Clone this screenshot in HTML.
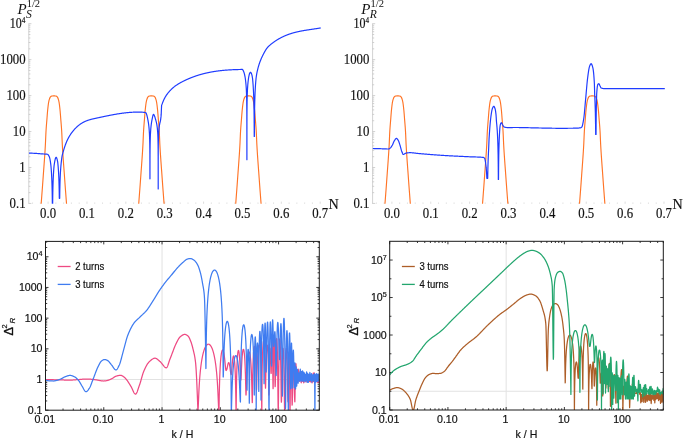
<!DOCTYPE html>
<html><head><meta charset="utf-8"><style>
html,body{margin:0;padding:0;background:#fff;width:685px;height:439px;overflow:hidden;}
svg{display:block;}
.ts{font-family:"Liberation Serif","DejaVu Serif",serif;font-size:12.8px;fill:#111;stroke:#111;stroke-width:0.15px;}
.tl{font-family:"Liberation Serif","DejaVu Serif",serif;fill:#111;}
.ss{font-family:"Liberation Sans","DejaVu Sans",sans-serif;font-size:10.6px;fill:#111;stroke:#111;stroke-width:0.18px;}
</style></head><body>
<svg width="685" height="439" viewBox="0 0 685 439">
<rect width="685" height="439" fill="#fff"/>
<line x1="28.80" y1="23.4" x2="28.80" y2="203.8" stroke="#d2d2d2" stroke-width="1"/>
<line x1="28.80" y1="203.45" x2="31.40" y2="203.45" stroke="#b4b4b4" stroke-width="0.6"/>
<line x1="28.80" y1="192.63" x2="30.40" y2="192.63" stroke="#b4b4b4" stroke-width="0.6"/>
<line x1="28.80" y1="186.30" x2="30.40" y2="186.30" stroke="#b4b4b4" stroke-width="0.6"/>
<line x1="28.80" y1="181.81" x2="30.40" y2="181.81" stroke="#b4b4b4" stroke-width="0.6"/>
<line x1="28.80" y1="178.32" x2="30.40" y2="178.32" stroke="#b4b4b4" stroke-width="0.6"/>
<line x1="28.80" y1="175.48" x2="30.40" y2="175.48" stroke="#b4b4b4" stroke-width="0.6"/>
<line x1="28.80" y1="173.07" x2="30.40" y2="173.07" stroke="#b4b4b4" stroke-width="0.6"/>
<line x1="28.80" y1="170.98" x2="30.40" y2="170.98" stroke="#b4b4b4" stroke-width="0.6"/>
<line x1="28.80" y1="169.14" x2="30.40" y2="169.14" stroke="#b4b4b4" stroke-width="0.6"/>
<line x1="28.80" y1="167.50" x2="31.40" y2="167.50" stroke="#b4b4b4" stroke-width="0.6"/>
<line x1="28.80" y1="156.68" x2="30.40" y2="156.68" stroke="#b4b4b4" stroke-width="0.6"/>
<line x1="28.80" y1="150.35" x2="30.40" y2="150.35" stroke="#b4b4b4" stroke-width="0.6"/>
<line x1="28.80" y1="145.86" x2="30.40" y2="145.86" stroke="#b4b4b4" stroke-width="0.6"/>
<line x1="28.80" y1="142.37" x2="30.40" y2="142.37" stroke="#b4b4b4" stroke-width="0.6"/>
<line x1="28.80" y1="139.53" x2="30.40" y2="139.53" stroke="#b4b4b4" stroke-width="0.6"/>
<line x1="28.80" y1="137.12" x2="30.40" y2="137.12" stroke="#b4b4b4" stroke-width="0.6"/>
<line x1="28.80" y1="135.03" x2="30.40" y2="135.03" stroke="#b4b4b4" stroke-width="0.6"/>
<line x1="28.80" y1="133.19" x2="30.40" y2="133.19" stroke="#b4b4b4" stroke-width="0.6"/>
<line x1="28.80" y1="131.55" x2="31.40" y2="131.55" stroke="#b4b4b4" stroke-width="0.6"/>
<line x1="28.80" y1="120.73" x2="30.40" y2="120.73" stroke="#b4b4b4" stroke-width="0.6"/>
<line x1="28.80" y1="114.40" x2="30.40" y2="114.40" stroke="#b4b4b4" stroke-width="0.6"/>
<line x1="28.80" y1="109.91" x2="30.40" y2="109.91" stroke="#b4b4b4" stroke-width="0.6"/>
<line x1="28.80" y1="106.42" x2="30.40" y2="106.42" stroke="#b4b4b4" stroke-width="0.6"/>
<line x1="28.80" y1="103.58" x2="30.40" y2="103.58" stroke="#b4b4b4" stroke-width="0.6"/>
<line x1="28.80" y1="101.17" x2="30.40" y2="101.17" stroke="#b4b4b4" stroke-width="0.6"/>
<line x1="28.80" y1="99.08" x2="30.40" y2="99.08" stroke="#b4b4b4" stroke-width="0.6"/>
<line x1="28.80" y1="97.24" x2="30.40" y2="97.24" stroke="#b4b4b4" stroke-width="0.6"/>
<line x1="28.80" y1="95.60" x2="31.40" y2="95.60" stroke="#b4b4b4" stroke-width="0.6"/>
<line x1="28.80" y1="84.78" x2="30.40" y2="84.78" stroke="#b4b4b4" stroke-width="0.6"/>
<line x1="28.80" y1="78.45" x2="30.40" y2="78.45" stroke="#b4b4b4" stroke-width="0.6"/>
<line x1="28.80" y1="73.96" x2="30.40" y2="73.96" stroke="#b4b4b4" stroke-width="0.6"/>
<line x1="28.80" y1="70.47" x2="30.40" y2="70.47" stroke="#b4b4b4" stroke-width="0.6"/>
<line x1="28.80" y1="67.63" x2="30.40" y2="67.63" stroke="#b4b4b4" stroke-width="0.6"/>
<line x1="28.80" y1="65.22" x2="30.40" y2="65.22" stroke="#b4b4b4" stroke-width="0.6"/>
<line x1="28.80" y1="63.13" x2="30.40" y2="63.13" stroke="#b4b4b4" stroke-width="0.6"/>
<line x1="28.80" y1="61.29" x2="30.40" y2="61.29" stroke="#b4b4b4" stroke-width="0.6"/>
<line x1="28.80" y1="59.65" x2="31.40" y2="59.65" stroke="#b4b4b4" stroke-width="0.6"/>
<line x1="28.80" y1="48.83" x2="30.40" y2="48.83" stroke="#b4b4b4" stroke-width="0.6"/>
<line x1="28.80" y1="42.50" x2="30.40" y2="42.50" stroke="#b4b4b4" stroke-width="0.6"/>
<line x1="28.80" y1="38.01" x2="30.40" y2="38.01" stroke="#b4b4b4" stroke-width="0.6"/>
<line x1="28.80" y1="34.52" x2="30.40" y2="34.52" stroke="#b4b4b4" stroke-width="0.6"/>
<line x1="28.80" y1="31.68" x2="30.40" y2="31.68" stroke="#b4b4b4" stroke-width="0.6"/>
<line x1="28.80" y1="29.27" x2="30.40" y2="29.27" stroke="#b4b4b4" stroke-width="0.6"/>
<line x1="28.80" y1="27.18" x2="30.40" y2="27.18" stroke="#b4b4b4" stroke-width="0.6"/>
<line x1="28.80" y1="25.34" x2="30.40" y2="25.34" stroke="#b4b4b4" stroke-width="0.6"/>
<line x1="28.80" y1="23.70" x2="31.40" y2="23.70" stroke="#b4b4b4" stroke-width="0.6"/>
<line x1="32.55" y1="203.8" x2="32.55" y2="202.50" stroke="#c8c8c8" stroke-width="0.6"/>
<line x1="40.33" y1="203.8" x2="40.33" y2="202.50" stroke="#c8c8c8" stroke-width="0.6"/>
<line x1="48.10" y1="203.8" x2="48.10" y2="201.60" stroke="#c8c8c8" stroke-width="0.6"/>
<line x1="55.87" y1="203.8" x2="55.87" y2="202.50" stroke="#c8c8c8" stroke-width="0.6"/>
<line x1="63.65" y1="203.8" x2="63.65" y2="202.50" stroke="#c8c8c8" stroke-width="0.6"/>
<line x1="71.42" y1="203.8" x2="71.42" y2="202.50" stroke="#c8c8c8" stroke-width="0.6"/>
<line x1="79.20" y1="203.8" x2="79.20" y2="202.50" stroke="#c8c8c8" stroke-width="0.6"/>
<line x1="86.97" y1="203.8" x2="86.97" y2="201.60" stroke="#c8c8c8" stroke-width="0.6"/>
<line x1="94.74" y1="203.8" x2="94.74" y2="202.50" stroke="#c8c8c8" stroke-width="0.6"/>
<line x1="102.52" y1="203.8" x2="102.52" y2="202.50" stroke="#c8c8c8" stroke-width="0.6"/>
<line x1="110.29" y1="203.8" x2="110.29" y2="202.50" stroke="#c8c8c8" stroke-width="0.6"/>
<line x1="118.07" y1="203.8" x2="118.07" y2="202.50" stroke="#c8c8c8" stroke-width="0.6"/>
<line x1="125.84" y1="203.8" x2="125.84" y2="201.60" stroke="#c8c8c8" stroke-width="0.6"/>
<line x1="133.61" y1="203.8" x2="133.61" y2="202.50" stroke="#c8c8c8" stroke-width="0.6"/>
<line x1="141.39" y1="203.8" x2="141.39" y2="202.50" stroke="#c8c8c8" stroke-width="0.6"/>
<line x1="149.16" y1="203.8" x2="149.16" y2="202.50" stroke="#c8c8c8" stroke-width="0.6"/>
<line x1="156.94" y1="203.8" x2="156.94" y2="202.50" stroke="#c8c8c8" stroke-width="0.6"/>
<line x1="164.71" y1="203.8" x2="164.71" y2="201.60" stroke="#c8c8c8" stroke-width="0.6"/>
<line x1="172.48" y1="203.8" x2="172.48" y2="202.50" stroke="#c8c8c8" stroke-width="0.6"/>
<line x1="180.26" y1="203.8" x2="180.26" y2="202.50" stroke="#c8c8c8" stroke-width="0.6"/>
<line x1="188.03" y1="203.8" x2="188.03" y2="202.50" stroke="#c8c8c8" stroke-width="0.6"/>
<line x1="195.81" y1="203.8" x2="195.81" y2="202.50" stroke="#c8c8c8" stroke-width="0.6"/>
<line x1="203.58" y1="203.8" x2="203.58" y2="201.60" stroke="#c8c8c8" stroke-width="0.6"/>
<line x1="211.35" y1="203.8" x2="211.35" y2="202.50" stroke="#c8c8c8" stroke-width="0.6"/>
<line x1="219.13" y1="203.8" x2="219.13" y2="202.50" stroke="#c8c8c8" stroke-width="0.6"/>
<line x1="226.90" y1="203.8" x2="226.90" y2="202.50" stroke="#c8c8c8" stroke-width="0.6"/>
<line x1="234.68" y1="203.8" x2="234.68" y2="202.50" stroke="#c8c8c8" stroke-width="0.6"/>
<line x1="242.45" y1="203.8" x2="242.45" y2="201.60" stroke="#c8c8c8" stroke-width="0.6"/>
<line x1="250.22" y1="203.8" x2="250.22" y2="202.50" stroke="#c8c8c8" stroke-width="0.6"/>
<line x1="258.00" y1="203.8" x2="258.00" y2="202.50" stroke="#c8c8c8" stroke-width="0.6"/>
<line x1="265.77" y1="203.8" x2="265.77" y2="202.50" stroke="#c8c8c8" stroke-width="0.6"/>
<line x1="273.55" y1="203.8" x2="273.55" y2="202.50" stroke="#c8c8c8" stroke-width="0.6"/>
<line x1="281.32" y1="203.8" x2="281.32" y2="201.60" stroke="#c8c8c8" stroke-width="0.6"/>
<line x1="289.09" y1="203.8" x2="289.09" y2="202.50" stroke="#c8c8c8" stroke-width="0.6"/>
<line x1="296.87" y1="203.8" x2="296.87" y2="202.50" stroke="#c8c8c8" stroke-width="0.6"/>
<line x1="304.64" y1="203.8" x2="304.64" y2="202.50" stroke="#c8c8c8" stroke-width="0.6"/>
<line x1="312.42" y1="203.8" x2="312.42" y2="202.50" stroke="#c8c8c8" stroke-width="0.6"/>
<line x1="320.19" y1="203.8" x2="320.19" y2="201.60" stroke="#c8c8c8" stroke-width="0.6"/>
<text transform="translate(25.60,63.95) scale(1,1.17)" text-anchor="end" class="ts">1000</text>
<text transform="translate(25.60,99.90) scale(1,1.17)" text-anchor="end" class="ts">100</text>
<text transform="translate(25.60,135.85) scale(1,1.17)" text-anchor="end" class="ts">10</text>
<text transform="translate(25.60,171.80) scale(1,1.17)" text-anchor="end" class="ts">1</text>
<text transform="translate(25.60,207.75) scale(1,1.17)" text-anchor="end" class="ts">0.1</text>
<text transform="translate(25.40,27.80) scale(1,1.22)" text-anchor="end" class="ts" style="font-size:12px">10<tspan style="font-size:7.2px" dy="-4.2">4</tspan></text>
<text transform="translate(48.10,217.9) scale(1,1.17)" text-anchor="middle" class="ts">0.0</text>
<text transform="translate(86.97,217.9) scale(1,1.17)" text-anchor="middle" class="ts">0.1</text>
<text transform="translate(125.84,217.9) scale(1,1.17)" text-anchor="middle" class="ts">0.2</text>
<text transform="translate(164.71,217.9) scale(1,1.17)" text-anchor="middle" class="ts">0.3</text>
<text transform="translate(203.58,217.9) scale(1,1.17)" text-anchor="middle" class="ts">0.4</text>
<text transform="translate(242.45,217.9) scale(1,1.17)" text-anchor="middle" class="ts">0.5</text>
<text transform="translate(281.32,217.9) scale(1,1.17)" text-anchor="middle" class="ts">0.6</text>
<text transform="translate(320.19,217.9) scale(1,1.17)" text-anchor="middle" class="ts">0.7</text>
<text transform="translate(328.60,208.8) scale(1,1.08)" class="ts" style="font-size:14.2px">N</text>
<text x="17.50" y="13.7" class="tl" style="font-size:15px;font-style:italic">P</text>
<text x="26.70" y="6.8" class="tl" style="font-size:10.5px">1/2</text>
<text x="26.00" y="17.6" class="tl" style="font-size:11.6px;font-style:italic">S</text>
<clipPath id="clipT0"><rect x="28.80" y="0" width="300" height="203.80"/></clipPath>
<g clip-path="url(#clipT0)" fill="none" stroke-linejoin="round">
<path d="M40.85 207.90L40.90 207.26L40.95 206.63L41.00 205.99L41.05 205.35L41.10 204.70L41.15 204.06L41.20 203.41L41.25 202.77L41.30 202.12L41.35 201.47L41.40 200.82L41.45 200.17L41.50 199.51L41.55 198.86L41.60 198.20L41.65 197.54L41.70 196.88L41.75 196.22L41.80 195.56L41.85 194.89L41.90 194.23L41.95 193.56L42.00 192.89L42.05 192.22L42.10 191.55L42.16 190.88L42.21 190.21L42.26 189.53L42.31 188.86L42.36 188.18L42.41 187.50L42.46 186.82L42.51 186.14L42.56 185.46L42.61 184.77L42.66 184.09L42.71 183.40L42.76 182.71L42.81 182.03L42.86 181.34L42.91 180.64L42.96 179.95L43.01 179.26L43.06 178.56L43.11 177.87L43.16 177.17L43.21 176.47L43.26 175.77L43.31 175.07L43.36 174.38L43.41 173.69L43.46 173.01L43.51 172.32L43.56 171.64L43.61 170.97L43.66 170.29L43.71 169.61L43.76 168.94L43.81 168.27L43.86 167.59L43.91 166.92L43.96 166.24L44.01 165.56L44.06 164.88L44.11 164.20L44.16 163.51L44.21 162.82L44.26 162.13L44.31 161.43L44.36 160.73L44.41 160.02L44.46 159.30L44.51 158.58L44.56 157.86L44.61 157.12L44.66 156.38L44.71 155.63L44.77 154.87L44.82 154.11L44.87 153.33L44.92 152.54L44.97 151.74L45.02 150.94L45.07 150.12L45.12 149.29L45.17 148.44L45.22 147.59L45.27 146.72L45.32 145.83L45.37 144.93L45.42 143.96L45.47 142.93L45.52 141.83L45.57 140.70L45.62 139.54L45.67 138.36L45.72 137.20L45.77 136.05L45.82 134.93L45.87 133.86L45.92 132.85L45.97 131.92L46.02 131.07L46.07 130.27L46.12 129.50L46.17 128.75L46.22 128.03L46.27 127.33L46.32 126.64L46.37 125.98L46.42 125.33L46.47 124.70L46.52 124.07L46.57 123.46L46.62 122.85L46.67 122.24L46.72 121.64L46.77 121.04L46.82 120.43L46.87 119.83L46.92 119.21L46.97 118.58L47.02 117.95L47.07 117.30L47.12 116.64L47.17 115.98L47.22 115.31L47.27 114.65L47.32 114.00L47.38 113.36L47.43 112.73L47.48 112.13L47.53 111.55L47.58 111.00L47.63 110.48L47.68 110.00L47.73 109.52L47.78 109.05L47.83 108.59L47.88 108.13L47.93 107.67L47.98 107.23L48.03 106.79L48.08 106.36L48.13 105.94L48.18 105.53L48.23 105.13L48.28 104.74L48.33 104.36L48.38 103.99L48.43 103.64L48.48 103.29L48.53 102.96L48.58 102.65L48.63 102.34L48.68 102.06L48.73 101.78L48.78 101.53L48.83 101.29L48.88 101.06L48.93 100.85L48.98 100.64L49.03 100.45L49.08 100.26L49.13 100.08L49.18 99.90L49.23 99.74L49.28 99.58L49.33 99.42L49.38 99.27L49.43 99.13L49.48 98.99L49.53 98.85L49.58 98.72L49.63 98.59L49.68 98.46L49.73 98.34L49.78 98.21L49.83 98.09L49.88 97.96L49.93 97.84L49.99 97.73L50.04 97.61L50.09 97.51L50.14 97.40L50.19 97.30L50.24 97.21L50.29 97.13L50.34 97.05L50.39 96.98L50.44 96.91L50.49 96.86L50.54 96.80L50.59 96.75L50.64 96.70L50.69 96.65L50.74 96.60L50.79 96.56L50.84 96.51L50.89 96.47L50.94 96.43L50.99 96.39L51.04 96.35L51.09 96.32L51.14 96.29L51.19 96.26L51.24 96.23L51.29 96.21L51.34 96.19L51.39 96.17L51.44 96.15L51.49 96.14L51.54 96.13L51.59 96.11L51.64 96.10L51.69 96.09L51.74 96.08L51.79 96.07L51.84 96.06L51.89 96.05L51.94 96.04L51.99 96.03L52.04 96.02L52.09 96.01L52.14 96.00L52.19 96.00L52.24 95.99L52.29 95.98L52.34 95.98L52.39 95.97L52.44 95.97L52.49 95.96L52.54 95.96L52.60 95.95L52.65 95.95L52.70 95.95L52.75 95.94L52.80 95.94L52.85 95.94L52.90 95.93L52.95 95.93L53.00 95.93L53.05 95.93L53.10 95.92L53.15 95.92L53.20 95.92L53.25 95.92L53.30 95.91L53.35 95.91L53.40 95.91L53.45 95.91L53.50 95.91L53.55 95.90L53.60 95.90L53.65 95.90L53.70 95.90L53.75 95.90L53.80 95.90L53.85 95.90L53.90 95.90L53.95 95.90L54.00 95.90L54.05 95.90L54.10 95.90L54.15 95.90L54.20 95.91L54.25 95.91L54.30 95.91L54.35 95.91L54.40 95.91L54.45 95.92L54.50 95.92L54.55 95.92L54.60 95.92L54.65 95.93L54.70 95.93L54.75 95.93L54.80 95.93L54.85 95.94L54.90 95.94L54.95 95.94L55.00 95.95L55.05 95.95L55.10 95.95L55.16 95.96L55.21 95.96L55.26 95.97L55.31 95.97L55.36 95.98L55.41 95.98L55.46 95.99L55.51 96.00L55.56 96.00L55.61 96.01L55.66 96.02L55.71 96.03L55.76 96.04L55.81 96.05L55.86 96.06L55.91 96.07L55.96 96.08L56.01 96.09L56.06 96.10L56.11 96.11L56.16 96.13L56.21 96.14L56.26 96.15L56.31 96.17L56.36 96.19L56.41 96.21L56.46 96.23L56.51 96.26L56.56 96.29L56.61 96.32L56.66 96.35L56.71 96.39L56.76 96.43L56.81 96.47L56.86 96.51L56.91 96.56L56.96 96.60L57.01 96.65L57.06 96.70L57.11 96.75L57.16 96.80L57.21 96.86L57.26 96.91L57.31 96.98L57.36 97.05L57.41 97.13L57.46 97.21L57.51 97.30L57.56 97.40L57.61 97.51L57.66 97.61L57.71 97.73L57.77 97.84L57.82 97.96L57.87 98.09L57.92 98.21L57.97 98.34L58.02 98.46L58.07 98.59L58.12 98.72L58.17 98.85L58.22 98.99L58.27 99.13L58.32 99.27L58.37 99.42L58.42 99.58L58.47 99.74L58.52 99.90L58.57 100.08L58.62 100.26L58.67 100.45L58.72 100.64L58.77 100.85L58.82 101.06L58.87 101.29L58.92 101.53L58.97 101.78L59.02 102.06L59.07 102.34L59.12 102.65L59.17 102.96L59.22 103.29L59.27 103.64L59.32 103.99L59.37 104.36L59.42 104.74L59.47 105.13L59.52 105.53L59.57 105.94L59.62 106.36L59.67 106.79L59.72 107.23L59.77 107.67L59.82 108.13L59.87 108.59L59.92 109.05L59.97 109.52L60.02 110.00L60.07 110.48L60.12 111.00L60.17 111.55L60.22 112.13L60.27 112.73L60.32 113.36L60.38 114.00L60.43 114.65L60.48 115.31L60.53 115.98L60.58 116.64L60.63 117.30L60.68 117.95L60.73 118.58L60.78 119.21L60.83 119.83L60.88 120.43L60.93 121.04L60.98 121.64L61.03 122.24L61.08 122.85L61.13 123.46L61.18 124.07L61.23 124.70L61.28 125.33L61.33 125.98L61.38 126.64L61.43 127.33L61.48 128.03L61.53 128.75L61.58 129.50L61.63 130.27L61.68 131.07L61.73 131.92L61.78 132.85L61.83 133.86L61.88 134.93L61.93 136.05L61.98 137.20L62.03 138.36L62.08 139.54L62.13 140.70L62.18 141.83L62.23 142.93L62.28 143.96L62.33 144.93L62.38 145.83L62.43 146.72L62.48 147.59L62.53 148.44L62.58 149.29L62.63 150.12L62.68 150.94L62.73 151.74L62.78 152.54L62.83 153.33L62.88 154.11L62.93 154.87L62.99 155.63L63.04 156.38L63.09 157.12L63.14 157.86L63.19 158.58L63.24 159.30L63.29 160.02L63.34 160.73L63.39 161.43L63.44 162.13L63.49 162.82L63.54 163.51L63.59 164.20L63.64 164.88L63.69 165.56L63.74 166.24L63.79 166.92L63.84 167.59L63.89 168.27L63.94 168.94L63.99 169.61L64.04 170.29L64.09 170.97L64.14 171.64L64.19 172.32L64.24 173.01L64.29 173.69L64.34 174.38L64.39 175.07L64.44 175.77L64.49 176.47L64.54 177.17L64.59 177.87L64.64 178.56L64.69 179.26L64.74 179.95L64.79 180.64L64.84 181.34L64.89 182.03L64.94 182.71L64.99 183.40L65.04 184.09L65.09 184.77L65.14 185.46L65.19 186.14L65.24 186.82L65.29 187.50L65.34 188.18L65.39 188.86L65.44 189.53L65.49 190.21L65.54 190.88L65.60 191.55L65.65 192.22L65.70 192.89L65.75 193.56L65.80 194.23L65.85 194.89L65.90 195.56L65.95 196.22L66.00 196.88L66.05 197.54L66.10 198.20L66.15 198.86L66.20 199.51L66.25 200.17L66.30 200.82L66.35 201.47L66.40 202.12L66.45 202.77L66.50 203.41L66.55 204.06L66.60 204.70L66.65 205.35L66.70 205.99L66.75 206.63L66.80 207.26L66.85 207.90" stroke="#ff7426" stroke-width="1.15"/>
<path d="M138.40 207.90L138.45 207.26L138.50 206.63L138.55 205.99L138.60 205.35L138.65 204.70L138.70 204.06L138.75 203.41L138.80 202.77L138.85 202.12L138.90 201.47L138.95 200.82L139.00 200.17L139.05 199.51L139.10 198.86L139.15 198.20L139.20 197.54L139.25 196.88L139.30 196.22L139.35 195.56L139.40 194.89L139.45 194.23L139.50 193.56L139.55 192.89L139.60 192.22L139.65 191.55L139.71 190.88L139.76 190.21L139.81 189.53L139.86 188.86L139.91 188.18L139.96 187.50L140.01 186.82L140.06 186.14L140.11 185.46L140.16 184.77L140.21 184.09L140.26 183.40L140.31 182.71L140.36 182.03L140.41 181.34L140.46 180.64L140.51 179.95L140.56 179.26L140.61 178.56L140.66 177.87L140.71 177.17L140.76 176.47L140.81 175.77L140.86 175.07L140.91 174.38L140.96 173.69L141.01 173.01L141.06 172.32L141.11 171.64L141.16 170.97L141.21 170.29L141.26 169.61L141.31 168.94L141.36 168.27L141.41 167.59L141.46 166.92L141.51 166.24L141.56 165.56L141.61 164.88L141.66 164.20L141.71 163.51L141.76 162.82L141.81 162.13L141.86 161.43L141.91 160.73L141.96 160.02L142.01 159.30L142.06 158.58L142.11 157.86L142.16 157.12L142.21 156.38L142.26 155.63L142.32 154.87L142.37 154.11L142.42 153.33L142.47 152.54L142.52 151.74L142.57 150.94L142.62 150.12L142.67 149.29L142.72 148.44L142.77 147.59L142.82 146.72L142.87 145.83L142.92 144.93L142.97 143.96L143.02 142.93L143.07 141.83L143.12 140.70L143.17 139.54L143.22 138.36L143.27 137.20L143.32 136.05L143.37 134.93L143.42 133.86L143.47 132.85L143.52 131.92L143.57 131.07L143.62 130.27L143.67 129.50L143.72 128.75L143.77 128.03L143.82 127.33L143.87 126.64L143.92 125.98L143.97 125.33L144.02 124.70L144.07 124.07L144.12 123.46L144.17 122.85L144.22 122.24L144.27 121.64L144.32 121.04L144.37 120.43L144.42 119.83L144.47 119.21L144.52 118.58L144.57 117.95L144.62 117.30L144.67 116.64L144.72 115.98L144.77 115.31L144.82 114.65L144.87 114.00L144.93 113.36L144.98 112.73L145.03 112.13L145.08 111.55L145.13 111.00L145.18 110.48L145.23 110.00L145.28 109.52L145.33 109.05L145.38 108.59L145.43 108.13L145.48 107.67L145.53 107.23L145.58 106.79L145.63 106.36L145.68 105.94L145.73 105.53L145.78 105.13L145.83 104.74L145.88 104.36L145.93 103.99L145.98 103.64L146.03 103.29L146.08 102.96L146.13 102.65L146.18 102.34L146.23 102.06L146.28 101.78L146.33 101.53L146.38 101.29L146.43 101.06L146.48 100.85L146.53 100.64L146.58 100.45L146.63 100.26L146.68 100.08L146.73 99.90L146.78 99.74L146.83 99.58L146.88 99.42L146.93 99.27L146.98 99.13L147.03 98.99L147.08 98.85L147.13 98.72L147.18 98.59L147.23 98.46L147.28 98.34L147.33 98.21L147.38 98.09L147.43 97.96L147.48 97.84L147.54 97.73L147.59 97.61L147.64 97.51L147.69 97.40L147.74 97.30L147.79 97.21L147.84 97.13L147.89 97.05L147.94 96.98L147.99 96.91L148.04 96.86L148.09 96.80L148.14 96.75L148.19 96.70L148.24 96.65L148.29 96.60L148.34 96.56L148.39 96.51L148.44 96.47L148.49 96.43L148.54 96.39L148.59 96.35L148.64 96.32L148.69 96.29L148.74 96.26L148.79 96.23L148.84 96.21L148.89 96.19L148.94 96.17L148.99 96.15L149.04 96.14L149.09 96.13L149.14 96.11L149.19 96.10L149.24 96.09L149.29 96.08L149.34 96.07L149.39 96.06L149.44 96.05L149.49 96.04L149.54 96.03L149.59 96.02L149.64 96.01L149.69 96.00L149.74 96.00L149.79 95.99L149.84 95.98L149.89 95.98L149.94 95.97L149.99 95.97L150.04 95.96L150.09 95.96L150.15 95.95L150.20 95.95L150.25 95.95L150.30 95.94L150.35 95.94L150.40 95.94L150.45 95.93L150.50 95.93L150.55 95.93L150.60 95.93L150.65 95.92L150.70 95.92L150.75 95.92L150.80 95.92L150.85 95.91L150.90 95.91L150.95 95.91L151.00 95.91L151.05 95.91L151.10 95.90L151.15 95.90L151.20 95.90L151.25 95.90L151.30 95.90L151.35 95.90L151.40 95.90L151.45 95.90L151.50 95.90L151.55 95.90L151.60 95.90L151.65 95.90L151.70 95.90L151.75 95.91L151.80 95.91L151.85 95.91L151.90 95.91L151.95 95.91L152.00 95.92L152.05 95.92L152.10 95.92L152.15 95.92L152.20 95.93L152.25 95.93L152.30 95.93L152.35 95.93L152.40 95.94L152.45 95.94L152.50 95.94L152.55 95.95L152.60 95.95L152.65 95.95L152.71 95.96L152.76 95.96L152.81 95.97L152.86 95.97L152.91 95.98L152.96 95.98L153.01 95.99L153.06 96.00L153.11 96.00L153.16 96.01L153.21 96.02L153.26 96.03L153.31 96.04L153.36 96.05L153.41 96.06L153.46 96.07L153.51 96.08L153.56 96.09L153.61 96.10L153.66 96.11L153.71 96.13L153.76 96.14L153.81 96.15L153.86 96.17L153.91 96.19L153.96 96.21L154.01 96.23L154.06 96.26L154.11 96.29L154.16 96.32L154.21 96.35L154.26 96.39L154.31 96.43L154.36 96.47L154.41 96.51L154.46 96.56L154.51 96.60L154.56 96.65L154.61 96.70L154.66 96.75L154.71 96.80L154.76 96.86L154.81 96.91L154.86 96.98L154.91 97.05L154.96 97.13L155.01 97.21L155.06 97.30L155.11 97.40L155.16 97.51L155.21 97.61L155.26 97.73L155.32 97.84L155.37 97.96L155.42 98.09L155.47 98.21L155.52 98.34L155.57 98.46L155.62 98.59L155.67 98.72L155.72 98.85L155.77 98.99L155.82 99.13L155.87 99.27L155.92 99.42L155.97 99.58L156.02 99.74L156.07 99.90L156.12 100.08L156.17 100.26L156.22 100.45L156.27 100.64L156.32 100.85L156.37 101.06L156.42 101.29L156.47 101.53L156.52 101.78L156.57 102.06L156.62 102.34L156.67 102.65L156.72 102.96L156.77 103.29L156.82 103.64L156.87 103.99L156.92 104.36L156.97 104.74L157.02 105.13L157.07 105.53L157.12 105.94L157.17 106.36L157.22 106.79L157.27 107.23L157.32 107.67L157.37 108.13L157.42 108.59L157.47 109.05L157.52 109.52L157.57 110.00L157.62 110.48L157.67 111.00L157.72 111.55L157.77 112.13L157.82 112.73L157.87 113.36L157.93 114.00L157.98 114.65L158.03 115.31L158.08 115.98L158.13 116.64L158.18 117.30L158.23 117.95L158.28 118.58L158.33 119.21L158.38 119.83L158.43 120.43L158.48 121.04L158.53 121.64L158.58 122.24L158.63 122.85L158.68 123.46L158.73 124.07L158.78 124.70L158.83 125.33L158.88 125.98L158.93 126.64L158.98 127.33L159.03 128.03L159.08 128.75L159.13 129.50L159.18 130.27L159.23 131.07L159.28 131.92L159.33 132.85L159.38 133.86L159.43 134.93L159.48 136.05L159.53 137.20L159.58 138.36L159.63 139.54L159.68 140.70L159.73 141.83L159.78 142.93L159.83 143.96L159.88 144.93L159.93 145.83L159.98 146.72L160.03 147.59L160.08 148.44L160.13 149.29L160.18 150.12L160.23 150.94L160.28 151.74L160.33 152.54L160.38 153.33L160.43 154.11L160.48 154.87L160.54 155.63L160.59 156.38L160.64 157.12L160.69 157.86L160.74 158.58L160.79 159.30L160.84 160.02L160.89 160.73L160.94 161.43L160.99 162.13L161.04 162.82L161.09 163.51L161.14 164.20L161.19 164.88L161.24 165.56L161.29 166.24L161.34 166.92L161.39 167.59L161.44 168.27L161.49 168.94L161.54 169.61L161.59 170.29L161.64 170.97L161.69 171.64L161.74 172.32L161.79 173.01L161.84 173.69L161.89 174.38L161.94 175.07L161.99 175.77L162.04 176.47L162.09 177.17L162.14 177.87L162.19 178.56L162.24 179.26L162.29 179.95L162.34 180.64L162.39 181.34L162.44 182.03L162.49 182.71L162.54 183.40L162.59 184.09L162.64 184.77L162.69 185.46L162.74 186.14L162.79 186.82L162.84 187.50L162.89 188.18L162.94 188.86L162.99 189.53L163.04 190.21L163.09 190.88L163.15 191.55L163.20 192.22L163.25 192.89L163.30 193.56L163.35 194.23L163.40 194.89L163.45 195.56L163.50 196.22L163.55 196.88L163.60 197.54L163.65 198.20L163.70 198.86L163.75 199.51L163.80 200.17L163.85 200.82L163.90 201.47L163.95 202.12L164.00 202.77L164.05 203.41L164.10 204.06L164.15 204.70L164.20 205.35L164.25 205.99L164.30 206.63L164.35 207.26L164.40 207.90" stroke="#ff7426" stroke-width="1.15"/>
<path d="M235.40 207.90L235.45 207.26L235.50 206.63L235.55 205.99L235.60 205.35L235.65 204.70L235.70 204.06L235.75 203.41L235.80 202.77L235.85 202.12L235.90 201.47L235.95 200.82L236.00 200.17L236.05 199.51L236.10 198.86L236.15 198.20L236.20 197.54L236.25 196.88L236.30 196.22L236.35 195.56L236.40 194.89L236.45 194.23L236.50 193.56L236.55 192.89L236.60 192.22L236.65 191.55L236.71 190.88L236.76 190.21L236.81 189.53L236.86 188.86L236.91 188.18L236.96 187.50L237.01 186.82L237.06 186.14L237.11 185.46L237.16 184.77L237.21 184.09L237.26 183.40L237.31 182.71L237.36 182.03L237.41 181.34L237.46 180.64L237.51 179.95L237.56 179.26L237.61 178.56L237.66 177.87L237.71 177.17L237.76 176.47L237.81 175.77L237.86 175.07L237.91 174.38L237.96 173.69L238.01 173.01L238.06 172.32L238.11 171.64L238.16 170.97L238.21 170.29L238.26 169.61L238.31 168.94L238.36 168.27L238.41 167.59L238.46 166.92L238.51 166.24L238.56 165.56L238.61 164.88L238.66 164.20L238.71 163.51L238.76 162.82L238.81 162.13L238.86 161.43L238.91 160.73L238.96 160.02L239.01 159.30L239.06 158.58L239.11 157.86L239.16 157.12L239.21 156.38L239.26 155.63L239.32 154.87L239.37 154.11L239.42 153.33L239.47 152.54L239.52 151.74L239.57 150.94L239.62 150.12L239.67 149.29L239.72 148.44L239.77 147.59L239.82 146.72L239.87 145.83L239.92 144.93L239.97 143.96L240.02 142.93L240.07 141.83L240.12 140.70L240.17 139.54L240.22 138.36L240.27 137.20L240.32 136.05L240.37 134.93L240.42 133.86L240.47 132.85L240.52 131.92L240.57 131.07L240.62 130.27L240.67 129.50L240.72 128.75L240.77 128.03L240.82 127.33L240.87 126.64L240.92 125.98L240.97 125.33L241.02 124.70L241.07 124.07L241.12 123.46L241.17 122.85L241.22 122.24L241.27 121.64L241.32 121.04L241.37 120.43L241.42 119.83L241.47 119.21L241.52 118.58L241.57 117.95L241.62 117.30L241.67 116.64L241.72 115.98L241.77 115.31L241.82 114.65L241.87 114.00L241.93 113.36L241.98 112.73L242.03 112.13L242.08 111.55L242.13 111.00L242.18 110.48L242.23 110.00L242.28 109.52L242.33 109.05L242.38 108.59L242.43 108.13L242.48 107.67L242.53 107.23L242.58 106.79L242.63 106.36L242.68 105.94L242.73 105.53L242.78 105.13L242.83 104.74L242.88 104.36L242.93 103.99L242.98 103.64L243.03 103.29L243.08 102.96L243.13 102.65L243.18 102.34L243.23 102.06L243.28 101.78L243.33 101.53L243.38 101.29L243.43 101.06L243.48 100.85L243.53 100.64L243.58 100.45L243.63 100.26L243.68 100.08L243.73 99.90L243.78 99.74L243.83 99.58L243.88 99.42L243.93 99.27L243.98 99.13L244.03 98.99L244.08 98.85L244.13 98.72L244.18 98.59L244.23 98.46L244.28 98.34L244.33 98.21L244.38 98.09L244.43 97.96L244.48 97.84L244.54 97.73L244.59 97.61L244.64 97.51L244.69 97.40L244.74 97.30L244.79 97.21L244.84 97.13L244.89 97.05L244.94 96.98L244.99 96.91L245.04 96.86L245.09 96.80L245.14 96.75L245.19 96.70L245.24 96.65L245.29 96.60L245.34 96.56L245.39 96.51L245.44 96.47L245.49 96.43L245.54 96.39L245.59 96.35L245.64 96.32L245.69 96.29L245.74 96.26L245.79 96.23L245.84 96.21L245.89 96.19L245.94 96.17L245.99 96.15L246.04 96.14L246.09 96.13L246.14 96.11L246.19 96.10L246.24 96.09L246.29 96.08L246.34 96.07L246.39 96.06L246.44 96.05L246.49 96.04L246.54 96.03L246.59 96.02L246.64 96.01L246.69 96.00L246.74 96.00L246.79 95.99L246.84 95.98L246.89 95.98L246.94 95.97L246.99 95.97L247.04 95.96L247.09 95.96L247.15 95.95L247.20 95.95L247.25 95.95L247.30 95.94L247.35 95.94L247.40 95.94L247.45 95.93L247.50 95.93L247.55 95.93L247.60 95.93L247.65 95.92L247.70 95.92L247.75 95.92L247.80 95.92L247.85 95.91L247.90 95.91L247.95 95.91L248.00 95.91L248.05 95.91L248.10 95.90L248.15 95.90L248.20 95.90L248.25 95.90L248.30 95.90L248.35 95.90L248.40 95.90L248.45 95.90L248.50 95.90L248.55 95.90L248.60 95.90L248.65 95.90L248.70 95.90L248.75 95.91L248.80 95.91L248.85 95.91L248.90 95.91L248.95 95.91L249.00 95.92L249.05 95.92L249.10 95.92L249.15 95.92L249.20 95.93L249.25 95.93L249.30 95.93L249.35 95.93L249.40 95.94L249.45 95.94L249.50 95.94L249.55 95.95L249.60 95.95L249.65 95.95L249.71 95.96L249.76 95.96L249.81 95.97L249.86 95.97L249.91 95.98L249.96 95.98L250.01 95.99L250.06 96.00L250.11 96.00L250.16 96.01L250.21 96.02L250.26 96.03L250.31 96.04L250.36 96.05L250.41 96.06L250.46 96.07L250.51 96.08L250.56 96.09L250.61 96.10L250.66 96.11L250.71 96.13L250.76 96.14L250.81 96.15L250.86 96.17L250.91 96.19L250.96 96.21L251.01 96.23L251.06 96.26L251.11 96.29L251.16 96.32L251.21 96.35L251.26 96.39L251.31 96.43L251.36 96.47L251.41 96.51L251.46 96.56L251.51 96.60L251.56 96.65L251.61 96.70L251.66 96.75L251.71 96.80L251.76 96.86L251.81 96.91L251.86 96.98L251.91 97.05L251.96 97.13L252.01 97.21L252.06 97.30L252.11 97.40L252.16 97.51L252.21 97.61L252.26 97.73L252.32 97.84L252.37 97.96L252.42 98.09L252.47 98.21L252.52 98.34L252.57 98.46L252.62 98.59L252.67 98.72L252.72 98.85L252.77 98.99L252.82 99.13L252.87 99.27L252.92 99.42L252.97 99.58L253.02 99.74L253.07 99.90L253.12 100.08L253.17 100.26L253.22 100.45L253.27 100.64L253.32 100.85L253.37 101.06L253.42 101.29L253.47 101.53L253.52 101.78L253.57 102.06L253.62 102.34L253.67 102.65L253.72 102.96L253.77 103.29L253.82 103.64L253.87 103.99L253.92 104.36L253.97 104.74L254.02 105.13L254.07 105.53L254.12 105.94L254.17 106.36L254.22 106.79L254.27 107.23L254.32 107.67L254.37 108.13L254.42 108.59L254.47 109.05L254.52 109.52L254.57 110.00L254.62 110.48L254.67 111.00L254.72 111.55L254.77 112.13L254.82 112.73L254.87 113.36L254.93 114.00L254.98 114.65L255.03 115.31L255.08 115.98L255.13 116.64L255.18 117.30L255.23 117.95L255.28 118.58L255.33 119.21L255.38 119.83L255.43 120.43L255.48 121.04L255.53 121.64L255.58 122.24L255.63 122.85L255.68 123.46L255.73 124.07L255.78 124.70L255.83 125.33L255.88 125.98L255.93 126.64L255.98 127.33L256.03 128.03L256.08 128.75L256.13 129.50L256.18 130.27L256.23 131.07L256.28 131.92L256.33 132.85L256.38 133.86L256.43 134.93L256.48 136.05L256.53 137.20L256.58 138.36L256.63 139.54L256.68 140.70L256.73 141.83L256.78 142.93L256.83 143.96L256.88 144.93L256.93 145.83L256.98 146.72L257.03 147.59L257.08 148.44L257.13 149.29L257.18 150.12L257.23 150.94L257.28 151.74L257.33 152.54L257.38 153.33L257.43 154.11L257.48 154.87L257.54 155.63L257.59 156.38L257.64 157.12L257.69 157.86L257.74 158.58L257.79 159.30L257.84 160.02L257.89 160.73L257.94 161.43L257.99 162.13L258.04 162.82L258.09 163.51L258.14 164.20L258.19 164.88L258.24 165.56L258.29 166.24L258.34 166.92L258.39 167.59L258.44 168.27L258.49 168.94L258.54 169.61L258.59 170.29L258.64 170.97L258.69 171.64L258.74 172.32L258.79 173.01L258.84 173.69L258.89 174.38L258.94 175.07L258.99 175.77L259.04 176.47L259.09 177.17L259.14 177.87L259.19 178.56L259.24 179.26L259.29 179.95L259.34 180.64L259.39 181.34L259.44 182.03L259.49 182.71L259.54 183.40L259.59 184.09L259.64 184.77L259.69 185.46L259.74 186.14L259.79 186.82L259.84 187.50L259.89 188.18L259.94 188.86L259.99 189.53L260.04 190.21L260.09 190.88L260.15 191.55L260.20 192.22L260.25 192.89L260.30 193.56L260.35 194.23L260.40 194.89L260.45 195.56L260.50 196.22L260.55 196.88L260.60 197.54L260.65 198.20L260.70 198.86L260.75 199.51L260.80 200.17L260.85 200.82L260.90 201.47L260.95 202.12L261.00 202.77L261.05 203.41L261.10 204.06L261.15 204.70L261.20 205.35L261.25 205.99L261.30 206.63L261.35 207.26L261.40 207.90" stroke="#ff7426" stroke-width="1.15"/>
<path d="M28.80 153.10L29.00 153.10L29.20 153.11L29.40 153.11L29.60 153.12L29.80 153.12L30.00 153.13L30.20 153.13L30.40 153.14L30.60 153.15L30.80 153.15L31.00 153.16L31.20 153.17L31.40 153.18L31.60 153.18L31.80 153.19L32.00 153.20L32.20 153.21L32.40 153.22L32.60 153.23L32.80 153.23L33.00 153.24L33.20 153.25L33.40 153.26L33.60 153.27L33.80 153.28L34.00 153.29L34.20 153.30L34.40 153.31L34.60 153.32L34.80 153.33L35.00 153.34L35.20 153.36L35.40 153.37L35.60 153.38L35.80 153.39L36.00 153.40L36.00 153.40L36.20 153.41L36.40 153.42L36.60 153.44L36.80 153.45L37.00 153.47L37.20 153.48L37.40 153.50L37.60 153.51L37.80 153.53L38.00 153.55L38.20 153.56L38.40 153.58L38.60 153.60L38.80 153.62L39.00 153.63L39.20 153.65L39.40 153.67L39.60 153.69L39.80 153.71L40.00 153.73L40.20 153.74L40.40 153.76L40.60 153.78L40.80 153.80L41.00 153.82L41.20 153.83L41.40 153.85L41.60 153.87L41.80 153.88L42.00 153.90L42.00 153.90L42.20 153.91L42.40 153.93L42.60 153.94L42.80 153.95L43.00 153.96L43.20 153.97L43.40 153.98L43.60 153.99L43.80 154.00L44.00 154.01L44.20 154.02L44.40 154.03L44.60 154.04L44.80 154.04L45.00 154.06L45.20 154.07L45.40 154.08L45.60 154.09L45.80 154.11L46.00 154.12L46.20 154.14L46.40 154.16L46.60 154.18L46.80 154.20L47.00 154.23L47.20 154.25L47.40 154.28L47.50 154.30L47.60 154.32L47.80 154.42L48.00 154.58L48.20 154.80L48.40 155.07L48.60 155.39L48.80 155.75L49.00 156.15L49.20 156.59L49.40 157.06L49.50 157.30L49.60 157.58L49.80 158.31L50.00 159.25L50.20 160.38L50.40 161.68L50.60 163.12L50.80 164.68L50.90 165.50L51.00 166.56L51.03 166.90L51.15 168.29L51.20 168.94L51.26 169.69L51.36 171.09L51.40 171.71L51.45 172.48L51.53 173.88L51.60 175.04L51.61 175.28L51.68 176.67L51.75 178.07L51.80 179.20L51.81 179.47L51.87 180.86L51.92 182.26L51.97 183.66L52.00 184.78L52.01 185.05L52.05 186.45L52.08 187.84L52.12 189.24L52.15 190.64L52.18 192.03L52.20 193.24L52.20 193.43L52.23 194.83L52.25 196.22L52.27 197.62L52.29 199.02L52.31 200.41L52.32 201.81L52.34 203.21L52.35 204.60L52.36 206.00L52.40 206.00L52.60 206.00L52.64 206.00L52.65 204.60L52.66 203.21L52.68 201.81L52.69 200.41L52.71 199.02L52.73 197.62L52.75 196.22L52.77 194.83L52.80 193.43L52.80 193.24L52.82 192.03L52.85 190.64L52.88 189.24L52.92 187.84L52.95 186.45L52.99 185.05L53.00 184.78L53.03 183.66L53.08 182.26L53.13 180.86L53.19 179.47L53.20 179.20L53.25 178.07L53.32 176.67L53.39 175.28L53.40 175.04L53.47 173.88L53.55 172.48L53.60 171.71L53.64 171.09L53.74 169.69L53.80 168.94L53.85 168.29L53.97 166.90L54.00 166.55L54.10 165.50L54.20 164.82L54.40 163.52L54.60 162.29L54.80 161.17L55.00 160.15L55.20 159.26L55.40 158.52L55.60 157.94L55.80 157.54L56.00 157.33L56.10 157.30L56.20 157.32L56.40 157.50L56.60 157.83L56.80 158.31L57.00 158.93L57.20 159.68L57.40 160.53L57.60 161.49L57.70 162.00L57.80 162.89L57.84 163.25L57.96 164.50L58.00 164.92L58.08 165.76L58.18 167.01L58.20 167.20L58.28 168.26L58.37 169.51L58.40 169.88L58.46 170.76L58.54 172.01L58.60 173.09L58.61 173.27L58.68 174.52L58.74 175.77L58.80 177.02L58.80 177.11L58.85 178.27L58.90 179.52L58.94 180.78L58.99 182.03L59.00 182.49L59.02 183.28L59.06 184.53L59.09 185.78L59.12 187.03L59.15 188.29L59.18 189.54L59.20 190.66L59.20 190.79L59.22 192.04L59.25 193.29L59.26 194.54L59.28 195.80L59.30 197.05L59.31 198.30L59.40 198.30L59.60 198.30L59.69 198.30L59.70 197.05L59.72 195.80L59.74 194.54L59.75 193.29L59.78 192.04L59.80 190.79L59.80 190.66L59.82 189.54L59.85 188.29L59.88 187.03L59.91 185.78L59.94 184.53L59.98 183.28L60.00 182.49L60.01 182.03L60.06 180.78L60.10 179.52L60.15 178.27L60.20 177.11L60.20 177.02L60.26 175.77L60.32 174.52L60.39 173.27L60.40 173.09L60.46 172.01L60.54 170.76L60.60 169.88L60.63 169.51L60.72 168.26L60.80 167.20L60.82 167.01L60.92 165.76L61.00 164.92L61.04 164.50L61.16 163.25L61.20 162.91L61.30 162.00L61.40 161.15L61.60 159.46L61.80 157.88L62.00 156.53L62.10 155.97L62.20 155.50L62.40 154.72L62.60 153.98L62.60 153.98L62.80 153.22L63.00 152.47L63.10 152.11L63.20 151.74L63.40 151.03L63.60 150.34L63.60 150.34L63.80 149.66L64.00 149.00L64.10 148.68L64.20 148.36L64.40 147.73L64.60 147.11L64.60 147.11L64.80 146.52L65.00 145.93L65.10 145.64L65.20 145.36L65.40 144.81L65.60 144.27L65.60 144.27L65.80 143.74L66.00 143.22L66.10 142.97L66.20 142.72L66.40 142.23L66.60 141.76L66.60 141.76L66.80 141.29L67.00 140.84L67.10 140.62L67.20 140.40L67.40 139.97L67.60 139.55L67.60 139.55L67.80 139.14L68.00 138.74L68.10 138.54L68.20 138.35L68.40 137.96L68.60 137.59L68.60 137.59L68.80 137.23L69.00 136.87L69.10 136.70L69.20 136.53L69.40 136.19L69.60 135.86L69.60 135.86L69.80 135.53L70.00 135.21L70.10 135.06L70.20 134.90L70.40 134.60L70.60 134.30L70.60 134.30L70.80 134.00L71.00 133.72L71.10 133.57L71.20 133.43L71.40 133.15L71.60 132.88L71.60 132.88L71.80 132.61L72.00 132.34L72.10 132.21L72.20 132.08L72.40 131.82L72.60 131.56L72.60 131.56L72.80 131.31L73.00 131.06L73.10 130.93L73.20 130.81L73.40 130.57L73.60 130.33L73.60 130.33L73.80 130.10L74.00 129.86L74.10 129.75L74.20 129.63L74.40 129.41L74.60 129.19L74.60 129.19L74.80 128.97L75.00 128.75L75.10 128.65L75.20 128.54L75.40 128.33L75.60 128.13L75.60 128.13L75.80 127.92L76.00 127.73L76.10 127.63L76.20 127.53L76.40 127.34L76.60 127.15L76.60 127.15L76.80 126.96L77.00 126.77L77.10 126.68L77.20 126.59L77.40 126.41L77.60 126.24L77.60 126.24L77.80 126.07L78.00 125.89L78.10 125.81L78.20 125.73L78.40 125.56L78.60 125.40L78.60 125.40L78.80 125.24L79.00 125.09L79.10 125.01L79.20 124.93L79.40 124.78L79.60 124.63L79.60 124.63L79.80 124.49L80.00 124.34L80.10 124.27L80.20 124.20L80.40 124.06L80.60 123.93L80.60 123.93L80.80 123.79L81.00 123.66L81.10 123.59L81.20 123.53L81.40 123.40L81.60 123.28L81.60 123.28L81.80 123.16L82.00 123.04L82.10 122.98L82.20 122.92L82.40 122.80L82.60 122.69L82.60 122.69L82.80 122.58L83.00 122.47L83.10 122.41L83.20 122.36L83.40 122.25L83.60 122.15L83.60 122.15L83.80 122.05L84.00 121.95L84.10 121.90L84.20 121.85L84.40 121.75L84.60 121.66L84.60 121.66L84.80 121.56L85.00 121.47L85.10 121.43L85.20 121.38L85.40 121.29L85.60 121.21L85.60 121.21L85.80 121.12L86.00 121.04L86.10 121.00L86.20 120.96L86.40 120.88L86.60 120.80L86.60 120.80L86.80 120.72L87.00 120.65L87.10 120.61L87.20 120.57L87.40 120.50L87.60 120.43L87.60 120.43L87.80 120.36L88.00 120.29L88.10 120.26L88.20 120.22L88.40 120.16L88.60 120.09L88.60 120.09L88.80 120.03L89.00 119.96L89.10 119.93L89.20 119.90L89.40 119.84L89.60 119.78L89.60 119.78L89.80 119.72L90.00 119.67L90.10 119.64L90.20 119.61L90.40 119.55L90.60 119.50L90.60 119.50L90.80 119.44L91.00 119.39L91.10 119.36L91.20 119.34L91.40 119.29L91.60 119.24L91.60 119.24L91.80 119.18L92.00 119.14L92.10 119.11L92.20 119.09L92.40 119.04L92.60 118.99L92.60 118.99L92.80 118.94L93.00 118.90L93.10 118.87L93.20 118.85L93.40 118.80L93.60 118.76L93.60 118.76L93.80 118.71L94.00 118.67L94.10 118.65L94.20 118.62L94.40 118.58L94.60 118.54L94.60 118.54L94.80 118.49L95.00 118.45L95.10 118.43L95.20 118.40L95.40 118.36L95.60 118.32L95.60 118.32L95.80 118.28L96.00 118.23L96.10 118.21L96.20 118.19L96.40 118.15L96.60 118.10L96.60 118.10L96.80 118.06L97.00 118.02L97.10 118.00L97.20 117.98L97.40 117.93L97.60 117.89L97.60 117.89L97.80 117.85L98.00 117.80L98.10 117.78L98.20 117.76L98.40 117.72L98.60 117.68L98.60 117.68L98.80 117.63L99.00 117.59L99.10 117.57L99.20 117.55L99.40 117.50L99.60 117.46L99.60 117.46L99.80 117.42L100.00 117.38L100.10 117.35L100.20 117.33L100.40 117.29L100.60 117.25L100.60 117.25L100.80 117.20L101.00 117.16L101.10 117.14L101.20 117.12L101.40 117.08L101.60 117.03L101.60 117.03L101.80 116.99L102.00 116.95L102.10 116.93L102.20 116.91L102.40 116.86L102.60 116.82L102.60 116.82L102.80 116.78L103.00 116.74L103.10 116.72L103.20 116.69L103.40 116.65L103.60 116.61L103.60 116.61L103.80 116.57L104.00 116.53L104.10 116.50L104.20 116.48L104.40 116.44L104.60 116.40L104.60 116.40L104.80 116.36L105.00 116.32L105.10 116.30L105.20 116.27L105.40 116.23L105.60 116.19L105.60 116.19L105.80 116.15L106.00 116.11L106.10 116.09L106.20 116.07L106.40 116.03L106.60 115.99L106.60 115.99L106.80 115.94L107.00 115.90L107.10 115.88L107.20 115.86L107.40 115.82L107.60 115.78L107.60 115.78L107.80 115.74L108.00 115.70L108.10 115.68L108.20 115.66L108.40 115.62L108.60 115.58L108.60 115.58L108.80 115.54L109.00 115.50L109.10 115.48L109.20 115.46L109.40 115.42L109.60 115.38L109.60 115.38L109.80 115.34L110.00 115.30L110.10 115.28L110.20 115.26L110.40 115.23L110.60 115.19L110.60 115.19L110.80 115.15L111.00 115.11L111.10 115.09L111.20 115.07L111.40 115.03L111.60 114.99L111.60 114.99L111.80 114.96L112.00 114.92L112.10 114.90L112.20 114.88L112.40 114.84L112.60 114.81L112.60 114.81L112.80 114.77L113.00 114.73L113.10 114.71L113.20 114.70L113.40 114.66L113.60 114.62L113.60 114.62L113.80 114.59L114.00 114.55L114.10 114.53L114.20 114.51L114.40 114.48L114.60 114.44L114.60 114.44L114.80 114.41L115.00 114.37L115.10 114.35L115.20 114.34L115.40 114.30L115.60 114.27L115.60 114.27L115.80 114.23L116.00 114.20L116.10 114.18L116.20 114.16L116.40 114.13L116.60 114.10L116.60 114.10L116.80 114.06L117.00 114.03L117.10 114.01L117.20 114.00L117.40 113.96L117.60 113.93L117.60 113.93L117.80 113.90L118.00 113.87L118.10 113.85L118.20 113.83L118.40 113.80L118.60 113.77L118.60 113.77L118.80 113.74L119.00 113.71L119.10 113.69L119.20 113.68L119.40 113.65L119.60 113.62L119.60 113.62L119.80 113.58L120.00 113.55L120.10 113.54L120.20 113.53L120.40 113.50L120.60 113.47L120.60 113.47L120.80 113.44L121.00 113.41L121.10 113.39L121.20 113.38L121.40 113.35L121.60 113.32L121.60 113.32L121.80 113.30L122.00 113.27L122.10 113.25L122.20 113.24L122.40 113.21L122.60 113.19L122.60 113.19L122.80 113.16L123.00 113.13L123.10 113.12L123.20 113.11L123.40 113.08L123.60 113.06L123.60 113.06L123.80 113.03L124.00 113.01L124.10 113.00L124.20 112.98L124.40 112.96L124.60 112.93L124.60 112.93L124.80 112.91L125.00 112.89L125.10 112.88L125.20 112.86L125.40 112.84L125.60 112.82L125.60 112.82L125.80 112.80L126.00 112.77L126.10 112.76L126.20 112.75L126.40 112.73L126.60 112.71L126.60 112.71L126.80 112.69L127.00 112.67L127.10 112.66L127.20 112.65L127.40 112.63L127.60 112.61L127.60 112.61L127.80 112.59L128.00 112.57L128.10 112.56L128.20 112.55L128.40 112.54L128.60 112.52L128.60 112.52L128.80 112.50L129.00 112.48L129.10 112.48L129.20 112.47L129.40 112.45L129.60 112.44L129.60 112.44L129.80 112.42L130.00 112.40L130.10 112.40L130.20 112.39L130.40 112.37L130.60 112.36L130.60 112.36L130.80 112.35L131.00 112.33L131.10 112.33L131.20 112.32L131.40 112.31L131.60 112.29L131.60 112.29L131.80 112.28L132.00 112.27L132.10 112.26L132.20 112.26L132.40 112.25L132.60 112.24L132.60 112.24L132.80 112.23L133.00 112.22L133.10 112.21L133.20 112.21L133.40 112.20L133.60 112.19L133.60 112.19L133.80 112.18L134.00 112.17L134.10 112.17L134.20 112.17L134.40 112.16L134.60 112.15L134.60 112.15L134.80 112.14L135.00 112.14L135.10 112.14L135.20 112.13L135.40 112.13L135.60 112.12L135.60 112.12L135.80 112.12L136.00 112.11L136.10 112.11L136.20 112.11L136.40 112.11L136.60 112.11L136.60 112.11L136.80 112.10L137.00 112.10L137.10 112.10L137.20 112.10L137.40 112.10L137.60 112.10L137.60 112.10L137.80 112.10L138.00 112.10L138.10 112.10L138.20 112.10L138.40 112.10L138.60 112.10L138.60 112.10L138.80 112.10L139.00 112.11L139.10 112.11L139.20 112.11L139.40 112.11L139.60 112.12L139.60 112.12L139.80 112.12L140.00 112.13L140.10 112.13L140.20 112.13L140.40 112.14L140.60 112.14L140.60 112.14L140.80 112.15L141.00 112.16L141.10 112.16L141.20 112.16L141.40 112.17L141.60 112.18L141.60 112.18L141.80 112.19L142.00 112.20L142.10 112.20L142.20 112.21L142.40 112.22L142.60 112.23L142.60 112.23L142.80 112.24L143.00 112.25L143.10 112.26L143.20 112.27L143.40 112.28L143.60 112.29L143.60 112.29L143.80 112.31L144.00 112.32L144.10 112.33L144.20 112.34L144.20 112.34L144.40 112.36L144.60 112.39L144.80 112.43L145.00 112.47L145.20 112.53L145.40 112.60L145.60 112.69L145.80 112.78L146.00 112.90L146.00 112.90L146.20 113.18L146.40 113.69L146.60 114.33L146.80 115.00L146.80 115.00L147.00 115.71L147.20 116.53L147.40 117.43L147.60 118.39L147.80 119.40L148.00 120.44L148.05 120.70L148.20 121.52L148.40 122.70L148.40 122.73L148.60 124.11L148.68 124.71L148.80 125.71L148.91 126.71L149.00 127.62L149.10 128.71L149.20 129.97L149.25 130.72L149.38 132.72L149.40 133.07L149.48 134.72L149.57 136.73L149.60 137.58L149.64 138.73L149.69 140.73L149.74 142.74L149.78 144.74L149.80 146.03L149.81 146.74L149.84 148.75L149.86 150.75L149.87 152.76L149.89 154.76L149.90 156.76L149.91 158.77L149.92 160.77L149.92 162.77L149.93 164.78L149.93 166.78L149.93 168.78L149.94 170.79L149.94 172.79L149.94 174.79L149.94 176.80L149.94 178.80L149.96 178.80L149.96 176.80L149.96 174.79L149.96 172.79L149.96 170.79L149.97 168.78L149.97 166.78L149.97 164.78L149.98 162.77L149.98 160.77L149.99 158.77L150.00 156.99L150.00 156.76L150.01 154.76L150.03 152.76L150.04 150.75L150.06 148.75L150.09 146.74L150.12 144.74L150.16 142.74L150.20 140.93L150.21 140.73L150.26 138.73L150.33 136.73L150.40 135.07L150.42 134.72L150.52 132.72L150.60 131.40L150.65 130.72L150.80 128.72L150.80 128.71L150.99 126.71L151.00 126.62L151.20 124.88L151.22 124.71L151.40 123.40L151.50 122.70L151.60 122.10L151.80 120.95L151.85 120.70L152.00 119.96L152.20 118.92L152.40 117.89L152.60 116.90L152.80 116.02L153.00 115.28L153.20 114.73L153.40 114.44L153.50 114.40L153.60 114.42L153.80 114.55L154.00 114.81L154.20 115.18L154.40 115.63L154.60 116.17L154.80 116.77L155.00 117.41L155.20 118.09L155.40 118.79L155.60 119.50L155.80 120.19L155.95 120.70L156.00 120.87L156.20 121.62L156.40 122.47L156.53 123.06L156.60 123.41L156.80 124.47L156.96 125.41L157.00 125.70L157.20 127.15L157.27 127.77L157.40 128.92L157.51 130.12L157.60 131.21L157.69 132.48L157.80 134.44L157.82 134.83L157.92 137.19L157.99 139.54L158.00 139.95L158.04 141.90L158.08 144.25L158.11 146.61L158.14 148.96L158.15 151.32L158.16 153.67L158.17 156.03L158.18 158.38L158.19 160.74L158.19 163.09L158.19 165.45L158.19 167.80L158.20 170.16L158.20 172.51L158.20 174.87L158.20 177.22L158.20 179.58L158.20 181.93L158.20 184.29L158.20 186.64L158.20 189.00L158.20 189.00L158.20 189.00L158.20 186.64L158.20 184.29L158.20 181.93L158.20 179.58L158.20 177.22L158.20 174.87L158.20 172.51L158.20 170.16L158.21 167.80L158.21 165.45L158.21 163.09L158.21 160.74L158.22 158.38L158.23 156.03L158.24 153.67L158.25 151.32L158.26 148.96L158.29 146.61L158.32 144.25L158.36 141.90L158.40 139.95L158.41 139.54L158.48 137.19L158.58 134.83L158.60 134.44L158.71 132.48L158.80 131.21L158.89 130.12L159.00 128.92L159.13 127.77L159.20 127.15L159.40 125.70L159.44 125.41L159.60 124.47L159.80 123.41L159.87 123.06L160.00 122.52L160.20 121.79L160.40 120.96L160.45 120.70L160.60 119.83L160.80 118.44L161.00 116.67L161.20 114.40L161.20 114.40L161.40 109.50L161.60 105.36L161.60 105.36L161.80 104.63L162.00 104.20L162.10 103.96L162.20 103.69L162.40 103.17L162.60 102.65L162.60 102.65L162.80 102.16L163.00 101.67L163.10 101.43L163.20 101.20L163.40 100.74L163.60 100.30L163.60 100.30L163.80 99.86L164.00 99.44L164.10 99.23L164.20 99.03L164.40 98.63L164.60 98.24L164.60 98.24L164.80 97.87L165.00 97.50L165.10 97.32L165.20 97.14L165.40 96.80L165.60 96.46L165.60 96.46L165.80 96.13L166.00 95.81L166.10 95.65L166.20 95.49L166.40 95.19L166.60 94.89L166.60 94.89L166.80 94.60L167.00 94.32L167.10 94.18L167.20 94.04L167.40 93.77L167.60 93.51L167.60 93.51L167.80 93.25L168.00 93.00L168.10 92.87L168.20 92.75L168.40 92.50L168.60 92.26L168.60 92.26L168.80 92.03L169.00 91.79L169.10 91.68L169.20 91.57L169.40 91.34L169.60 91.12L169.60 91.12L169.80 90.90L170.00 90.68L170.10 90.57L170.20 90.47L170.40 90.26L170.60 90.05L170.60 90.05L170.80 89.85L171.00 89.64L171.10 89.54L171.20 89.45L171.40 89.25L171.60 89.06L171.60 89.06L171.80 88.87L172.00 88.68L172.10 88.59L172.20 88.50L172.40 88.31L172.60 88.14L172.60 88.14L172.80 87.96L173.00 87.78L173.10 87.70L173.20 87.61L173.40 87.44L173.60 87.28L173.60 87.28L173.80 87.11L174.00 86.95L174.10 86.87L174.20 86.79L174.40 86.63L174.60 86.48L174.60 86.48L174.80 86.32L175.00 86.17L175.10 86.10L175.20 86.02L175.40 85.88L175.60 85.73L175.60 85.73L175.80 85.59L176.00 85.45L176.10 85.38L176.20 85.31L176.40 85.17L176.60 85.03L176.60 85.03L176.80 84.90L177.00 84.77L177.10 84.70L177.20 84.64L177.40 84.51L177.60 84.38L177.60 84.38L177.80 84.25L178.00 84.13L178.10 84.07L178.20 84.01L178.40 83.88L178.60 83.76L178.60 83.76L178.80 83.65L179.00 83.53L179.10 83.47L179.20 83.41L179.40 83.29L179.60 83.18L179.60 83.18L179.80 83.07L180.00 82.95L180.10 82.90L180.20 82.84L180.40 82.73L180.60 82.62L180.60 82.62L180.80 82.51L181.00 82.41L181.10 82.35L181.20 82.30L181.40 82.19L181.60 82.09L181.60 82.09L181.80 81.98L182.00 81.88L182.10 81.83L182.20 81.78L182.40 81.67L182.60 81.57L182.60 81.57L182.80 81.47L183.00 81.37L183.10 81.32L183.20 81.27L183.40 81.17L183.60 81.07L183.60 81.07L183.80 80.97L184.00 80.87L184.10 80.82L184.20 80.77L184.40 80.67L184.60 80.58L184.60 80.58L184.80 80.48L185.00 80.38L185.10 80.34L185.20 80.29L185.40 80.20L185.60 80.10L185.60 80.10L185.80 80.01L186.00 79.91L186.10 79.87L186.20 79.82L186.40 79.73L186.60 79.64L186.60 79.64L186.80 79.55L187.00 79.46L187.10 79.41L187.20 79.37L187.40 79.28L187.60 79.19L187.60 79.19L187.80 79.10L188.00 79.01L188.10 78.97L188.20 78.93L188.40 78.84L188.60 78.76L188.60 78.76L188.80 78.67L189.00 78.58L189.10 78.54L189.20 78.50L189.40 78.42L189.60 78.33L189.60 78.33L189.80 78.25L190.00 78.17L190.10 78.13L190.20 78.09L190.40 78.00L190.60 77.92L190.60 77.92L190.80 77.84L191.00 77.76L191.10 77.72L191.20 77.68L191.40 77.61L191.60 77.53L191.60 77.53L191.80 77.45L192.00 77.37L192.10 77.33L192.20 77.30L192.40 77.22L192.60 77.14L192.60 77.14L192.80 77.07L193.00 76.99L193.10 76.96L193.20 76.92L193.40 76.85L193.60 76.77L193.60 76.77L193.80 76.70L194.00 76.63L194.10 76.59L194.20 76.56L194.40 76.48L194.60 76.41L194.60 76.41L194.80 76.34L195.00 76.27L195.10 76.24L195.20 76.20L195.40 76.13L195.60 76.07L195.60 76.07L195.80 76.00L196.00 75.93L196.10 75.90L196.20 75.86L196.40 75.80L196.60 75.73L196.60 75.73L196.80 75.66L197.00 75.60L197.10 75.57L197.20 75.53L197.40 75.47L197.60 75.40L197.60 75.40L197.80 75.34L198.00 75.28L198.10 75.25L198.20 75.22L198.40 75.15L198.60 75.09L198.60 75.09L198.80 75.03L199.00 74.97L199.10 74.94L199.20 74.91L199.40 74.85L199.60 74.79L199.60 74.79L199.80 74.73L200.00 74.67L200.10 74.64L200.20 74.61L200.40 74.56L200.60 74.50L200.60 74.50L200.80 74.44L201.00 74.39L201.10 74.36L201.20 74.33L201.40 74.27L201.60 74.22L201.60 74.22L201.80 74.16L202.00 74.11L202.10 74.08L202.20 74.06L202.40 74.00L202.60 73.95L202.60 73.95L202.80 73.90L203.00 73.84L203.10 73.82L203.20 73.79L203.40 73.74L203.60 73.69L203.60 73.69L203.80 73.64L204.00 73.59L204.10 73.56L204.20 73.54L204.40 73.49L204.60 73.44L204.60 73.44L204.80 73.39L205.00 73.34L205.10 73.32L205.20 73.29L205.40 73.25L205.60 73.20L205.60 73.20L205.80 73.15L206.00 73.11L206.10 73.08L206.20 73.06L206.40 73.01L206.60 72.97L206.60 72.97L206.80 72.92L207.00 72.88L207.10 72.86L207.20 72.84L207.40 72.79L207.60 72.75L207.60 72.75L207.80 72.71L208.00 72.66L208.10 72.64L208.20 72.62L208.40 72.58L208.60 72.54L208.60 72.54L208.80 72.50L209.00 72.46L209.10 72.44L209.20 72.42L209.40 72.38L209.60 72.34L209.60 72.34L209.80 72.30L210.00 72.26L210.10 72.24L210.20 72.22L210.40 72.18L210.60 72.14L210.60 72.14L210.80 72.11L211.00 72.07L211.10 72.05L211.20 72.03L211.40 71.99L211.60 71.96L211.60 71.96L211.80 71.92L212.00 71.89L212.10 71.87L212.20 71.85L212.40 71.82L212.60 71.78L212.60 71.78L212.80 71.75L213.00 71.71L213.10 71.70L213.20 71.68L213.40 71.65L213.60 71.61L213.60 71.61L213.80 71.58L214.00 71.55L214.10 71.53L214.20 71.52L214.40 71.49L214.60 71.45L214.60 71.45L214.80 71.42L215.00 71.39L215.10 71.38L215.20 71.36L215.40 71.33L215.60 71.30L215.60 71.30L215.80 71.27L216.00 71.24L216.10 71.23L216.20 71.22L216.40 71.19L216.60 71.16L216.60 71.16L216.80 71.13L217.00 71.10L217.10 71.09L217.20 71.08L217.40 71.05L217.60 71.02L217.60 71.02L217.80 71.00L218.00 70.97L218.10 70.96L218.20 70.94L218.40 70.92L218.60 70.89L218.60 70.89L218.80 70.87L219.00 70.84L219.10 70.83L219.20 70.82L219.40 70.79L219.60 70.77L219.60 70.77L219.80 70.75L220.00 70.72L220.10 70.71L220.20 70.70L220.40 70.68L220.60 70.65L220.60 70.65L220.80 70.63L221.00 70.61L221.10 70.60L221.20 70.59L221.40 70.57L221.60 70.55L221.60 70.55L221.80 70.52L222.00 70.50L222.10 70.49L222.20 70.48L222.40 70.46L222.60 70.44L222.60 70.44L222.80 70.42L223.00 70.40L223.10 70.39L223.20 70.38L223.40 70.37L223.60 70.35L223.60 70.35L223.80 70.33L224.00 70.31L224.10 70.30L224.20 70.29L224.40 70.27L224.60 70.26L224.60 70.26L224.80 70.24L225.00 70.22L225.10 70.21L225.20 70.21L225.40 70.19L225.60 70.17L225.60 70.17L225.80 70.16L226.00 70.14L226.10 70.13L226.20 70.12L226.40 70.11L226.60 70.09L226.60 70.09L226.80 70.08L227.00 70.06L227.10 70.06L227.20 70.05L227.40 70.03L227.60 70.02L227.60 70.02L227.80 70.01L228.00 69.99L228.10 69.99L228.20 69.98L228.40 69.97L228.60 69.95L228.60 69.95L228.80 69.94L229.00 69.93L229.10 69.92L229.20 69.91L229.40 69.90L229.60 69.89L229.60 69.89L229.80 69.88L230.00 69.87L230.10 69.86L230.20 69.85L230.40 69.84L230.60 69.83L230.60 69.83L230.80 69.82L231.00 69.81L231.10 69.80L231.20 69.80L231.40 69.79L231.60 69.78L231.60 69.78L231.80 69.77L232.00 69.76L232.10 69.75L232.20 69.75L232.40 69.74L232.60 69.73L232.60 69.73L232.80 69.72L233.00 69.71L233.10 69.71L233.20 69.70L233.40 69.69L233.60 69.68L233.60 69.68L233.80 69.68L234.00 69.67L234.10 69.66L234.20 69.66L234.40 69.65L234.60 69.64L234.60 69.64L234.80 69.64L235.00 69.63L235.10 69.62L235.20 69.62L235.40 69.61L235.60 69.61L235.60 69.61L235.80 69.60L236.00 69.59L236.10 69.59L236.20 69.59L236.40 69.58L236.60 69.57L236.60 69.57L236.80 69.57L237.00 69.56L237.10 69.56L237.20 69.56L237.40 69.55L237.60 69.54L237.60 69.54L237.80 69.54L238.00 69.53L238.10 69.53L238.20 69.53L238.40 69.52L238.60 69.52L238.60 69.52L238.80 69.51L239.00 69.51L239.10 69.50L239.20 69.50L239.40 69.50L239.60 69.49L239.60 69.49L239.80 69.49L240.00 69.48L240.10 69.48L240.20 69.48L240.40 69.48L240.60 69.47L240.60 69.47L240.80 69.47L241.00 69.46L241.10 69.46L241.20 69.46L241.40 69.46L241.60 69.45L241.60 69.45L241.80 69.45L242.00 69.45L242.10 69.45L242.20 69.44L242.30 69.44L242.40 69.46L242.60 69.59L242.80 69.84L243.00 70.16L243.20 70.55L243.40 70.97L243.60 71.40L243.60 71.40L243.80 71.88L244.00 72.47L244.20 73.15L244.40 73.91L244.60 74.76L244.80 75.67L245.00 76.65L245.05 76.90L245.20 77.77L245.40 79.16L245.48 79.76L245.60 80.71L245.80 82.52L245.81 82.61L246.00 84.69L246.06 85.47L246.20 87.40L246.26 88.32L246.40 91.03L246.41 91.18L246.52 94.03L246.60 96.55L246.61 96.89L246.68 99.74L246.73 102.60L246.77 105.45L246.80 108.31L246.80 108.42L246.82 111.16L246.84 114.02L246.85 116.87L246.86 119.73L246.87 122.58L246.88 125.44L246.88 128.29L246.89 131.15L246.89 134.00L246.89 136.86L246.89 139.71L246.90 142.57L246.90 145.42L246.90 148.28L246.90 151.13L246.90 153.99L246.90 156.84L246.90 159.70L246.90 159.70L246.90 156.84L246.90 153.99L246.90 151.13L246.90 148.28L246.90 145.42L246.90 142.57L246.91 139.71L246.91 136.86L246.91 134.00L246.91 131.15L246.92 128.29L246.92 125.44L246.93 122.58L246.94 119.73L246.95 116.87L246.96 114.02L246.98 111.16L247.00 108.42L247.00 108.31L247.03 105.45L247.07 102.60L247.12 99.74L247.19 96.89L247.20 96.55L247.28 94.03L247.39 91.18L247.40 91.03L247.54 88.32L247.60 87.40L247.74 85.47L247.80 84.69L247.99 82.61L248.00 82.52L248.20 80.71L248.32 79.76L248.40 79.16L248.60 77.77L248.75 76.90L248.80 76.64L249.00 75.66L249.20 74.76L249.40 74.03L249.60 73.50L249.60 73.50L249.80 73.11L250.00 72.75L250.20 72.48L250.40 72.32L250.50 72.30L250.60 72.32L250.80 72.48L251.00 72.75L251.20 73.11L251.40 73.50L251.40 73.50L251.60 73.98L251.80 74.62L252.00 75.42L252.20 76.39L252.40 77.53L252.55 78.50L252.60 78.92L252.74 80.50L252.80 81.15L252.91 82.50L253.00 83.61L253.07 84.50L253.20 86.48L253.20 86.50L253.32 88.50L253.40 89.93L253.43 90.50L253.53 92.50L253.60 94.25L253.61 94.50L253.69 96.50L253.75 98.50L253.80 100.03L253.81 100.50L253.87 102.50L253.91 104.50L253.96 106.50L253.99 108.50L254.00 108.81L254.03 110.50L254.06 112.50L254.08 114.50L254.11 116.50L254.13 118.50L254.15 120.50L254.16 122.50L254.18 124.50L254.19 126.50L254.20 127.69L254.20 128.50L254.22 130.50L254.22 132.50L254.23 134.50L254.24 136.50L254.36 136.50L254.37 134.50L254.38 132.50L254.38 130.50L254.40 128.50L254.40 127.69L254.41 126.50L254.42 124.50L254.44 122.50L254.45 120.50L254.47 118.50L254.49 116.50L254.52 114.50L254.54 112.50L254.57 110.50L254.60 108.81L254.61 108.50L254.64 106.50L254.69 104.50L254.73 102.50L254.79 100.50L254.80 100.03L254.85 98.50L254.91 96.50L254.99 94.50L255.00 94.25L255.07 92.50L255.17 90.50L255.20 89.93L255.28 88.50L255.40 86.50L255.40 86.48L255.53 84.50L255.60 83.61L255.69 82.50L255.80 81.15L255.86 80.50L256.00 78.96L256.05 78.50L256.20 77.29L256.40 75.85L256.60 74.58L256.80 73.43L256.90 72.89L257.00 72.38L257.20 71.47L257.40 70.61L257.40 70.61L257.60 69.76L257.80 68.95L257.90 68.55L258.00 68.16L258.20 67.41L258.40 66.69L258.40 66.69L258.60 65.99L258.80 65.32L258.90 64.99L259.00 64.67L259.20 64.05L259.40 63.44L259.40 63.44L259.60 62.86L259.80 62.30L259.90 62.02L260.00 61.75L260.20 61.22L260.40 60.71L260.40 60.71L260.60 60.20L260.80 59.71L260.90 59.47L261.00 59.24L261.20 58.77L261.40 58.31L261.40 58.31L261.60 57.87L261.80 57.43L261.90 57.21L262.00 57.00L262.20 56.58L262.40 56.16L262.40 56.16L262.60 55.75L262.80 55.34L262.90 55.14L263.00 54.94L263.20 54.54L263.40 54.15L263.40 54.15L263.60 53.76L263.80 53.37L263.90 53.18L264.00 52.99L264.20 52.62L264.40 52.25L264.40 52.25L264.60 51.88L264.80 51.53L264.90 51.35L265.00 51.18L265.20 50.84L265.40 50.50L265.40 50.50L265.60 50.18L265.80 49.86L265.90 49.70L266.00 49.55L266.20 49.25L266.40 48.96L266.40 48.96L266.60 48.68L266.80 48.41L266.90 48.27L267.00 48.14L267.20 47.89L267.40 47.64L267.40 47.64L267.60 47.40L267.80 47.17L267.90 47.06L268.00 46.95L268.20 46.73L268.40 46.52L268.40 46.52L268.60 46.32L268.80 46.12L268.90 46.03L269.00 45.93L269.20 45.74L269.40 45.56L269.40 45.56L269.60 45.38L269.80 45.21L269.90 45.12L270.00 45.03L270.20 44.86L270.40 44.70L270.40 44.70L270.60 44.53L270.80 44.37L270.90 44.29L271.00 44.21L271.20 44.05L271.40 43.89L271.40 43.89L271.60 43.74L271.80 43.58L271.90 43.50L272.00 43.43L272.20 43.27L272.40 43.12L272.40 43.12L272.60 42.97L272.80 42.82L272.90 42.75L273.00 42.67L273.20 42.53L273.40 42.38L273.40 42.38L273.60 42.24L273.80 42.09L273.90 42.02L274.00 41.95L274.20 41.81L274.40 41.67L274.40 41.67L274.60 41.53L274.80 41.39L274.90 41.33L275.00 41.26L275.20 41.12L275.40 40.99L275.40 40.99L275.60 40.86L275.80 40.72L275.90 40.66L276.00 40.59L276.20 40.46L276.40 40.34L276.40 40.34L276.60 40.21L276.80 40.08L276.90 40.02L277.00 39.96L277.20 39.83L277.40 39.71L277.40 39.71L277.60 39.59L277.80 39.47L277.90 39.41L278.00 39.35L278.20 39.23L278.40 39.11L278.40 39.11L278.60 39.00L278.80 38.88L278.90 38.82L279.00 38.77L279.20 38.65L279.40 38.54L279.40 38.54L279.60 38.43L279.80 38.32L279.90 38.26L280.00 38.21L280.20 38.10L280.40 37.99L280.40 37.99L280.60 37.89L280.80 37.78L280.90 37.73L281.00 37.68L281.20 37.57L281.40 37.47L281.40 37.47L281.60 37.37L281.80 37.27L281.90 37.22L282.00 37.17L282.20 37.07L282.40 36.97L282.40 36.97L282.60 36.88L282.80 36.78L282.90 36.73L283.00 36.69L283.20 36.59L283.40 36.50L283.40 36.50L283.60 36.41L283.80 36.31L283.90 36.27L284.00 36.22L284.20 36.13L284.40 36.05L284.40 36.05L284.60 35.96L284.80 35.87L284.90 35.83L285.00 35.78L285.20 35.70L285.40 35.61L285.40 35.61L285.60 35.53L285.80 35.45L285.90 35.41L286.00 35.37L286.20 35.28L286.40 35.20L286.40 35.20L286.60 35.12L286.80 35.05L286.90 35.01L287.00 34.97L287.20 34.89L287.40 34.81L287.40 34.81L287.60 34.74L287.80 34.66L287.90 34.63L288.00 34.59L288.20 34.51L288.40 34.44L288.40 34.44L288.60 34.37L288.80 34.30L288.90 34.26L289.00 34.23L289.20 34.16L289.40 34.09L289.40 34.09L289.60 34.02L289.80 33.95L289.90 33.92L290.00 33.89L290.20 33.82L290.40 33.75L290.40 33.75L290.60 33.69L290.80 33.62L290.90 33.59L291.00 33.56L291.20 33.50L291.40 33.43L291.40 33.43L291.60 33.37L291.80 33.31L291.90 33.28L292.00 33.25L292.20 33.19L292.40 33.13L292.40 33.13L292.60 33.07L292.80 33.02L292.90 32.99L293.00 32.96L293.20 32.90L293.40 32.84L293.40 32.84L293.60 32.79L293.80 32.73L293.90 32.71L294.00 32.68L294.20 32.62L294.40 32.57L294.40 32.57L294.60 32.52L294.80 32.47L294.90 32.44L295.00 32.41L295.20 32.36L295.40 32.31L295.40 32.31L295.60 32.26L295.80 32.21L295.90 32.19L296.00 32.16L296.20 32.11L296.40 32.07L296.40 32.07L296.60 32.02L296.80 31.97L296.90 31.95L297.00 31.92L297.20 31.88L297.40 31.83L297.40 31.83L297.60 31.79L297.80 31.74L297.90 31.72L298.00 31.70L298.20 31.65L298.40 31.61L298.40 31.61L298.60 31.56L298.80 31.52L298.90 31.50L299.00 31.48L299.20 31.44L299.40 31.40L299.40 31.40L299.60 31.35L299.80 31.31L299.90 31.29L300.00 31.27L300.20 31.23L300.40 31.19L300.40 31.19L300.60 31.15L300.80 31.11L300.90 31.09L301.00 31.07L301.20 31.04L301.40 31.00L301.40 31.00L301.60 30.96L301.80 30.92L301.90 30.90L302.00 30.89L302.20 30.85L302.40 30.81L302.40 30.81L302.60 30.78L302.80 30.74L302.90 30.72L303.00 30.70L303.20 30.67L303.40 30.63L303.40 30.63L303.60 30.60L303.80 30.56L303.90 30.55L304.00 30.53L304.20 30.50L304.40 30.46L304.40 30.46L304.60 30.43L304.80 30.40L304.90 30.38L305.00 30.36L305.20 30.33L305.40 30.30L305.40 30.30L305.60 30.26L305.80 30.23L305.90 30.22L306.00 30.20L306.20 30.17L306.40 30.14L306.40 30.14L306.60 30.10L306.80 30.07L306.90 30.06L307.00 30.04L307.20 30.01L307.40 29.98L307.40 29.98L307.60 29.95L307.80 29.92L307.90 29.90L308.00 29.89L308.20 29.86L308.40 29.83L308.40 29.83L308.60 29.79L308.80 29.76L308.90 29.75L309.00 29.73L309.20 29.70L309.40 29.67L309.40 29.67L309.60 29.64L309.80 29.61L309.90 29.60L310.00 29.59L310.20 29.56L310.40 29.53L310.40 29.53L310.60 29.50L310.80 29.47L310.90 29.45L311.00 29.44L311.20 29.41L311.40 29.38L311.40 29.38L311.60 29.35L311.80 29.32L311.90 29.30L312.00 29.29L312.20 29.26L312.40 29.23L312.40 29.23L312.60 29.20L312.80 29.17L312.90 29.16L313.00 29.14L313.20 29.11L313.40 29.08L313.40 29.08L313.60 29.05L313.80 29.02L313.90 29.01L314.00 28.99L314.20 28.96L314.40 28.93L314.40 28.93L314.60 28.90L314.80 28.87L314.90 28.86L315.00 28.84L315.20 28.81L315.40 28.78L315.40 28.78L315.60 28.75L315.80 28.72L315.90 28.71L316.00 28.69L316.20 28.66L316.40 28.63L316.40 28.63L316.60 28.60L316.80 28.57L316.90 28.55L317.00 28.54L317.20 28.50L317.40 28.47L317.40 28.47L317.60 28.44L317.80 28.41L317.90 28.39L318.00 28.38L318.20 28.34L318.40 28.31L318.40 28.31L318.60 28.28L318.80 28.24L318.90 28.23L319.00 28.21L319.20 28.18L319.40 28.14L319.40 28.14L319.60 28.11L319.80 28.07L319.90 28.06L320.00 28.04L320.20 28.01L320.40 27.97L320.40 27.97L320.60 27.94L320.80 27.90" stroke="#1f3cff" stroke-width="1.2"/>
</g>
<line x1="372.60" y1="23.4" x2="372.60" y2="203.8" stroke="#d2d2d2" stroke-width="1"/>
<line x1="372.60" y1="203.45" x2="375.20" y2="203.45" stroke="#b4b4b4" stroke-width="0.6"/>
<line x1="372.60" y1="192.63" x2="374.20" y2="192.63" stroke="#b4b4b4" stroke-width="0.6"/>
<line x1="372.60" y1="186.30" x2="374.20" y2="186.30" stroke="#b4b4b4" stroke-width="0.6"/>
<line x1="372.60" y1="181.81" x2="374.20" y2="181.81" stroke="#b4b4b4" stroke-width="0.6"/>
<line x1="372.60" y1="178.32" x2="374.20" y2="178.32" stroke="#b4b4b4" stroke-width="0.6"/>
<line x1="372.60" y1="175.48" x2="374.20" y2="175.48" stroke="#b4b4b4" stroke-width="0.6"/>
<line x1="372.60" y1="173.07" x2="374.20" y2="173.07" stroke="#b4b4b4" stroke-width="0.6"/>
<line x1="372.60" y1="170.98" x2="374.20" y2="170.98" stroke="#b4b4b4" stroke-width="0.6"/>
<line x1="372.60" y1="169.14" x2="374.20" y2="169.14" stroke="#b4b4b4" stroke-width="0.6"/>
<line x1="372.60" y1="167.50" x2="375.20" y2="167.50" stroke="#b4b4b4" stroke-width="0.6"/>
<line x1="372.60" y1="156.68" x2="374.20" y2="156.68" stroke="#b4b4b4" stroke-width="0.6"/>
<line x1="372.60" y1="150.35" x2="374.20" y2="150.35" stroke="#b4b4b4" stroke-width="0.6"/>
<line x1="372.60" y1="145.86" x2="374.20" y2="145.86" stroke="#b4b4b4" stroke-width="0.6"/>
<line x1="372.60" y1="142.37" x2="374.20" y2="142.37" stroke="#b4b4b4" stroke-width="0.6"/>
<line x1="372.60" y1="139.53" x2="374.20" y2="139.53" stroke="#b4b4b4" stroke-width="0.6"/>
<line x1="372.60" y1="137.12" x2="374.20" y2="137.12" stroke="#b4b4b4" stroke-width="0.6"/>
<line x1="372.60" y1="135.03" x2="374.20" y2="135.03" stroke="#b4b4b4" stroke-width="0.6"/>
<line x1="372.60" y1="133.19" x2="374.20" y2="133.19" stroke="#b4b4b4" stroke-width="0.6"/>
<line x1="372.60" y1="131.55" x2="375.20" y2="131.55" stroke="#b4b4b4" stroke-width="0.6"/>
<line x1="372.60" y1="120.73" x2="374.20" y2="120.73" stroke="#b4b4b4" stroke-width="0.6"/>
<line x1="372.60" y1="114.40" x2="374.20" y2="114.40" stroke="#b4b4b4" stroke-width="0.6"/>
<line x1="372.60" y1="109.91" x2="374.20" y2="109.91" stroke="#b4b4b4" stroke-width="0.6"/>
<line x1="372.60" y1="106.42" x2="374.20" y2="106.42" stroke="#b4b4b4" stroke-width="0.6"/>
<line x1="372.60" y1="103.58" x2="374.20" y2="103.58" stroke="#b4b4b4" stroke-width="0.6"/>
<line x1="372.60" y1="101.17" x2="374.20" y2="101.17" stroke="#b4b4b4" stroke-width="0.6"/>
<line x1="372.60" y1="99.08" x2="374.20" y2="99.08" stroke="#b4b4b4" stroke-width="0.6"/>
<line x1="372.60" y1="97.24" x2="374.20" y2="97.24" stroke="#b4b4b4" stroke-width="0.6"/>
<line x1="372.60" y1="95.60" x2="375.20" y2="95.60" stroke="#b4b4b4" stroke-width="0.6"/>
<line x1="372.60" y1="84.78" x2="374.20" y2="84.78" stroke="#b4b4b4" stroke-width="0.6"/>
<line x1="372.60" y1="78.45" x2="374.20" y2="78.45" stroke="#b4b4b4" stroke-width="0.6"/>
<line x1="372.60" y1="73.96" x2="374.20" y2="73.96" stroke="#b4b4b4" stroke-width="0.6"/>
<line x1="372.60" y1="70.47" x2="374.20" y2="70.47" stroke="#b4b4b4" stroke-width="0.6"/>
<line x1="372.60" y1="67.63" x2="374.20" y2="67.63" stroke="#b4b4b4" stroke-width="0.6"/>
<line x1="372.60" y1="65.22" x2="374.20" y2="65.22" stroke="#b4b4b4" stroke-width="0.6"/>
<line x1="372.60" y1="63.13" x2="374.20" y2="63.13" stroke="#b4b4b4" stroke-width="0.6"/>
<line x1="372.60" y1="61.29" x2="374.20" y2="61.29" stroke="#b4b4b4" stroke-width="0.6"/>
<line x1="372.60" y1="59.65" x2="375.20" y2="59.65" stroke="#b4b4b4" stroke-width="0.6"/>
<line x1="372.60" y1="48.83" x2="374.20" y2="48.83" stroke="#b4b4b4" stroke-width="0.6"/>
<line x1="372.60" y1="42.50" x2="374.20" y2="42.50" stroke="#b4b4b4" stroke-width="0.6"/>
<line x1="372.60" y1="38.01" x2="374.20" y2="38.01" stroke="#b4b4b4" stroke-width="0.6"/>
<line x1="372.60" y1="34.52" x2="374.20" y2="34.52" stroke="#b4b4b4" stroke-width="0.6"/>
<line x1="372.60" y1="31.68" x2="374.20" y2="31.68" stroke="#b4b4b4" stroke-width="0.6"/>
<line x1="372.60" y1="29.27" x2="374.20" y2="29.27" stroke="#b4b4b4" stroke-width="0.6"/>
<line x1="372.60" y1="27.18" x2="374.20" y2="27.18" stroke="#b4b4b4" stroke-width="0.6"/>
<line x1="372.60" y1="25.34" x2="374.20" y2="25.34" stroke="#b4b4b4" stroke-width="0.6"/>
<line x1="372.60" y1="23.70" x2="375.20" y2="23.70" stroke="#b4b4b4" stroke-width="0.6"/>
<line x1="376.35" y1="203.8" x2="376.35" y2="202.50" stroke="#c8c8c8" stroke-width="0.6"/>
<line x1="384.13" y1="203.8" x2="384.13" y2="202.50" stroke="#c8c8c8" stroke-width="0.6"/>
<line x1="391.90" y1="203.8" x2="391.90" y2="201.60" stroke="#c8c8c8" stroke-width="0.6"/>
<line x1="399.67" y1="203.8" x2="399.67" y2="202.50" stroke="#c8c8c8" stroke-width="0.6"/>
<line x1="407.45" y1="203.8" x2="407.45" y2="202.50" stroke="#c8c8c8" stroke-width="0.6"/>
<line x1="415.22" y1="203.8" x2="415.22" y2="202.50" stroke="#c8c8c8" stroke-width="0.6"/>
<line x1="423.00" y1="203.8" x2="423.00" y2="202.50" stroke="#c8c8c8" stroke-width="0.6"/>
<line x1="430.77" y1="203.8" x2="430.77" y2="201.60" stroke="#c8c8c8" stroke-width="0.6"/>
<line x1="438.54" y1="203.8" x2="438.54" y2="202.50" stroke="#c8c8c8" stroke-width="0.6"/>
<line x1="446.32" y1="203.8" x2="446.32" y2="202.50" stroke="#c8c8c8" stroke-width="0.6"/>
<line x1="454.09" y1="203.8" x2="454.09" y2="202.50" stroke="#c8c8c8" stroke-width="0.6"/>
<line x1="461.87" y1="203.8" x2="461.87" y2="202.50" stroke="#c8c8c8" stroke-width="0.6"/>
<line x1="469.64" y1="203.8" x2="469.64" y2="201.60" stroke="#c8c8c8" stroke-width="0.6"/>
<line x1="477.41" y1="203.8" x2="477.41" y2="202.50" stroke="#c8c8c8" stroke-width="0.6"/>
<line x1="485.19" y1="203.8" x2="485.19" y2="202.50" stroke="#c8c8c8" stroke-width="0.6"/>
<line x1="492.96" y1="203.8" x2="492.96" y2="202.50" stroke="#c8c8c8" stroke-width="0.6"/>
<line x1="500.74" y1="203.8" x2="500.74" y2="202.50" stroke="#c8c8c8" stroke-width="0.6"/>
<line x1="508.51" y1="203.8" x2="508.51" y2="201.60" stroke="#c8c8c8" stroke-width="0.6"/>
<line x1="516.28" y1="203.8" x2="516.28" y2="202.50" stroke="#c8c8c8" stroke-width="0.6"/>
<line x1="524.06" y1="203.8" x2="524.06" y2="202.50" stroke="#c8c8c8" stroke-width="0.6"/>
<line x1="531.83" y1="203.8" x2="531.83" y2="202.50" stroke="#c8c8c8" stroke-width="0.6"/>
<line x1="539.61" y1="203.8" x2="539.61" y2="202.50" stroke="#c8c8c8" stroke-width="0.6"/>
<line x1="547.38" y1="203.8" x2="547.38" y2="201.60" stroke="#c8c8c8" stroke-width="0.6"/>
<line x1="555.15" y1="203.8" x2="555.15" y2="202.50" stroke="#c8c8c8" stroke-width="0.6"/>
<line x1="562.93" y1="203.8" x2="562.93" y2="202.50" stroke="#c8c8c8" stroke-width="0.6"/>
<line x1="570.70" y1="203.8" x2="570.70" y2="202.50" stroke="#c8c8c8" stroke-width="0.6"/>
<line x1="578.48" y1="203.8" x2="578.48" y2="202.50" stroke="#c8c8c8" stroke-width="0.6"/>
<line x1="586.25" y1="203.8" x2="586.25" y2="201.60" stroke="#c8c8c8" stroke-width="0.6"/>
<line x1="594.02" y1="203.8" x2="594.02" y2="202.50" stroke="#c8c8c8" stroke-width="0.6"/>
<line x1="601.80" y1="203.8" x2="601.80" y2="202.50" stroke="#c8c8c8" stroke-width="0.6"/>
<line x1="609.57" y1="203.8" x2="609.57" y2="202.50" stroke="#c8c8c8" stroke-width="0.6"/>
<line x1="617.35" y1="203.8" x2="617.35" y2="202.50" stroke="#c8c8c8" stroke-width="0.6"/>
<line x1="625.12" y1="203.8" x2="625.12" y2="201.60" stroke="#c8c8c8" stroke-width="0.6"/>
<line x1="632.89" y1="203.8" x2="632.89" y2="202.50" stroke="#c8c8c8" stroke-width="0.6"/>
<line x1="640.67" y1="203.8" x2="640.67" y2="202.50" stroke="#c8c8c8" stroke-width="0.6"/>
<line x1="648.44" y1="203.8" x2="648.44" y2="202.50" stroke="#c8c8c8" stroke-width="0.6"/>
<line x1="656.22" y1="203.8" x2="656.22" y2="202.50" stroke="#c8c8c8" stroke-width="0.6"/>
<line x1="663.99" y1="203.8" x2="663.99" y2="201.60" stroke="#c8c8c8" stroke-width="0.6"/>
<text transform="translate(369.40,63.95) scale(1,1.17)" text-anchor="end" class="ts">1000</text>
<text transform="translate(369.40,99.90) scale(1,1.17)" text-anchor="end" class="ts">100</text>
<text transform="translate(369.40,135.85) scale(1,1.17)" text-anchor="end" class="ts">10</text>
<text transform="translate(369.40,171.80) scale(1,1.17)" text-anchor="end" class="ts">1</text>
<text transform="translate(369.40,207.75) scale(1,1.17)" text-anchor="end" class="ts">0.1</text>
<text transform="translate(369.20,27.80) scale(1,1.22)" text-anchor="end" class="ts" style="font-size:12px">10<tspan style="font-size:7.2px" dy="-4.2">4</tspan></text>
<text transform="translate(391.90,217.9) scale(1,1.17)" text-anchor="middle" class="ts">0.0</text>
<text transform="translate(430.77,217.9) scale(1,1.17)" text-anchor="middle" class="ts">0.1</text>
<text transform="translate(469.64,217.9) scale(1,1.17)" text-anchor="middle" class="ts">0.2</text>
<text transform="translate(508.51,217.9) scale(1,1.17)" text-anchor="middle" class="ts">0.3</text>
<text transform="translate(547.38,217.9) scale(1,1.17)" text-anchor="middle" class="ts">0.4</text>
<text transform="translate(586.25,217.9) scale(1,1.17)" text-anchor="middle" class="ts">0.5</text>
<text transform="translate(625.12,217.9) scale(1,1.17)" text-anchor="middle" class="ts">0.6</text>
<text transform="translate(663.99,217.9) scale(1,1.17)" text-anchor="middle" class="ts">0.7</text>
<text transform="translate(672.40,208.8) scale(1,1.08)" class="ts" style="font-size:14.2px">N</text>
<text x="361.30" y="13.7" class="tl" style="font-size:15px;font-style:italic">P</text>
<text x="370.50" y="6.8" class="tl" style="font-size:10.5px">1/2</text>
<text x="369.80" y="17.6" class="tl" style="font-size:11.6px;font-style:italic">R</text>
<clipPath id="clipT343"><rect x="372.60" y="0" width="300" height="203.80"/></clipPath>
<g clip-path="url(#clipT343)" fill="none" stroke-linejoin="round">
<path d="M384.65 207.90L384.70 207.26L384.75 206.63L384.80 205.99L384.85 205.35L384.90 204.70L384.95 204.06L385.00 203.41L385.05 202.77L385.10 202.12L385.15 201.47L385.20 200.82L385.25 200.17L385.30 199.51L385.35 198.86L385.40 198.20L385.45 197.54L385.50 196.88L385.55 196.22L385.60 195.56L385.65 194.89L385.70 194.23L385.75 193.56L385.80 192.89L385.85 192.22L385.90 191.55L385.96 190.88L386.01 190.21L386.06 189.53L386.11 188.86L386.16 188.18L386.21 187.50L386.26 186.82L386.31 186.14L386.36 185.46L386.41 184.77L386.46 184.09L386.51 183.40L386.56 182.71L386.61 182.03L386.66 181.34L386.71 180.64L386.76 179.95L386.81 179.26L386.86 178.56L386.91 177.87L386.96 177.17L387.01 176.47L387.06 175.77L387.11 175.07L387.16 174.38L387.21 173.69L387.26 173.01L387.31 172.32L387.36 171.64L387.41 170.97L387.46 170.29L387.51 169.61L387.56 168.94L387.61 168.27L387.66 167.59L387.71 166.92L387.76 166.24L387.81 165.56L387.86 164.88L387.91 164.20L387.96 163.51L388.01 162.82L388.06 162.13L388.11 161.43L388.16 160.73L388.21 160.02L388.26 159.30L388.31 158.58L388.36 157.86L388.41 157.12L388.46 156.38L388.51 155.63L388.57 154.87L388.62 154.11L388.67 153.33L388.72 152.54L388.77 151.74L388.82 150.94L388.87 150.12L388.92 149.29L388.97 148.44L389.02 147.59L389.07 146.72L389.12 145.83L389.17 144.93L389.22 143.96L389.27 142.93L389.32 141.83L389.37 140.70L389.42 139.54L389.47 138.36L389.52 137.20L389.57 136.05L389.62 134.93L389.67 133.86L389.72 132.85L389.77 131.92L389.82 131.07L389.87 130.27L389.92 129.50L389.97 128.75L390.02 128.03L390.07 127.33L390.12 126.64L390.17 125.98L390.22 125.33L390.27 124.70L390.32 124.07L390.37 123.46L390.42 122.85L390.47 122.24L390.52 121.64L390.57 121.04L390.62 120.43L390.67 119.83L390.72 119.21L390.77 118.58L390.82 117.95L390.87 117.30L390.92 116.64L390.97 115.98L391.02 115.31L391.07 114.65L391.12 114.00L391.18 113.36L391.23 112.73L391.28 112.13L391.33 111.55L391.38 111.00L391.43 110.48L391.48 110.00L391.53 109.52L391.58 109.05L391.63 108.59L391.68 108.13L391.73 107.67L391.78 107.23L391.83 106.79L391.88 106.36L391.93 105.94L391.98 105.53L392.03 105.13L392.08 104.74L392.13 104.36L392.18 103.99L392.23 103.64L392.28 103.29L392.33 102.96L392.38 102.65L392.43 102.34L392.48 102.06L392.53 101.78L392.58 101.53L392.63 101.29L392.68 101.06L392.73 100.85L392.78 100.64L392.83 100.45L392.88 100.26L392.93 100.08L392.98 99.90L393.03 99.74L393.08 99.58L393.13 99.42L393.18 99.27L393.23 99.13L393.28 98.99L393.33 98.85L393.38 98.72L393.43 98.59L393.48 98.46L393.53 98.34L393.58 98.21L393.63 98.09L393.68 97.96L393.73 97.84L393.79 97.73L393.84 97.61L393.89 97.51L393.94 97.40L393.99 97.30L394.04 97.21L394.09 97.13L394.14 97.05L394.19 96.98L394.24 96.91L394.29 96.86L394.34 96.80L394.39 96.75L394.44 96.70L394.49 96.65L394.54 96.60L394.59 96.56L394.64 96.51L394.69 96.47L394.74 96.43L394.79 96.39L394.84 96.35L394.89 96.32L394.94 96.29L394.99 96.26L395.04 96.23L395.09 96.21L395.14 96.19L395.19 96.17L395.24 96.15L395.29 96.14L395.34 96.13L395.39 96.11L395.44 96.10L395.49 96.09L395.54 96.08L395.59 96.07L395.64 96.06L395.69 96.05L395.74 96.04L395.79 96.03L395.84 96.02L395.89 96.01L395.94 96.00L395.99 96.00L396.04 95.99L396.09 95.98L396.14 95.98L396.19 95.97L396.24 95.97L396.29 95.96L396.34 95.96L396.40 95.95L396.45 95.95L396.50 95.95L396.55 95.94L396.60 95.94L396.65 95.94L396.70 95.93L396.75 95.93L396.80 95.93L396.85 95.93L396.90 95.92L396.95 95.92L397.00 95.92L397.05 95.92L397.10 95.91L397.15 95.91L397.20 95.91L397.25 95.91L397.30 95.91L397.35 95.90L397.40 95.90L397.45 95.90L397.50 95.90L397.55 95.90L397.60 95.90L397.65 95.90L397.70 95.90L397.75 95.90L397.80 95.90L397.85 95.90L397.90 95.90L397.95 95.90L398.00 95.91L398.05 95.91L398.10 95.91L398.15 95.91L398.20 95.91L398.25 95.92L398.30 95.92L398.35 95.92L398.40 95.92L398.45 95.93L398.50 95.93L398.55 95.93L398.60 95.93L398.65 95.94L398.70 95.94L398.75 95.94L398.80 95.95L398.85 95.95L398.90 95.95L398.96 95.96L399.01 95.96L399.06 95.97L399.11 95.97L399.16 95.98L399.21 95.98L399.26 95.99L399.31 96.00L399.36 96.00L399.41 96.01L399.46 96.02L399.51 96.03L399.56 96.04L399.61 96.05L399.66 96.06L399.71 96.07L399.76 96.08L399.81 96.09L399.86 96.10L399.91 96.11L399.96 96.13L400.01 96.14L400.06 96.15L400.11 96.17L400.16 96.19L400.21 96.21L400.26 96.23L400.31 96.26L400.36 96.29L400.41 96.32L400.46 96.35L400.51 96.39L400.56 96.43L400.61 96.47L400.66 96.51L400.71 96.56L400.76 96.60L400.81 96.65L400.86 96.70L400.91 96.75L400.96 96.80L401.01 96.86L401.06 96.91L401.11 96.98L401.16 97.05L401.21 97.13L401.26 97.21L401.31 97.30L401.36 97.40L401.41 97.51L401.46 97.61L401.51 97.73L401.57 97.84L401.62 97.96L401.67 98.09L401.72 98.21L401.77 98.34L401.82 98.46L401.87 98.59L401.92 98.72L401.97 98.85L402.02 98.99L402.07 99.13L402.12 99.27L402.17 99.42L402.22 99.58L402.27 99.74L402.32 99.90L402.37 100.08L402.42 100.26L402.47 100.45L402.52 100.64L402.57 100.85L402.62 101.06L402.67 101.29L402.72 101.53L402.77 101.78L402.82 102.06L402.87 102.34L402.92 102.65L402.97 102.96L403.02 103.29L403.07 103.64L403.12 103.99L403.17 104.36L403.22 104.74L403.27 105.13L403.32 105.53L403.37 105.94L403.42 106.36L403.47 106.79L403.52 107.23L403.57 107.67L403.62 108.13L403.67 108.59L403.72 109.05L403.77 109.52L403.82 110.00L403.87 110.48L403.92 111.00L403.97 111.55L404.02 112.13L404.07 112.73L404.12 113.36L404.18 114.00L404.23 114.65L404.28 115.31L404.33 115.98L404.38 116.64L404.43 117.30L404.48 117.95L404.53 118.58L404.58 119.21L404.63 119.83L404.68 120.43L404.73 121.04L404.78 121.64L404.83 122.24L404.88 122.85L404.93 123.46L404.98 124.07L405.03 124.70L405.08 125.33L405.13 125.98L405.18 126.64L405.23 127.33L405.28 128.03L405.33 128.75L405.38 129.50L405.43 130.27L405.48 131.07L405.53 131.92L405.58 132.85L405.63 133.86L405.68 134.93L405.73 136.05L405.78 137.20L405.83 138.36L405.88 139.54L405.93 140.70L405.98 141.83L406.03 142.93L406.08 143.96L406.13 144.93L406.18 145.83L406.23 146.72L406.28 147.59L406.33 148.44L406.38 149.29L406.43 150.12L406.48 150.94L406.53 151.74L406.58 152.54L406.63 153.33L406.68 154.11L406.73 154.87L406.79 155.63L406.84 156.38L406.89 157.12L406.94 157.86L406.99 158.58L407.04 159.30L407.09 160.02L407.14 160.73L407.19 161.43L407.24 162.13L407.29 162.82L407.34 163.51L407.39 164.20L407.44 164.88L407.49 165.56L407.54 166.24L407.59 166.92L407.64 167.59L407.69 168.27L407.74 168.94L407.79 169.61L407.84 170.29L407.89 170.97L407.94 171.64L407.99 172.32L408.04 173.01L408.09 173.69L408.14 174.38L408.19 175.07L408.24 175.77L408.29 176.47L408.34 177.17L408.39 177.87L408.44 178.56L408.49 179.26L408.54 179.95L408.59 180.64L408.64 181.34L408.69 182.03L408.74 182.71L408.79 183.40L408.84 184.09L408.89 184.77L408.94 185.46L408.99 186.14L409.04 186.82L409.09 187.50L409.14 188.18L409.19 188.86L409.24 189.53L409.29 190.21L409.34 190.88L409.40 191.55L409.45 192.22L409.50 192.89L409.55 193.56L409.60 194.23L409.65 194.89L409.70 195.56L409.75 196.22L409.80 196.88L409.85 197.54L409.90 198.20L409.95 198.86L410.00 199.51L410.05 200.17L410.10 200.82L410.15 201.47L410.20 202.12L410.25 202.77L410.30 203.41L410.35 204.06L410.40 204.70L410.45 205.35L410.50 205.99L410.55 206.63L410.60 207.26L410.65 207.90" stroke="#ff7426" stroke-width="1.15"/>
<path d="M482.20 207.90L482.25 207.26L482.30 206.63L482.35 205.99L482.40 205.35L482.45 204.70L482.50 204.06L482.55 203.41L482.60 202.77L482.65 202.12L482.70 201.47L482.75 200.82L482.80 200.17L482.85 199.51L482.90 198.86L482.95 198.20L483.00 197.54L483.05 196.88L483.10 196.22L483.15 195.56L483.20 194.89L483.25 194.23L483.30 193.56L483.35 192.89L483.40 192.22L483.45 191.55L483.51 190.88L483.56 190.21L483.61 189.53L483.66 188.86L483.71 188.18L483.76 187.50L483.81 186.82L483.86 186.14L483.91 185.46L483.96 184.77L484.01 184.09L484.06 183.40L484.11 182.71L484.16 182.03L484.21 181.34L484.26 180.64L484.31 179.95L484.36 179.26L484.41 178.56L484.46 177.87L484.51 177.17L484.56 176.47L484.61 175.77L484.66 175.07L484.71 174.38L484.76 173.69L484.81 173.01L484.86 172.32L484.91 171.64L484.96 170.97L485.01 170.29L485.06 169.61L485.11 168.94L485.16 168.27L485.21 167.59L485.26 166.92L485.31 166.24L485.36 165.56L485.41 164.88L485.46 164.20L485.51 163.51L485.56 162.82L485.61 162.13L485.66 161.43L485.71 160.73L485.76 160.02L485.81 159.30L485.86 158.58L485.91 157.86L485.96 157.12L486.01 156.38L486.06 155.63L486.12 154.87L486.17 154.11L486.22 153.33L486.27 152.54L486.32 151.74L486.37 150.94L486.42 150.12L486.47 149.29L486.52 148.44L486.57 147.59L486.62 146.72L486.67 145.83L486.72 144.93L486.77 143.96L486.82 142.93L486.87 141.83L486.92 140.70L486.97 139.54L487.02 138.36L487.07 137.20L487.12 136.05L487.17 134.93L487.22 133.86L487.27 132.85L487.32 131.92L487.37 131.07L487.42 130.27L487.47 129.50L487.52 128.75L487.57 128.03L487.62 127.33L487.67 126.64L487.72 125.98L487.77 125.33L487.82 124.70L487.87 124.07L487.92 123.46L487.97 122.85L488.02 122.24L488.07 121.64L488.12 121.04L488.17 120.43L488.22 119.83L488.27 119.21L488.32 118.58L488.37 117.95L488.42 117.30L488.47 116.64L488.52 115.98L488.57 115.31L488.62 114.65L488.67 114.00L488.73 113.36L488.78 112.73L488.83 112.13L488.88 111.55L488.93 111.00L488.98 110.48L489.03 110.00L489.08 109.52L489.13 109.05L489.18 108.59L489.23 108.13L489.28 107.67L489.33 107.23L489.38 106.79L489.43 106.36L489.48 105.94L489.53 105.53L489.58 105.13L489.63 104.74L489.68 104.36L489.73 103.99L489.78 103.64L489.83 103.29L489.88 102.96L489.93 102.65L489.98 102.34L490.03 102.06L490.08 101.78L490.13 101.53L490.18 101.29L490.23 101.06L490.28 100.85L490.33 100.64L490.38 100.45L490.43 100.26L490.48 100.08L490.53 99.90L490.58 99.74L490.63 99.58L490.68 99.42L490.73 99.27L490.78 99.13L490.83 98.99L490.88 98.85L490.93 98.72L490.98 98.59L491.03 98.46L491.08 98.34L491.13 98.21L491.18 98.09L491.23 97.96L491.28 97.84L491.34 97.73L491.39 97.61L491.44 97.51L491.49 97.40L491.54 97.30L491.59 97.21L491.64 97.13L491.69 97.05L491.74 96.98L491.79 96.91L491.84 96.86L491.89 96.80L491.94 96.75L491.99 96.70L492.04 96.65L492.09 96.60L492.14 96.56L492.19 96.51L492.24 96.47L492.29 96.43L492.34 96.39L492.39 96.35L492.44 96.32L492.49 96.29L492.54 96.26L492.59 96.23L492.64 96.21L492.69 96.19L492.74 96.17L492.79 96.15L492.84 96.14L492.89 96.13L492.94 96.11L492.99 96.10L493.04 96.09L493.09 96.08L493.14 96.07L493.19 96.06L493.24 96.05L493.29 96.04L493.34 96.03L493.39 96.02L493.44 96.01L493.49 96.00L493.54 96.00L493.59 95.99L493.64 95.98L493.69 95.98L493.74 95.97L493.79 95.97L493.84 95.96L493.89 95.96L493.95 95.95L494.00 95.95L494.05 95.95L494.10 95.94L494.15 95.94L494.20 95.94L494.25 95.93L494.30 95.93L494.35 95.93L494.40 95.93L494.45 95.92L494.50 95.92L494.55 95.92L494.60 95.92L494.65 95.91L494.70 95.91L494.75 95.91L494.80 95.91L494.85 95.91L494.90 95.90L494.95 95.90L495.00 95.90L495.05 95.90L495.10 95.90L495.15 95.90L495.20 95.90L495.25 95.90L495.30 95.90L495.35 95.90L495.40 95.90L495.45 95.90L495.50 95.90L495.55 95.91L495.60 95.91L495.65 95.91L495.70 95.91L495.75 95.91L495.80 95.92L495.85 95.92L495.90 95.92L495.95 95.92L496.00 95.93L496.05 95.93L496.10 95.93L496.15 95.93L496.20 95.94L496.25 95.94L496.30 95.94L496.35 95.95L496.40 95.95L496.45 95.95L496.51 95.96L496.56 95.96L496.61 95.97L496.66 95.97L496.71 95.98L496.76 95.98L496.81 95.99L496.86 96.00L496.91 96.00L496.96 96.01L497.01 96.02L497.06 96.03L497.11 96.04L497.16 96.05L497.21 96.06L497.26 96.07L497.31 96.08L497.36 96.09L497.41 96.10L497.46 96.11L497.51 96.13L497.56 96.14L497.61 96.15L497.66 96.17L497.71 96.19L497.76 96.21L497.81 96.23L497.86 96.26L497.91 96.29L497.96 96.32L498.01 96.35L498.06 96.39L498.11 96.43L498.16 96.47L498.21 96.51L498.26 96.56L498.31 96.60L498.36 96.65L498.41 96.70L498.46 96.75L498.51 96.80L498.56 96.86L498.61 96.91L498.66 96.98L498.71 97.05L498.76 97.13L498.81 97.21L498.86 97.30L498.91 97.40L498.96 97.51L499.01 97.61L499.06 97.73L499.12 97.84L499.17 97.96L499.22 98.09L499.27 98.21L499.32 98.34L499.37 98.46L499.42 98.59L499.47 98.72L499.52 98.85L499.57 98.99L499.62 99.13L499.67 99.27L499.72 99.42L499.77 99.58L499.82 99.74L499.87 99.90L499.92 100.08L499.97 100.26L500.02 100.45L500.07 100.64L500.12 100.85L500.17 101.06L500.22 101.29L500.27 101.53L500.32 101.78L500.37 102.06L500.42 102.34L500.47 102.65L500.52 102.96L500.57 103.29L500.62 103.64L500.67 103.99L500.72 104.36L500.77 104.74L500.82 105.13L500.87 105.53L500.92 105.94L500.97 106.36L501.02 106.79L501.07 107.23L501.12 107.67L501.17 108.13L501.22 108.59L501.27 109.05L501.32 109.52L501.37 110.00L501.42 110.48L501.47 111.00L501.52 111.55L501.57 112.13L501.62 112.73L501.67 113.36L501.73 114.00L501.78 114.65L501.83 115.31L501.88 115.98L501.93 116.64L501.98 117.30L502.03 117.95L502.08 118.58L502.13 119.21L502.18 119.83L502.23 120.43L502.28 121.04L502.33 121.64L502.38 122.24L502.43 122.85L502.48 123.46L502.53 124.07L502.58 124.70L502.63 125.33L502.68 125.98L502.73 126.64L502.78 127.33L502.83 128.03L502.88 128.75L502.93 129.50L502.98 130.27L503.03 131.07L503.08 131.92L503.13 132.85L503.18 133.86L503.23 134.93L503.28 136.05L503.33 137.20L503.38 138.36L503.43 139.54L503.48 140.70L503.53 141.83L503.58 142.93L503.63 143.96L503.68 144.93L503.73 145.83L503.78 146.72L503.83 147.59L503.88 148.44L503.93 149.29L503.98 150.12L504.03 150.94L504.08 151.74L504.13 152.54L504.18 153.33L504.23 154.11L504.28 154.87L504.34 155.63L504.39 156.38L504.44 157.12L504.49 157.86L504.54 158.58L504.59 159.30L504.64 160.02L504.69 160.73L504.74 161.43L504.79 162.13L504.84 162.82L504.89 163.51L504.94 164.20L504.99 164.88L505.04 165.56L505.09 166.24L505.14 166.92L505.19 167.59L505.24 168.27L505.29 168.94L505.34 169.61L505.39 170.29L505.44 170.97L505.49 171.64L505.54 172.32L505.59 173.01L505.64 173.69L505.69 174.38L505.74 175.07L505.79 175.77L505.84 176.47L505.89 177.17L505.94 177.87L505.99 178.56L506.04 179.26L506.09 179.95L506.14 180.64L506.19 181.34L506.24 182.03L506.29 182.71L506.34 183.40L506.39 184.09L506.44 184.77L506.49 185.46L506.54 186.14L506.59 186.82L506.64 187.50L506.69 188.18L506.74 188.86L506.79 189.53L506.84 190.21L506.89 190.88L506.95 191.55L507.00 192.22L507.05 192.89L507.10 193.56L507.15 194.23L507.20 194.89L507.25 195.56L507.30 196.22L507.35 196.88L507.40 197.54L507.45 198.20L507.50 198.86L507.55 199.51L507.60 200.17L507.65 200.82L507.70 201.47L507.75 202.12L507.80 202.77L507.85 203.41L507.90 204.06L507.95 204.70L508.00 205.35L508.05 205.99L508.10 206.63L508.15 207.26L508.20 207.90" stroke="#ff7426" stroke-width="1.15"/>
<path d="M579.20 207.90L579.25 207.26L579.30 206.63L579.35 205.99L579.40 205.35L579.45 204.70L579.50 204.06L579.55 203.41L579.60 202.77L579.65 202.12L579.70 201.47L579.75 200.82L579.80 200.17L579.85 199.51L579.90 198.86L579.95 198.20L580.00 197.54L580.05 196.88L580.10 196.22L580.15 195.56L580.20 194.89L580.25 194.23L580.30 193.56L580.35 192.89L580.40 192.22L580.45 191.55L580.51 190.88L580.56 190.21L580.61 189.53L580.66 188.86L580.71 188.18L580.76 187.50L580.81 186.82L580.86 186.14L580.91 185.46L580.96 184.77L581.01 184.09L581.06 183.40L581.11 182.71L581.16 182.03L581.21 181.34L581.26 180.64L581.31 179.95L581.36 179.26L581.41 178.56L581.46 177.87L581.51 177.17L581.56 176.47L581.61 175.77L581.66 175.07L581.71 174.38L581.76 173.69L581.81 173.01L581.86 172.32L581.91 171.64L581.96 170.97L582.01 170.29L582.06 169.61L582.11 168.94L582.16 168.27L582.21 167.59L582.26 166.92L582.31 166.24L582.36 165.56L582.41 164.88L582.46 164.20L582.51 163.51L582.56 162.82L582.61 162.13L582.66 161.43L582.71 160.73L582.76 160.02L582.81 159.30L582.86 158.58L582.91 157.86L582.96 157.12L583.01 156.38L583.06 155.63L583.12 154.87L583.17 154.11L583.22 153.33L583.27 152.54L583.32 151.74L583.37 150.94L583.42 150.12L583.47 149.29L583.52 148.44L583.57 147.59L583.62 146.72L583.67 145.83L583.72 144.93L583.77 143.96L583.82 142.93L583.87 141.83L583.92 140.70L583.97 139.54L584.02 138.36L584.07 137.20L584.12 136.05L584.17 134.93L584.22 133.86L584.27 132.85L584.32 131.92L584.37 131.07L584.42 130.27L584.47 129.50L584.52 128.75L584.57 128.03L584.62 127.33L584.67 126.64L584.72 125.98L584.77 125.33L584.82 124.70L584.87 124.07L584.92 123.46L584.97 122.85L585.02 122.24L585.07 121.64L585.12 121.04L585.17 120.43L585.22 119.83L585.27 119.21L585.32 118.58L585.37 117.95L585.42 117.30L585.47 116.64L585.52 115.98L585.57 115.31L585.62 114.65L585.67 114.00L585.73 113.36L585.78 112.73L585.83 112.13L585.88 111.55L585.93 111.00L585.98 110.48L586.03 110.00L586.08 109.52L586.13 109.05L586.18 108.59L586.23 108.13L586.28 107.67L586.33 107.23L586.38 106.79L586.43 106.36L586.48 105.94L586.53 105.53L586.58 105.13L586.63 104.74L586.68 104.36L586.73 103.99L586.78 103.64L586.83 103.29L586.88 102.96L586.93 102.65L586.98 102.34L587.03 102.06L587.08 101.78L587.13 101.53L587.18 101.29L587.23 101.06L587.28 100.85L587.33 100.64L587.38 100.45L587.43 100.26L587.48 100.08L587.53 99.90L587.58 99.74L587.63 99.58L587.68 99.42L587.73 99.27L587.78 99.13L587.83 98.99L587.88 98.85L587.93 98.72L587.98 98.59L588.03 98.46L588.08 98.34L588.13 98.21L588.18 98.09L588.23 97.96L588.28 97.84L588.34 97.73L588.39 97.61L588.44 97.51L588.49 97.40L588.54 97.30L588.59 97.21L588.64 97.13L588.69 97.05L588.74 96.98L588.79 96.91L588.84 96.86L588.89 96.80L588.94 96.75L588.99 96.70L589.04 96.65L589.09 96.60L589.14 96.56L589.19 96.51L589.24 96.47L589.29 96.43L589.34 96.39L589.39 96.35L589.44 96.32L589.49 96.29L589.54 96.26L589.59 96.23L589.64 96.21L589.69 96.19L589.74 96.17L589.79 96.15L589.84 96.14L589.89 96.13L589.94 96.11L589.99 96.10L590.04 96.09L590.09 96.08L590.14 96.07L590.19 96.06L590.24 96.05L590.29 96.04L590.34 96.03L590.39 96.02L590.44 96.01L590.49 96.00L590.54 96.00L590.59 95.99L590.64 95.98L590.69 95.98L590.74 95.97L590.79 95.97L590.84 95.96L590.89 95.96L590.95 95.95L591.00 95.95L591.05 95.95L591.10 95.94L591.15 95.94L591.20 95.94L591.25 95.93L591.30 95.93L591.35 95.93L591.40 95.93L591.45 95.92L591.50 95.92L591.55 95.92L591.60 95.92L591.65 95.91L591.70 95.91L591.75 95.91L591.80 95.91L591.85 95.91L591.90 95.90L591.95 95.90L592.00 95.90L592.05 95.90L592.10 95.90L592.15 95.90L592.20 95.90L592.25 95.90L592.30 95.90L592.35 95.90L592.40 95.90L592.45 95.90L592.50 95.90L592.55 95.91L592.60 95.91L592.65 95.91L592.70 95.91L592.75 95.91L592.80 95.92L592.85 95.92L592.90 95.92L592.95 95.92L593.00 95.93L593.05 95.93L593.10 95.93L593.15 95.93L593.20 95.94L593.25 95.94L593.30 95.94L593.35 95.95L593.40 95.95L593.45 95.95L593.51 95.96L593.56 95.96L593.61 95.97L593.66 95.97L593.71 95.98L593.76 95.98L593.81 95.99L593.86 96.00L593.91 96.00L593.96 96.01L594.01 96.02L594.06 96.03L594.11 96.04L594.16 96.05L594.21 96.06L594.26 96.07L594.31 96.08L594.36 96.09L594.41 96.10L594.46 96.11L594.51 96.13L594.56 96.14L594.61 96.15L594.66 96.17L594.71 96.19L594.76 96.21L594.81 96.23L594.86 96.26L594.91 96.29L594.96 96.32L595.01 96.35L595.06 96.39L595.11 96.43L595.16 96.47L595.21 96.51L595.26 96.56L595.31 96.60L595.36 96.65L595.41 96.70L595.46 96.75L595.51 96.80L595.56 96.86L595.61 96.91L595.66 96.98L595.71 97.05L595.76 97.13L595.81 97.21L595.86 97.30L595.91 97.40L595.96 97.51L596.01 97.61L596.06 97.73L596.12 97.84L596.17 97.96L596.22 98.09L596.27 98.21L596.32 98.34L596.37 98.46L596.42 98.59L596.47 98.72L596.52 98.85L596.57 98.99L596.62 99.13L596.67 99.27L596.72 99.42L596.77 99.58L596.82 99.74L596.87 99.90L596.92 100.08L596.97 100.26L597.02 100.45L597.07 100.64L597.12 100.85L597.17 101.06L597.22 101.29L597.27 101.53L597.32 101.78L597.37 102.06L597.42 102.34L597.47 102.65L597.52 102.96L597.57 103.29L597.62 103.64L597.67 103.99L597.72 104.36L597.77 104.74L597.82 105.13L597.87 105.53L597.92 105.94L597.97 106.36L598.02 106.79L598.07 107.23L598.12 107.67L598.17 108.13L598.22 108.59L598.27 109.05L598.32 109.52L598.37 110.00L598.42 110.48L598.47 111.00L598.52 111.55L598.57 112.13L598.62 112.73L598.67 113.36L598.73 114.00L598.78 114.65L598.83 115.31L598.88 115.98L598.93 116.64L598.98 117.30L599.03 117.95L599.08 118.58L599.13 119.21L599.18 119.83L599.23 120.43L599.28 121.04L599.33 121.64L599.38 122.24L599.43 122.85L599.48 123.46L599.53 124.07L599.58 124.70L599.63 125.33L599.68 125.98L599.73 126.64L599.78 127.33L599.83 128.03L599.88 128.75L599.93 129.50L599.98 130.27L600.03 131.07L600.08 131.92L600.13 132.85L600.18 133.86L600.23 134.93L600.28 136.05L600.33 137.20L600.38 138.36L600.43 139.54L600.48 140.70L600.53 141.83L600.58 142.93L600.63 143.96L600.68 144.93L600.73 145.83L600.78 146.72L600.83 147.59L600.88 148.44L600.93 149.29L600.98 150.12L601.03 150.94L601.08 151.74L601.13 152.54L601.18 153.33L601.23 154.11L601.28 154.87L601.34 155.63L601.39 156.38L601.44 157.12L601.49 157.86L601.54 158.58L601.59 159.30L601.64 160.02L601.69 160.73L601.74 161.43L601.79 162.13L601.84 162.82L601.89 163.51L601.94 164.20L601.99 164.88L602.04 165.56L602.09 166.24L602.14 166.92L602.19 167.59L602.24 168.27L602.29 168.94L602.34 169.61L602.39 170.29L602.44 170.97L602.49 171.64L602.54 172.32L602.59 173.01L602.64 173.69L602.69 174.38L602.74 175.07L602.79 175.77L602.84 176.47L602.89 177.17L602.94 177.87L602.99 178.56L603.04 179.26L603.09 179.95L603.14 180.64L603.19 181.34L603.24 182.03L603.29 182.71L603.34 183.40L603.39 184.09L603.44 184.77L603.49 185.46L603.54 186.14L603.59 186.82L603.64 187.50L603.69 188.18L603.74 188.86L603.79 189.53L603.84 190.21L603.89 190.88L603.95 191.55L604.00 192.22L604.05 192.89L604.10 193.56L604.15 194.23L604.20 194.89L604.25 195.56L604.30 196.22L604.35 196.88L604.40 197.54L604.45 198.20L604.50 198.86L604.55 199.51L604.60 200.17L604.65 200.82L604.70 201.47L604.75 202.12L604.80 202.77L604.85 203.41L604.90 204.06L604.95 204.70L605.00 205.35L605.05 205.99L605.10 206.63L605.15 207.26L605.20 207.90" stroke="#ff7426" stroke-width="1.15"/>
<path d="M372.60 148.50L372.80 148.50L373.00 148.51L373.20 148.51L373.40 148.52L373.60 148.52L373.80 148.53L374.00 148.53L374.20 148.54L374.40 148.54L374.60 148.55L374.80 148.55L375.00 148.56L375.20 148.56L375.40 148.57L375.60 148.57L375.80 148.58L376.00 148.58L376.20 148.59L376.40 148.60L376.60 148.60L376.80 148.61L377.00 148.61L377.20 148.62L377.40 148.62L377.60 148.63L377.80 148.63L378.00 148.64L378.20 148.65L378.40 148.65L378.60 148.66L378.80 148.66L379.00 148.67L379.20 148.68L379.40 148.68L379.60 148.69L379.80 148.69L380.00 148.70L380.00 148.70L380.20 148.71L380.40 148.71L380.60 148.72L380.80 148.73L381.00 148.74L381.20 148.74L381.40 148.75L381.60 148.76L381.80 148.77L382.00 148.78L382.20 148.79L382.40 148.80L382.60 148.81L382.80 148.82L383.00 148.83L383.20 148.84L383.40 148.84L383.60 148.85L383.80 148.86L384.00 148.87L384.20 148.88L384.40 148.89L384.60 148.90L384.80 148.91L385.00 148.92L385.20 148.93L385.40 148.93L385.60 148.94L385.80 148.95L386.00 148.96L386.20 148.96L386.40 148.97L386.60 148.97L386.80 148.98L387.00 148.98L387.20 148.99L387.40 148.99L387.60 148.99L387.80 149.00L388.00 149.00L388.20 149.00L388.40 149.00L388.40 149.00L388.60 148.98L388.80 148.94L389.00 148.86L389.20 148.77L389.40 148.65L389.60 148.52L389.80 148.37L390.00 148.21L390.20 148.05L390.40 147.88L390.50 147.80L390.60 147.71L390.80 147.51L391.00 147.27L391.20 146.99L391.40 146.70L391.60 146.38L391.80 146.05L392.00 145.71L392.20 145.37L392.30 145.20L392.40 145.02L392.60 144.63L392.80 144.19L393.00 143.73L393.20 143.25L393.40 142.76L393.60 142.28L393.80 141.82L394.00 141.39L394.20 140.99L394.40 140.65L394.50 140.50L394.60 140.36L394.80 140.07L395.00 139.78L395.20 139.49L395.40 139.23L395.60 138.98L395.80 138.77L396.00 138.60L396.20 138.47L396.40 138.41L396.50 138.40L396.60 138.41L396.80 138.49L397.00 138.63L397.20 138.83L397.40 139.08L397.60 139.36L397.80 139.67L398.00 140.00L398.20 140.33L398.30 140.50L398.40 140.68L398.60 141.09L398.80 141.57L399.00 142.11L399.20 142.69L399.40 143.31L399.60 143.94L399.80 144.57L400.00 145.20L400.00 145.20L400.20 145.85L400.40 146.57L400.60 147.32L400.80 148.09L401.00 148.86L401.20 149.60L401.40 150.31L401.60 150.95L401.80 151.50L401.80 151.50L402.00 152.03L402.20 152.57L402.40 153.10L402.60 153.59L402.80 154.00L403.00 154.31L403.20 154.48L403.30 154.50L403.40 154.49L403.60 154.45L403.80 154.36L404.00 154.24L404.20 154.11L404.40 153.97L404.60 153.83L404.80 153.70L405.00 153.60L405.00 153.60L405.20 153.51L405.40 153.41L405.60 153.31L405.80 153.22L406.00 153.13L406.20 153.05L406.40 152.98L406.60 152.93L406.80 152.90L406.80 152.90L407.00 152.88L407.20 152.86L407.40 152.84L407.60 152.82L407.80 152.81L408.00 152.79L408.20 152.78L408.40 152.76L408.60 152.75L408.80 152.74L409.00 152.73L409.20 152.72L409.40 152.71L409.60 152.71L409.80 152.70L410.00 152.70L410.20 152.70L410.30 152.70L410.40 152.70L410.60 152.70L410.80 152.71L411.00 152.71L411.20 152.72L411.40 152.73L411.60 152.74L411.80 152.75L412.00 152.77L412.20 152.78L412.40 152.80L412.60 152.82L412.80 152.83L413.00 152.85L413.20 152.88L413.40 152.90L413.60 152.92L413.80 152.94L414.00 152.97L414.20 152.99L414.40 153.02L414.60 153.04L414.80 153.07L415.00 153.09L415.20 153.12L415.40 153.15L415.60 153.17L415.80 153.20L416.00 153.23L416.20 153.25L416.40 153.28L416.60 153.30L416.80 153.33L417.00 153.35L417.20 153.38L417.40 153.40L417.60 153.42L417.80 153.44L418.00 153.46L418.20 153.48L418.40 153.50L418.40 153.50L418.60 153.52L418.80 153.54L419.00 153.55L419.20 153.57L419.40 153.59L419.60 153.61L419.80 153.62L420.00 153.64L420.20 153.66L420.40 153.68L420.60 153.69L420.80 153.71L421.00 153.73L421.20 153.75L421.40 153.76L421.60 153.78L421.80 153.80L422.00 153.81L422.20 153.83L422.40 153.85L422.60 153.87L422.80 153.88L423.00 153.90L423.20 153.92L423.40 153.93L423.60 153.95L423.80 153.97L424.00 153.99L424.20 154.00L424.40 154.02L424.60 154.04L424.80 154.05L425.00 154.07L425.20 154.09L425.40 154.10L425.60 154.12L425.80 154.14L426.00 154.15L426.20 154.17L426.40 154.19L426.60 154.20L426.80 154.22L427.00 154.24L427.20 154.25L427.40 154.27L427.60 154.29L427.80 154.30L428.00 154.32L428.20 154.33L428.40 154.35L428.60 154.37L428.80 154.38L429.00 154.40L429.20 154.41L429.40 154.43L429.60 154.45L429.80 154.46L430.00 154.48L430.20 154.49L430.40 154.51L430.60 154.53L430.80 154.54L431.00 154.56L431.20 154.57L431.40 154.59L431.60 154.60L431.80 154.62L432.00 154.64L432.20 154.65L432.40 154.67L432.60 154.68L432.80 154.70L433.00 154.71L433.20 154.73L433.40 154.74L433.60 154.76L433.80 154.77L434.00 154.79L434.20 154.80L434.40 154.82L434.60 154.83L434.80 154.85L435.00 154.86L435.20 154.88L435.40 154.89L435.60 154.91L435.80 154.92L436.00 154.94L436.20 154.95L436.40 154.96L436.60 154.98L436.80 154.99L437.00 155.01L437.20 155.02L437.40 155.04L437.60 155.05L437.80 155.06L438.00 155.08L438.20 155.09L438.40 155.11L438.60 155.12L438.80 155.13L439.00 155.15L439.20 155.16L439.40 155.18L439.60 155.19L439.80 155.20L440.00 155.22L440.20 155.23L440.40 155.24L440.60 155.26L440.80 155.27L441.00 155.28L441.20 155.30L441.40 155.31L441.60 155.32L441.80 155.34L442.00 155.35L442.20 155.36L442.40 155.37L442.60 155.39L442.80 155.40L443.00 155.41L443.20 155.43L443.40 155.44L443.60 155.45L443.80 155.46L444.00 155.48L444.20 155.49L444.40 155.50L444.40 155.50L444.60 155.51L444.80 155.52L445.00 155.54L445.20 155.55L445.40 155.56L445.60 155.57L445.80 155.58L446.00 155.60L446.20 155.61L446.40 155.62L446.60 155.63L446.80 155.64L447.00 155.65L447.20 155.67L447.40 155.68L447.60 155.69L447.80 155.70L448.00 155.71L448.20 155.72L448.40 155.73L448.60 155.74L448.80 155.75L449.00 155.77L449.20 155.78L449.40 155.79L449.60 155.80L449.80 155.81L450.00 155.82L450.20 155.83L450.40 155.84L450.60 155.85L450.80 155.86L451.00 155.87L451.20 155.88L451.40 155.89L451.60 155.90L451.80 155.91L452.00 155.92L452.20 155.94L452.40 155.95L452.60 155.96L452.80 155.97L453.00 155.98L453.20 155.99L453.40 156.00L453.60 156.01L453.80 156.02L454.00 156.03L454.20 156.04L454.40 156.05L454.60 156.06L454.80 156.07L455.00 156.08L455.20 156.09L455.40 156.10L455.60 156.11L455.80 156.12L456.00 156.13L456.20 156.13L456.40 156.14L456.60 156.15L456.80 156.16L457.00 156.17L457.20 156.18L457.40 156.19L457.60 156.20L457.80 156.21L458.00 156.22L458.20 156.23L458.40 156.24L458.60 156.25L458.80 156.26L459.00 156.27L459.20 156.28L459.40 156.29L459.60 156.30L459.80 156.31L460.00 156.32L460.20 156.33L460.40 156.34L460.60 156.35L460.80 156.35L461.00 156.36L461.20 156.37L461.40 156.38L461.60 156.39L461.80 156.40L462.00 156.41L462.20 156.42L462.40 156.43L462.60 156.44L462.80 156.45L463.00 156.46L463.20 156.47L463.40 156.48L463.60 156.49L463.80 156.50L464.00 156.51L464.20 156.52L464.40 156.53L464.60 156.54L464.80 156.54L465.00 156.55L465.20 156.56L465.40 156.57L465.60 156.58L465.80 156.59L466.00 156.60L466.20 156.61L466.40 156.62L466.60 156.63L466.80 156.64L467.00 156.65L467.20 156.66L467.40 156.67L467.60 156.68L467.80 156.69L468.00 156.70L468.20 156.71L468.40 156.72L468.60 156.73L468.80 156.74L469.00 156.75L469.20 156.76L469.40 156.77L469.60 156.78L469.80 156.79L470.00 156.80L470.00 156.80L470.20 156.81L470.40 156.82L470.60 156.83L470.80 156.84L471.00 156.85L471.20 156.85L471.40 156.86L471.60 156.87L471.80 156.87L472.00 156.88L472.20 156.89L472.40 156.89L472.60 156.90L472.80 156.91L473.00 156.91L473.20 156.92L473.40 156.92L473.60 156.93L473.80 156.93L474.00 156.94L474.20 156.94L474.40 156.95L474.60 156.95L474.80 156.96L475.00 156.96L475.20 156.96L475.40 156.97L475.60 156.97L475.80 156.98L476.00 156.98L476.20 156.99L476.40 157.00L476.60 157.00L476.80 157.01L477.00 157.01L477.20 157.02L477.40 157.03L477.60 157.03L477.80 157.04L478.00 157.05L478.20 157.06L478.40 157.06L478.60 157.07L478.80 157.08L479.00 157.09L479.20 157.10L479.40 157.11L479.60 157.12L479.80 157.13L480.00 157.15L480.20 157.16L480.40 157.17L480.60 157.18L480.80 157.20L481.00 157.21L481.20 157.23L481.40 157.25L481.60 157.26L481.80 157.28L482.00 157.30L482.20 157.32L482.40 157.34L482.60 157.36L482.80 157.38L483.00 157.40L483.20 157.42L483.40 157.45L483.60 157.47L483.80 157.50L483.80 157.50L484.00 157.60L484.20 157.81L484.40 158.07L484.60 158.30L484.60 158.30L484.80 158.50L484.80 158.50L485.00 159.45L485.02 159.54L485.20 160.50L485.22 160.58L485.40 161.63L485.40 161.65L485.56 162.67L485.60 162.92L485.71 163.71L485.80 164.36L485.85 164.75L485.98 165.79L486.00 166.00L486.09 166.84L486.20 167.88L486.20 167.92L486.29 168.92L486.38 169.96L486.40 170.22L486.46 171.01L486.53 172.05L486.60 173.09L486.60 173.10L486.66 174.13L486.72 175.17L486.77 176.22L486.80 176.96L486.81 177.26L486.86 178.30L487.00 178.30L487.20 178.30L487.40 178.30L487.60 178.30L487.69 178.30L487.72 176.81L487.74 175.32L487.77 173.83L487.80 172.49L487.80 172.34L487.84 170.85L487.87 169.36L487.91 167.87L487.95 166.38L487.99 164.89L488.00 164.57L488.04 163.41L488.08 161.92L488.13 160.43L488.19 158.94L488.20 158.65L488.25 157.45L488.31 155.96L488.38 154.47L488.40 153.93L488.45 152.98L488.52 151.49L488.60 150.00L488.60 150.00L488.80 145.21L489.00 140.25L489.10 138.30L489.20 136.68L489.40 133.60L489.60 130.72L489.80 128.04L490.00 125.55L490.20 123.26L490.40 121.15L490.60 119.22L490.80 117.47L491.00 115.90L491.20 114.50L491.20 114.50L491.40 113.21L491.60 112.01L491.80 110.90L492.00 109.93L492.20 109.10L492.40 108.45L492.50 108.20L492.60 107.98L492.80 107.54L493.00 107.15L493.20 106.81L493.40 106.54L493.60 106.36L493.80 106.30L493.80 106.30L494.00 106.38L494.20 106.62L494.40 106.97L494.60 107.42L494.80 107.94L495.00 108.50L495.00 108.50L495.20 109.20L495.40 110.16L495.60 111.37L495.80 112.82L496.00 114.50L496.00 114.50L496.20 117.22L496.40 120.61L496.50 122.00L496.60 123.06L496.80 124.99L496.80 125.02L497.00 127.32L497.06 128.04L497.20 130.00L497.27 131.06L497.40 133.17L497.45 134.08L497.60 137.06L497.60 137.11L497.73 140.13L497.80 142.07L497.84 143.15L497.93 146.17L498.00 149.13L498.00 149.19L498.06 152.21L498.12 155.23L498.16 158.25L498.20 161.19L498.20 161.27L498.23 164.29L498.26 167.32L498.28 170.34L498.30 173.36L498.32 176.38L498.33 179.40L498.40 179.40L498.51 179.40L498.53 176.67L498.55 173.94L498.57 171.21L498.59 168.47L498.60 167.57L498.62 165.74L498.65 163.01L498.69 160.28L498.73 157.55L498.78 154.82L498.80 153.78L498.84 152.08L498.90 149.35L498.97 146.62L499.00 145.72L499.06 143.89L499.15 141.16L499.20 140.00L499.27 138.43L499.39 135.69L499.40 135.56L499.54 132.96L499.60 131.94L499.71 130.23L499.80 128.76L499.90 127.50L500.00 126.70L500.20 125.38L500.40 124.41L500.60 123.80L500.60 123.80L500.80 123.38L501.00 123.03L501.20 122.79L501.40 122.70L501.40 122.70L501.60 122.81L501.80 123.11L502.00 123.52L502.20 123.98L502.40 124.43L502.60 124.80L502.60 124.80L502.80 125.12L503.00 125.47L503.20 125.81L503.40 126.15L503.60 126.45L503.80 126.70L504.00 126.89L504.20 127.00L504.20 127.00L504.40 127.06L504.60 127.12L504.80 127.18L505.00 127.23L505.20 127.28L505.40 127.32L505.60 127.36L505.80 127.40L506.00 127.43L506.20 127.47L506.40 127.49L506.60 127.52L506.80 127.54L507.00 127.56L507.20 127.57L507.40 127.59L507.60 127.59L507.80 127.60L508.00 127.60L508.00 127.60L508.20 127.60L508.40 127.60L508.60 127.60L508.80 127.60L509.00 127.59L509.20 127.59L509.40 127.59L509.60 127.59L509.80 127.58L510.00 127.58L510.20 127.58L510.40 127.57L510.60 127.57L510.80 127.56L511.00 127.56L511.20 127.56L511.40 127.55L511.60 127.55L511.80 127.54L512.00 127.54L512.20 127.54L512.40 127.53L512.60 127.53L512.80 127.52L513.00 127.52L513.20 127.52L513.40 127.51L513.60 127.51L513.80 127.51L514.00 127.51L514.20 127.50L514.40 127.50L514.60 127.50L514.80 127.50L515.00 127.50L515.00 127.50L515.20 127.50L515.40 127.50L515.60 127.50L515.80 127.50L516.00 127.50L516.20 127.50L516.40 127.50L516.60 127.50L516.80 127.51L517.00 127.51L517.20 127.51L517.40 127.51L517.60 127.51L517.80 127.51L518.00 127.51L518.20 127.52L518.40 127.52L518.60 127.52L518.80 127.52L519.00 127.53L519.20 127.53L519.40 127.53L519.60 127.53L519.80 127.54L520.00 127.54L520.20 127.54L520.40 127.54L520.60 127.55L520.80 127.55L521.00 127.55L521.20 127.56L521.40 127.56L521.60 127.56L521.80 127.57L522.00 127.57L522.20 127.58L522.40 127.58L522.60 127.58L522.80 127.59L523.00 127.59L523.20 127.60L523.40 127.60L523.60 127.60L523.80 127.61L524.00 127.61L524.20 127.62L524.40 127.62L524.60 127.63L524.80 127.63L525.00 127.64L525.20 127.64L525.40 127.64L525.60 127.65L525.80 127.65L526.00 127.66L526.20 127.66L526.40 127.67L526.60 127.67L526.80 127.68L527.00 127.68L527.20 127.69L527.40 127.69L527.60 127.70L527.80 127.70L528.00 127.71L528.20 127.71L528.40 127.72L528.60 127.73L528.80 127.73L529.00 127.74L529.20 127.74L529.40 127.75L529.60 127.75L529.80 127.76L530.00 127.76L530.20 127.77L530.40 127.77L530.60 127.78L530.80 127.78L531.00 127.79L531.20 127.79L531.40 127.80L531.60 127.81L531.80 127.81L532.00 127.82L532.20 127.82L532.40 127.83L532.60 127.83L532.80 127.84L533.00 127.84L533.20 127.85L533.40 127.85L533.60 127.86L533.80 127.86L534.00 127.87L534.20 127.87L534.40 127.88L534.60 127.88L534.80 127.89L535.00 127.89L535.20 127.90L535.40 127.90L535.60 127.91L535.80 127.91L536.00 127.92L536.20 127.92L536.40 127.93L536.60 127.93L536.80 127.94L537.00 127.94L537.20 127.94L537.40 127.95L537.60 127.95L537.80 127.96L538.00 127.96L538.20 127.97L538.40 127.97L538.60 127.97L538.80 127.98L539.00 127.98L539.20 127.99L539.40 127.99L539.60 127.99L539.80 128.00L540.00 128.00L540.00 128.00L540.20 128.00L540.40 128.01L540.60 128.01L540.80 128.01L541.00 128.02L541.20 128.02L541.40 128.02L541.60 128.03L541.80 128.03L542.00 128.04L542.20 128.04L542.40 128.04L542.60 128.05L542.80 128.05L543.00 128.06L543.20 128.06L543.40 128.06L543.60 128.07L543.80 128.07L544.00 128.07L544.20 128.08L544.40 128.08L544.60 128.09L544.80 128.09L545.00 128.09L545.20 128.10L545.40 128.10L545.60 128.11L545.80 128.11L546.00 128.11L546.20 128.12L546.40 128.12L546.60 128.13L546.80 128.13L547.00 128.13L547.20 128.14L547.40 128.14L547.60 128.15L547.80 128.15L548.00 128.15L548.20 128.16L548.40 128.16L548.60 128.17L548.80 128.17L549.00 128.17L549.20 128.18L549.40 128.18L549.60 128.19L549.80 128.19L550.00 128.19L550.20 128.20L550.40 128.20L550.60 128.20L550.80 128.21L551.00 128.21L551.20 128.21L551.40 128.22L551.60 128.22L551.80 128.22L552.00 128.23L552.20 128.23L552.40 128.23L552.60 128.24L552.80 128.24L553.00 128.24L553.20 128.25L553.40 128.25L553.60 128.25L553.80 128.25L554.00 128.26L554.20 128.26L554.40 128.26L554.60 128.26L554.80 128.27L555.00 128.27L555.20 128.27L555.40 128.27L555.60 128.28L555.80 128.28L556.00 128.28L556.20 128.28L556.40 128.28L556.60 128.29L556.80 128.29L557.00 128.29L557.20 128.29L557.40 128.29L557.60 128.29L557.80 128.29L558.00 128.29L558.20 128.30L558.40 128.30L558.60 128.30L558.80 128.30L559.00 128.30L559.20 128.30L559.40 128.30L559.60 128.30L559.80 128.30L560.00 128.30L560.00 128.30L560.20 128.30L560.40 128.30L560.60 128.30L560.80 128.30L561.00 128.30L561.20 128.30L561.40 128.30L561.60 128.30L561.80 128.30L562.00 128.30L562.20 128.30L562.40 128.30L562.60 128.30L562.80 128.30L563.00 128.30L563.20 128.30L563.40 128.30L563.60 128.29L563.80 128.29L564.00 128.29L564.20 128.29L564.40 128.29L564.60 128.29L564.80 128.29L565.00 128.29L565.20 128.29L565.40 128.29L565.60 128.29L565.80 128.29L566.00 128.28L566.20 128.28L566.40 128.28L566.60 128.28L566.80 128.28L567.00 128.28L567.20 128.28L567.40 128.28L567.60 128.28L567.80 128.27L568.00 128.27L568.20 128.27L568.40 128.27L568.60 128.27L568.80 128.27L569.00 128.27L569.20 128.26L569.40 128.26L569.60 128.26L569.80 128.26L570.00 128.26L570.20 128.26L570.40 128.25L570.60 128.25L570.80 128.25L571.00 128.25L571.20 128.25L571.40 128.24L571.60 128.24L571.80 128.24L572.00 128.24L572.20 128.24L572.40 128.23L572.60 128.23L572.80 128.23L573.00 128.23L573.20 128.22L573.40 128.22L573.60 128.22L573.80 128.22L574.00 128.21L574.20 128.21L574.40 128.21L574.60 128.21L574.80 128.20L575.00 128.20L575.00 128.20L575.20 128.20L575.40 128.19L575.60 128.19L575.80 128.18L576.00 128.18L576.20 128.17L576.40 128.17L576.60 128.16L576.80 128.15L577.00 128.14L577.20 128.13L577.40 128.12L577.60 128.11L577.80 128.09L578.00 128.08L578.20 128.06L578.40 128.05L578.60 128.03L578.80 128.01L579.00 127.99L579.20 127.97L579.40 127.95L579.60 127.92L579.80 127.90L580.00 127.87L580.20 127.84L580.40 127.82L580.50 127.80L580.60 127.78L580.80 127.72L581.00 127.63L581.20 127.51L581.40 127.36L581.60 127.19L581.80 127.00L581.80 127.00L582.00 126.70L582.20 126.22L582.40 125.58L582.60 124.80L582.80 123.90L583.00 122.90L583.20 121.82L583.40 120.68L583.60 119.50L583.70 118.90L583.80 118.26L584.00 116.74L584.20 114.95L584.40 112.96L584.60 110.80L584.80 108.54L585.00 106.23L585.20 103.92L585.40 101.66L585.60 99.50L585.60 99.50L585.80 97.35L586.00 95.11L586.20 92.81L586.40 90.49L586.60 88.18L586.80 85.93L587.00 83.76L587.20 81.73L587.40 79.86L587.60 78.20L587.60 78.20L587.80 76.65L588.00 75.13L588.20 73.64L588.40 72.22L588.60 70.89L588.80 69.67L589.00 68.58L589.20 67.65L589.40 66.90L589.50 66.60L589.60 66.33L589.80 65.79L590.00 65.28L590.20 64.81L590.40 64.41L590.60 64.08L590.80 63.84L591.00 63.72L591.10 63.70L591.20 63.72L591.40 63.86L591.60 64.12L591.80 64.50L592.00 64.98L592.20 65.54L592.40 66.17L592.60 66.86L592.80 67.60L592.80 67.60L593.00 68.48L593.20 69.63L593.40 71.09L593.60 72.88L593.80 75.03L594.00 77.58L594.20 80.56L594.40 84.00L594.40 84.00L594.60 91.45L594.70 95.00L594.80 97.01L594.80 97.07L594.90 99.15L594.98 101.22L595.00 101.64L595.06 103.29L595.13 105.37L595.20 107.44L595.20 107.44L595.26 109.52L595.32 111.59L595.37 113.66L595.40 115.20L595.41 115.74L595.45 117.81L595.49 119.88L595.53 121.96L595.56 124.03L595.59 126.11L595.60 126.98L595.62 128.18L595.64 130.25L595.66 132.33L595.68 134.40L595.80 134.40L596.00 134.40L596.04 134.40L596.06 132.26L596.07 130.12L596.09 127.97L596.10 125.83L596.12 123.69L596.14 121.55L596.17 119.41L596.19 117.26L596.20 116.77L596.22 115.12L596.25 112.98L596.29 110.84L596.32 108.69L596.36 106.55L596.40 104.75L596.41 104.41L596.46 102.27L596.51 100.13L596.57 97.98L596.60 96.84L596.63 95.84L596.70 93.70L596.80 92.19L597.00 89.60L597.20 87.55L597.40 86.04L597.60 85.02L597.80 84.50L597.80 84.50L598.00 84.23L598.20 84.01L598.40 83.84L598.60 83.74L598.80 83.70L598.80 83.70L599.00 83.80L599.20 84.08L599.40 84.48L599.60 84.93L599.80 85.39L600.00 85.80L600.00 85.80L600.20 86.21L600.40 86.68L600.60 87.15L600.80 87.55L601.00 87.83L601.10 87.90L601.20 87.95L601.40 88.04L601.60 88.12L601.80 88.19L602.00 88.26L602.20 88.32L602.40 88.38L602.60 88.42L602.80 88.47L603.00 88.50L603.20 88.53L603.40 88.56L603.60 88.58L603.80 88.59L604.00 88.60L604.00 88.60L604.20 88.61L604.40 88.61L604.60 88.62L604.80 88.63L605.00 88.63L605.20 88.64L605.40 88.64L605.60 88.65L605.80 88.65L606.00 88.66L606.20 88.66L606.40 88.67L606.60 88.67L606.80 88.67L607.00 88.68L607.20 88.68L607.40 88.68L607.60 88.68L607.80 88.69L608.00 88.69L608.20 88.69L608.40 88.69L608.60 88.69L608.80 88.70L609.00 88.70L609.20 88.70L609.40 88.70L609.60 88.70L609.80 88.70L610.00 88.70L610.00 88.70L610.20 88.70L610.40 88.70L610.60 88.70L610.80 88.70L611.00 88.70L611.20 88.70L611.40 88.70L611.60 88.70L611.80 88.70L612.00 88.70L612.20 88.70L612.40 88.70L612.60 88.70L612.80 88.70L613.00 88.70L613.20 88.70L613.40 88.70L613.60 88.70L613.80 88.70L614.00 88.70L614.20 88.70L614.40 88.70L614.60 88.70L614.80 88.70L615.00 88.70L615.20 88.70L615.40 88.70L615.60 88.70L615.80 88.70L616.00 88.70L616.20 88.70L616.40 88.70L616.60 88.70L616.80 88.70L617.00 88.70L617.20 88.70L617.40 88.70L617.60 88.70L617.80 88.70L618.00 88.70L618.20 88.70L618.40 88.70L618.60 88.70L618.80 88.70L619.00 88.70L619.20 88.70L619.40 88.70L619.60 88.70L619.80 88.70L620.00 88.70L620.20 88.70L620.40 88.70L620.60 88.70L620.80 88.70L621.00 88.70L621.20 88.70L621.40 88.70L621.60 88.70L621.80 88.70L622.00 88.70L622.20 88.70L622.40 88.70L622.60 88.70L622.80 88.70L623.00 88.70L623.20 88.70L623.40 88.70L623.60 88.70L623.80 88.70L624.00 88.70L624.20 88.70L624.40 88.70L624.60 88.70L624.80 88.70L625.00 88.70L625.20 88.70L625.40 88.70L625.60 88.70L625.80 88.70L626.00 88.70L626.20 88.70L626.40 88.70L626.60 88.70L626.80 88.70L627.00 88.70L627.20 88.70L627.40 88.70L627.60 88.70L627.80 88.70L628.00 88.70L628.20 88.70L628.40 88.70L628.60 88.70L628.80 88.70L629.00 88.70L629.20 88.70L629.40 88.70L629.60 88.70L629.80 88.70L630.00 88.70L630.20 88.70L630.40 88.70L630.60 88.70L630.80 88.70L631.00 88.70L631.20 88.70L631.40 88.70L631.60 88.70L631.80 88.70L632.00 88.70L632.20 88.70L632.40 88.70L632.60 88.70L632.80 88.70L633.00 88.70L633.20 88.70L633.40 88.70L633.60 88.70L633.80 88.70L634.00 88.70L634.20 88.70L634.40 88.70L634.60 88.70L634.80 88.70L635.00 88.70L635.20 88.70L635.40 88.70L635.60 88.70L635.80 88.70L636.00 88.70L636.20 88.70L636.40 88.70L636.60 88.70L636.80 88.70L637.00 88.70L637.20 88.70L637.40 88.70L637.60 88.70L637.80 88.70L638.00 88.70L638.20 88.70L638.40 88.70L638.60 88.70L638.80 88.70L639.00 88.70L639.20 88.70L639.40 88.70L639.60 88.70L639.80 88.70L640.00 88.70L640.00 88.70L640.20 88.70L640.40 88.70L640.60 88.70L640.80 88.70L641.00 88.70L641.20 88.70L641.40 88.70L641.60 88.70L641.80 88.70L642.00 88.70L642.20 88.70L642.40 88.70L642.60 88.70L642.80 88.70L643.00 88.70L643.20 88.70L643.40 88.70L643.60 88.70L643.80 88.70L644.00 88.70L644.20 88.70L644.40 88.70L644.60 88.70L644.80 88.69L645.00 88.69L645.20 88.69L645.40 88.69L645.60 88.69L645.80 88.69L646.00 88.69L646.20 88.69L646.40 88.69L646.60 88.69L646.80 88.69L647.00 88.69L647.20 88.69L647.40 88.69L647.60 88.69L647.80 88.69L648.00 88.69L648.20 88.69L648.40 88.68L648.60 88.68L648.80 88.68L649.00 88.68L649.20 88.68L649.40 88.68L649.60 88.68L649.80 88.68L650.00 88.68L650.20 88.68L650.40 88.68L650.60 88.68L650.80 88.68L651.00 88.67L651.20 88.67L651.40 88.67L651.60 88.67L651.80 88.67L652.00 88.67L652.20 88.67L652.40 88.67L652.60 88.67L652.80 88.67L653.00 88.67L653.20 88.66L653.40 88.66L653.60 88.66L653.80 88.66L654.00 88.66L654.20 88.66L654.40 88.66L654.60 88.66L654.80 88.66L655.00 88.66L655.20 88.65L655.40 88.65L655.60 88.65L655.80 88.65L656.00 88.65L656.20 88.65L656.40 88.65L656.60 88.65L656.80 88.65L657.00 88.64L657.20 88.64L657.40 88.64L657.60 88.64L657.80 88.64L658.00 88.64L658.20 88.64L658.40 88.64L658.60 88.64L658.80 88.63L659.00 88.63L659.20 88.63L659.40 88.63L659.60 88.63L659.80 88.63L660.00 88.63L660.20 88.63L660.40 88.63L660.60 88.62L660.80 88.62L661.00 88.62L661.20 88.62L661.40 88.62L661.60 88.62L661.80 88.62L662.00 88.62L662.20 88.62L662.40 88.61L662.60 88.61L662.80 88.61L663.00 88.61L663.20 88.61L663.40 88.61L663.60 88.61L663.80 88.61L664.00 88.60L664.20 88.60L664.40 88.60L664.60 88.60L664.80 88.60" stroke="#1f3cff" stroke-width="1.2"/>
</g>
<line x1="162.04" y1="241.40" x2="162.04" y2="410.20" stroke="#e2e2e2" stroke-width="1"/>
<line x1="45.50" y1="379.51" x2="319.30" y2="379.51" stroke="#e2e2e2" stroke-width="1"/>
<path d="M45.50 410.20v-3.0M45.50 241.40v3.0M63.04 410.20v-1.7M63.04 241.40v1.7M73.30 410.20v-1.7M73.30 241.40v1.7M80.58 410.20v-1.7M80.58 241.40v1.7M86.23 410.20v-1.7M86.23 241.40v1.7M90.84 410.20v-1.7M90.84 241.40v1.7M94.74 410.20v-1.7M94.74 241.40v1.7M98.12 410.20v-1.7M98.12 241.40v1.7M101.10 410.20v-1.7M101.10 241.40v1.7M103.77 410.20v-3.0M103.77 241.40v3.0M121.31 410.20v-1.7M121.31 241.40v1.7M131.57 410.20v-1.7M131.57 241.40v1.7M138.85 410.20v-1.7M138.85 241.40v1.7M144.50 410.20v-1.7M144.50 241.40v1.7M149.11 410.20v-1.7M149.11 241.40v1.7M153.01 410.20v-1.7M153.01 241.40v1.7M156.39 410.20v-1.7M156.39 241.40v1.7M159.37 410.20v-1.7M159.37 241.40v1.7M162.04 410.20v-3.0M162.04 241.40v3.0M179.58 410.20v-1.7M179.58 241.40v1.7M189.84 410.20v-1.7M189.84 241.40v1.7M197.12 410.20v-1.7M197.12 241.40v1.7M202.76 410.20v-1.7M202.76 241.40v1.7M207.38 410.20v-1.7M207.38 241.40v1.7M211.28 410.20v-1.7M211.28 241.40v1.7M214.66 410.20v-1.7M214.66 241.40v1.7M217.64 410.20v-1.7M217.64 241.40v1.7M220.30 410.20v-3.0M220.30 241.40v3.0M237.84 410.20v-1.7M237.84 241.40v1.7M248.11 410.20v-1.7M248.11 241.40v1.7M255.39 410.20v-1.7M255.39 241.40v1.7M261.03 410.20v-1.7M261.03 241.40v1.7M265.65 410.20v-1.7M265.65 241.40v1.7M269.55 410.20v-1.7M269.55 241.40v1.7M272.93 410.20v-1.7M272.93 241.40v1.7M275.91 410.20v-1.7M275.91 241.40v1.7M278.57 410.20v-3.0M278.57 241.40v3.0M296.11 410.20v-1.7M296.11 241.40v1.7M306.37 410.20v-1.7M306.37 241.40v1.7M313.65 410.20v-1.7M313.65 241.40v1.7M319.30 410.20v-1.7M319.30 241.40v1.7M45.50 410.20h3M319.30 410.20h-3M45.50 379.51h3M319.30 379.51h-3M45.50 348.82h3M319.30 348.82h-3M45.50 318.13h3M319.30 318.13h-3M45.50 287.44h3M319.30 287.44h-3M45.50 256.75h3M319.30 256.75h-3M45.50 400.96h1.7M319.30 400.96h-1.7M45.50 395.56h1.7M319.30 395.56h-1.7M45.50 391.72h1.7M319.30 391.72h-1.7M45.50 388.75h1.7M319.30 388.75h-1.7M45.50 386.32h1.7M319.30 386.32h-1.7M45.50 384.26h1.7M319.30 384.26h-1.7M45.50 382.48h1.7M319.30 382.48h-1.7M45.50 380.91h1.7M319.30 380.91h-1.7M45.50 370.27h1.7M319.30 370.27h-1.7M45.50 364.87h1.7M319.30 364.87h-1.7M45.50 361.03h1.7M319.30 361.03h-1.7M45.50 358.06h1.7M319.30 358.06h-1.7M45.50 355.63h1.7M319.30 355.63h-1.7M45.50 353.57h1.7M319.30 353.57h-1.7M45.50 351.79h1.7M319.30 351.79h-1.7M45.50 350.22h1.7M319.30 350.22h-1.7M45.50 339.58h1.7M319.30 339.58h-1.7M45.50 334.17h1.7M319.30 334.17h-1.7M45.50 330.34h1.7M319.30 330.34h-1.7M45.50 327.37h1.7M319.30 327.37h-1.7M45.50 324.94h1.7M319.30 324.94h-1.7M45.50 322.88h1.7M319.30 322.88h-1.7M45.50 321.10h1.7M319.30 321.10h-1.7M45.50 319.53h1.7M319.30 319.53h-1.7M45.50 308.89h1.7M319.30 308.89h-1.7M45.50 303.48h1.7M319.30 303.48h-1.7M45.50 299.65h1.7M319.30 299.65h-1.7M45.50 296.68h1.7M319.30 296.68h-1.7M45.50 294.25h1.7M319.30 294.25h-1.7M45.50 292.19h1.7M319.30 292.19h-1.7M45.50 290.41h1.7M319.30 290.41h-1.7M45.50 288.84h1.7M319.30 288.84h-1.7M45.50 278.20h1.7M319.30 278.20h-1.7M45.50 272.79h1.7M319.30 272.79h-1.7M45.50 268.96h1.7M319.30 268.96h-1.7M45.50 265.98h1.7M319.30 265.98h-1.7M45.50 263.55h1.7M319.30 263.55h-1.7M45.50 261.50h1.7M319.30 261.50h-1.7M45.50 259.72h1.7M319.30 259.72h-1.7M45.50 258.15h1.7M319.30 258.15h-1.7M45.50 247.51h1.7M319.30 247.51h-1.7M45.50 242.10h1.7M319.30 242.10h-1.7" stroke="#222" stroke-width="0.9" fill="none"/>
<text transform="translate(42.50,260.30) scale(1,1.0)" text-anchor="end" class="ss">10<tspan style="font-size:7.2px" dy="-3.9">4</tspan></text>
<text transform="translate(42.50,290.99) scale(1,1.0)" text-anchor="end" class="ss">1000</text>
<text transform="translate(42.50,321.68) scale(1,1.0)" text-anchor="end" class="ss">100</text>
<text transform="translate(42.50,352.37) scale(1,1.0)" text-anchor="end" class="ss">10</text>
<text transform="translate(42.50,383.06) scale(1,1.0)" text-anchor="end" class="ss">1</text>
<text transform="translate(42.50,413.75) scale(1,1.0)" text-anchor="end" class="ss">0.1</text>
<text transform="translate(44.90,422.8) scale(1,1.0)" text-anchor="middle" class="ss">0.01</text>
<text transform="translate(103.17,422.8) scale(1,1.0)" text-anchor="middle" class="ss">0.10</text>
<text transform="translate(161.44,422.8) scale(1,1.0)" text-anchor="middle" class="ss">1</text>
<text transform="translate(219.70,422.8) scale(1,1.0)" text-anchor="middle" class="ss">10</text>
<text transform="translate(277.97,422.8) scale(1,1.0)" text-anchor="middle" class="ss">100</text>
<text transform="translate(182.40,437.6) scale(1,1.0)" text-anchor="middle" class="ss">k / H</text>
<clipPath id="cbl"><rect x="45.5" y="241.4" width="273.8" height="168.79999999999998"/></clipPath>
<g clip-path="url(#cbl)" fill="none" stroke-linejoin="round" stroke-width="1.25">
<path d="M45.50 379.50L45.70 379.51L45.90 379.51L46.10 379.52L46.30 379.53L46.50 379.53L46.70 379.54L46.90 379.55L47.10 379.55L47.30 379.56L47.50 379.57L47.70 379.57L47.90 379.58L48.10 379.58L48.30 379.59L48.50 379.60L48.70 379.60L48.90 379.61L49.10 379.62L49.30 379.62L49.50 379.63L49.70 379.63L49.90 379.64L50.10 379.65L50.30 379.65L50.50 379.66L50.70 379.66L50.90 379.67L51.10 379.67L51.30 379.68L51.50 379.69L51.70 379.69L51.90 379.70L52.10 379.70L52.30 379.71L52.50 379.71L52.70 379.72L52.90 379.72L53.10 379.73L53.30 379.74L53.50 379.74L53.70 379.75L53.90 379.75L54.10 379.76L54.30 379.76L54.50 379.77L54.70 379.77L54.90 379.78L55.10 379.78L55.30 379.79L55.50 379.79L55.70 379.80L55.90 379.80L56.10 379.81L56.30 379.81L56.50 379.82L56.70 379.82L56.90 379.83L57.10 379.83L57.30 379.84L57.50 379.84L57.70 379.85L57.90 379.85L58.10 379.86L58.30 379.86L58.50 379.87L58.70 379.87L58.90 379.88L59.10 379.88L59.30 379.88L59.50 379.89L59.70 379.89L59.90 379.90L60.10 379.90L60.30 379.91L60.50 379.91L60.70 379.92L60.90 379.92L61.10 379.93L61.30 379.93L61.50 379.94L61.70 379.94L61.90 379.95L62.10 379.95L62.30 379.96L62.50 379.96L62.70 379.97L62.90 379.97L63.10 379.98L63.30 379.98L63.50 379.99L63.70 379.99L63.90 380.00L64.10 380.00L64.30 380.01L64.50 380.01L64.70 380.02L64.90 380.02L65.10 380.03L65.30 380.03L65.50 380.04L65.70 380.04L65.90 380.05L66.10 380.05L66.30 380.05L66.50 380.06L66.70 380.06L66.90 380.07L67.10 380.07L67.30 380.07L67.50 380.08L67.70 380.08L67.90 380.08L68.10 380.09L68.30 380.09L68.50 380.09L68.70 380.09L68.90 380.09L69.10 380.10L69.30 380.10L69.50 380.10L69.70 380.10L69.90 380.10L70.10 380.10L70.30 380.10L70.50 380.10L70.70 380.10L70.90 380.09L71.10 380.09L71.30 380.08L71.50 380.07L71.70 380.07L71.90 380.06L72.10 380.05L72.30 380.04L72.50 380.03L72.70 380.01L72.90 380.00L73.10 379.99L73.30 379.97L73.50 379.96L73.70 379.94L73.90 379.93L74.10 379.91L74.30 379.90L74.50 379.88L74.70 379.86L74.90 379.85L75.10 379.83L75.30 379.81L75.50 379.80L75.70 379.78L75.90 379.76L76.10 379.75L76.30 379.73L76.50 379.71L76.70 379.70L76.90 379.68L77.10 379.66L77.30 379.65L77.50 379.63L77.70 379.62L77.90 379.61L78.10 379.59L78.30 379.58L78.50 379.57L78.70 379.55L78.90 379.54L79.10 379.52L79.30 379.50L79.50 379.49L79.70 379.47L79.90 379.45L80.10 379.44L80.30 379.42L80.50 379.40L80.70 379.38L80.90 379.37L81.10 379.35L81.30 379.33L81.50 379.31L81.70 379.30L81.90 379.28L82.10 379.26L82.30 379.24L82.50 379.23L82.70 379.21L82.90 379.19L83.10 379.18L83.30 379.16L83.50 379.15L83.70 379.13L83.90 379.12L84.10 379.11L84.30 379.09L84.50 379.08L84.70 379.07L84.90 379.06L85.10 379.05L85.30 379.04L85.50 379.03L85.70 379.02L85.90 379.02L86.10 379.01L86.30 379.01L86.50 379.00L86.70 379.00L86.90 379.00L87.10 379.00L87.30 379.00L87.50 379.00L87.70 379.01L87.90 379.01L88.10 379.02L88.30 379.03L88.50 379.04L88.70 379.05L88.90 379.06L89.10 379.07L89.30 379.09L89.50 379.10L89.70 379.12L89.90 379.14L90.10 379.15L90.30 379.17L90.50 379.19L90.70 379.21L90.90 379.23L91.10 379.25L91.30 379.27L91.50 379.29L91.70 379.32L91.90 379.34L92.10 379.36L92.30 379.38L92.50 379.41L92.70 379.43L92.90 379.46L93.10 379.48L93.30 379.50L93.50 379.53L93.70 379.55L93.90 379.57L94.10 379.60L94.30 379.62L94.50 379.64L94.70 379.67L94.90 379.69L95.10 379.71L95.30 379.74L95.50 379.76L95.70 379.79L95.90 379.82L96.10 379.85L96.30 379.88L96.50 379.91L96.70 379.95L96.90 379.98L97.10 380.02L97.30 380.06L97.50 380.10L97.70 380.13L97.90 380.17L98.10 380.21L98.30 380.25L98.50 380.29L98.70 380.33L98.90 380.37L99.10 380.41L99.30 380.45L99.50 380.49L99.70 380.53L99.90 380.57L100.10 380.60L100.30 380.64L100.50 380.67L100.70 380.71L100.90 380.74L101.10 380.77L101.30 380.80L101.50 380.83L101.70 380.86L101.90 380.88L102.10 380.90L102.30 380.92L102.50 380.94L102.70 380.96L102.90 380.97L103.10 380.98L103.30 380.99L103.50 381.00L103.70 381.00L103.90 381.00L104.10 380.99L104.30 380.99L104.50 380.97L104.70 380.95L104.90 380.93L105.10 380.91L105.30 380.88L105.50 380.85L105.70 380.81L105.90 380.78L106.10 380.74L106.30 380.70L106.50 380.65L106.70 380.61L106.90 380.56L107.10 380.52L107.30 380.47L107.50 380.42L107.70 380.37L107.90 380.32L108.10 380.28L108.30 380.22L108.50 380.16L108.70 380.10L108.90 380.03L109.10 379.96L109.30 379.88L109.50 379.80L109.70 379.71L109.90 379.62L110.10 379.53L110.30 379.44L110.50 379.34L110.70 379.25L110.90 379.15L111.10 379.05L111.30 378.95L111.50 378.85L111.70 378.75L111.90 378.65L112.10 378.55L112.30 378.44L112.50 378.32L112.70 378.20L112.90 378.07L113.10 377.93L113.30 377.79L113.50 377.65L113.70 377.51L113.90 377.37L114.10 377.23L114.30 377.09L114.50 376.96L114.70 376.83L114.90 376.71L115.10 376.59L115.30 376.49L115.50 376.39L115.70 376.30L115.90 376.23L116.10 376.17L116.30 376.11L116.50 376.05L116.70 375.99L116.90 375.94L117.10 375.88L117.30 375.83L117.50 375.77L117.70 375.72L117.90 375.67L118.10 375.62L118.30 375.58L118.50 375.54L118.70 375.50L118.90 375.46L119.10 375.43L119.30 375.40L119.50 375.37L119.70 375.35L119.90 375.33L120.10 375.32L120.30 375.31L120.50 375.30L120.70 375.30L120.90 375.32L121.10 375.36L121.30 375.41L121.50 375.47L121.70 375.55L121.90 375.64L122.10 375.74L122.30 375.86L122.50 375.97L122.70 376.10L122.90 376.23L123.10 376.37L123.30 376.51L123.50 376.65L123.70 376.79L123.90 376.93L124.10 377.07L124.30 377.23L124.50 377.39L124.70 377.58L124.90 377.77L125.10 377.98L125.30 378.20L125.50 378.42L125.70 378.66L125.90 378.90L126.10 379.15L126.30 379.40L126.50 379.66L126.70 379.92L126.90 380.18L127.10 380.44L127.30 380.70L127.50 380.97L127.70 381.24L127.90 381.52L128.10 381.82L128.30 382.12L128.50 382.42L128.70 382.73L128.90 383.05L129.10 383.37L129.30 383.70L129.50 384.02L129.70 384.35L129.90 384.68L130.10 385.02L130.30 385.35L130.50 385.68L130.70 386.01L130.90 386.34L131.10 386.67L131.30 387.02L131.50 387.40L131.70 387.81L131.90 388.23L132.10 388.66L132.30 389.10L132.50 389.55L132.70 390.00L132.90 390.45L133.10 390.89L133.30 391.32L133.50 391.73L133.70 392.13L133.90 392.50L134.10 392.84L134.30 393.15L134.50 393.42L134.70 393.65L134.90 393.84L135.10 393.98L135.30 394.07L135.50 394.10L135.70 394.06L135.90 393.94L136.10 393.75L136.30 393.49L136.50 393.18L136.70 392.80L136.90 392.38L137.10 391.92L137.30 391.42L137.50 390.88L137.70 390.32L137.90 389.74L138.10 389.14L138.30 388.53L138.50 387.92L138.70 387.31L138.90 386.71L139.10 386.12L139.30 385.55L139.50 385.00L139.70 384.45L139.90 383.87L140.10 383.25L140.30 382.61L140.50 381.95L140.70 381.26L140.90 380.57L141.10 379.86L141.30 379.15L141.50 378.43L141.70 377.72L141.90 377.01L142.10 376.31L142.30 375.62L142.50 374.95L142.70 374.30L142.90 373.67L143.10 373.08L143.30 372.51L143.50 371.99L143.70 371.50L143.90 371.04L144.10 370.58L144.30 370.12L144.50 369.67L144.70 369.23L144.90 368.79L145.10 368.35L145.30 367.93L145.50 367.51L145.70 367.10L145.90 366.70L146.10 366.31L146.30 365.93L146.50 365.56L146.70 365.20L146.90 364.85L147.10 364.51L147.30 364.18L147.50 363.87L147.70 363.57L147.90 363.29L148.10 363.02L148.30 362.77L148.50 362.53L148.70 362.30L148.90 362.10L149.10 361.91L149.30 361.72L149.50 361.53L149.70 361.34L149.90 361.15L150.10 360.97L150.30 360.79L150.50 360.61L150.70 360.43L150.90 360.26L151.10 360.09L151.30 359.93L151.50 359.77L151.70 359.61L151.90 359.46L152.10 359.32L152.30 359.18L152.50 359.06L152.70 358.93L152.90 358.82L153.10 358.71L153.30 358.62L153.50 358.53L153.70 358.45L153.90 358.38L154.10 358.32L154.30 358.27L154.50 358.24L154.70 358.21L154.90 358.20L155.10 358.20L155.30 358.22L155.50 358.26L155.70 358.31L155.90 358.38L156.10 358.46L156.30 358.56L156.50 358.66L156.70 358.78L156.90 358.91L157.10 359.05L157.30 359.20L157.50 359.36L157.70 359.52L157.90 359.69L158.10 359.86L158.30 360.03L158.50 360.21L158.70 360.39L158.90 360.56L159.10 360.74L159.30 360.92L159.50 361.09L159.70 361.26L159.90 361.42L160.10 361.58L160.30 361.76L160.50 361.95L160.70 362.15L160.90 362.37L161.10 362.60L161.30 362.84L161.50 363.09L161.70 363.34L161.90 363.60L162.10 363.87L162.30 364.14L162.50 364.41L162.70 364.68L162.90 364.94L163.10 365.21L163.30 365.47L163.50 365.72L163.70 365.96L163.90 366.20L164.10 366.43L164.30 366.64L164.50 366.84L164.70 367.03L164.90 367.20L165.10 367.35L165.30 367.48L165.50 367.59L165.70 367.68L165.90 367.75L166.10 367.79L166.30 367.80L166.50 367.75L166.70 367.61L166.90 367.38L167.10 367.07L167.30 366.70L167.50 366.26L167.70 365.77L167.90 365.24L168.10 364.67L168.30 364.07L168.50 363.45L168.70 362.82L168.90 362.19L169.10 361.56L169.30 360.94L169.50 360.35L169.70 359.78L169.90 359.25L170.10 358.76L170.30 358.26L170.50 357.76L170.70 357.25L170.90 356.74L171.10 356.22L171.30 355.70L171.50 355.17L171.70 354.64L171.90 354.11L172.10 353.58L172.30 353.04L172.50 352.51L172.70 351.97L172.90 351.44L173.10 350.91L173.30 350.38L173.50 349.85L173.70 349.33L173.90 348.81L174.10 348.30L174.30 347.79L174.50 347.29L174.70 346.80L174.90 346.31L175.10 345.84L175.30 345.37L175.50 344.91L175.70 344.47L175.90 344.03L176.10 343.61L176.30 343.20L176.50 342.80L176.70 342.41L176.90 342.01L177.10 341.61L177.30 341.22L177.50 340.83L177.70 340.44L177.90 340.06L178.10 339.68L178.30 339.32L178.50 338.98L178.70 338.64L178.90 338.33L179.10 338.03L179.30 337.76L179.50 337.51L179.70 337.28L179.90 337.09L180.10 336.92L180.30 336.75L180.50 336.58L180.70 336.42L180.90 336.26L181.10 336.10L181.30 335.95L181.50 335.80L181.70 335.66L181.90 335.52L182.10 335.39L182.30 335.26L182.50 335.14L182.70 335.02L182.90 334.92L183.10 334.82L183.30 334.73L183.50 334.65L183.70 334.58L183.90 334.52L184.10 334.48L184.30 334.44L184.50 334.41L184.70 334.40L184.90 334.40L185.10 334.42L185.30 334.45L185.50 334.50L185.70 334.56L185.90 334.64L186.10 334.73L186.30 334.82L186.50 334.93L186.70 335.05L186.90 335.18L187.10 335.32L187.30 335.46L187.50 335.61L187.70 335.76L187.90 335.92L188.10 336.09L188.30 336.29L188.50 336.54L188.70 336.83L188.90 337.16L189.10 337.52L189.30 337.91L189.50 338.33L189.70 338.77L189.90 339.23L190.10 339.71L190.30 340.21L190.50 340.71L190.70 341.22L190.90 341.74L191.10 342.27L191.30 342.83L191.50 343.43L191.70 344.08L191.90 344.76L192.10 345.47L192.30 346.21L192.50 346.98L192.70 347.77L192.90 348.59L193.10 349.41L193.30 350.22L193.50 351.02L193.70 351.82L193.90 352.65L194.10 353.52L194.30 354.44L194.50 355.43L194.70 356.51L194.90 357.69L195.10 358.99L195.30 360.42L195.50 362.00L195.70 363.93L195.90 366.37L196.10 369.28L196.30 372.63L196.50 376.37L196.70 380.47L196.90 384.90L197.10 389.60L197.30 394.55L197.50 399.71L197.70 405.04L197.90 410.50L197.90 411.00L197.91 411.00L197.93 410.96L197.97 410.77L198.03 410.28L198.10 409.31L198.19 407.71L198.29 405.45L198.41 402.60L198.55 399.34L198.70 395.84L198.86 392.26L199.04 388.71L199.24 385.26L199.45 381.95L199.67 378.79L199.91 375.81L200.15 372.99L200.42 370.33L200.69 367.83L200.98 365.49L201.27 363.29L201.58 361.24L201.90 359.31L202.23 357.52L202.57 355.86L202.91 354.32L203.27 352.89L203.63 351.58L204.00 350.38L204.38 349.30L204.77 348.32L205.16 347.45L205.55 346.68L205.95 346.02L206.35 345.46L206.76 345.01L207.17 344.65L207.58 344.40L207.99 344.25L208.40 344.20L208.81 344.25L209.22 344.40L209.63 344.65L210.04 345.01L210.45 345.46L210.85 346.02L211.25 346.68L211.64 347.45L212.03 348.32L212.42 349.30L212.80 350.39L213.17 351.58L213.53 352.89L213.89 354.32L214.23 355.86L214.57 357.53L214.90 359.32L215.22 361.25L215.53 363.31L215.82 365.51L216.11 367.86L216.38 370.36L216.65 373.03L216.89 375.86L217.13 378.86L217.35 382.03L217.56 385.37L217.76 388.86L217.94 392.47L218.10 396.12L218.25 399.71L218.39 403.09L218.51 406.07L218.61 408.46L218.70 410.17L218.77 411.22L218.83 411.74L218.87 411.95L218.89 412.00L218.90 412.00L218.90 411.98L218.91 411.88L218.93 411.61L218.95 411.04L218.98 410.02L219.02 408.42L219.06 406.22L219.11 403.49L219.16 400.38L219.22 397.05L219.29 393.63L219.36 390.23L219.44 386.92L219.53 383.73L219.62 380.69L219.71 377.81L219.81 375.09L219.92 372.54L220.03 370.14L220.14 367.90L220.26 365.81L220.38 363.86L220.51 362.06L220.64 360.39L220.78 358.85L220.91 357.44L221.05 356.16L221.20 355.01L221.34 353.97L221.49 353.06L221.64 352.27L221.79 351.59L221.95 351.03L222.10 350.58L222.26 350.25L222.41 350.02L222.57 349.91L222.73 349.91L222.89 350.02L223.04 350.24L223.20 350.56L223.35 350.99L223.51 351.52L223.66 352.15L223.81 352.87L223.96 353.69L224.10 354.60L224.25 355.58L224.39 356.64L224.53 357.76L224.66 358.93L224.79 360.14L224.92 361.36L225.04 362.59L225.16 363.80L225.27 364.96L225.38 366.05L225.49 367.05L225.59 367.94L225.68 368.69L225.77 369.32L225.86 369.80L225.94 370.15L226.01 370.37L226.08 370.50L226.14 370.53L226.19 370.51L226.24 370.44L226.28 370.34L226.32 370.23L226.35 370.12L226.37 370.03L226.39 369.96L226.40 369.92L226.40 369.90L226.41 369.90L226.42 369.91L226.45 369.93L226.49 369.93L226.54 369.92L226.60 369.87L226.67 369.77L226.75 369.61L226.84 369.37L226.94 369.03L227.05 368.60L227.16 368.07L227.28 367.46L227.41 366.79L227.55 366.08L227.69 365.37L227.84 364.68L227.99 364.05L228.14 363.51L228.30 363.08L228.46 362.78L228.62 362.62L228.78 362.62L228.94 362.78L229.10 363.10L229.26 363.58L229.41 364.21L229.56 364.96L229.71 365.82L229.85 366.77L229.99 367.75L230.12 368.75L230.24 369.73L230.35 370.64L230.46 371.45L230.56 372.15L230.65 372.72L230.73 373.16L230.80 373.48L230.86 373.70L230.91 373.84L230.95 373.93L230.98 373.97L230.99 373.99L231.00 374.00L231.01 374.03L231.02 374.12L231.05 374.24L231.08 374.39L231.12 374.52L231.18 374.60L231.24 374.55L231.32 374.34L231.40 373.90L231.49 373.20L231.59 372.22L231.69 370.98L231.80 369.54L231.92 367.95L232.05 366.28L232.18 364.61L232.32 362.99L232.46 361.47L232.61 360.09L232.76 358.89L232.92 357.87L233.07 357.06L233.23 356.48L233.39 356.12L233.55 356.00L233.71 356.12L233.87 356.49L234.03 357.11L234.18 357.98L234.34 359.11L234.49 360.51L234.64 362.17L234.78 364.11L234.92 366.33L235.05 368.83L235.18 371.64L235.30 374.75L235.41 378.18L235.51 381.92L235.61 385.96L235.70 390.26L235.78 394.73L235.86 399.19L235.92 403.37L235.98 406.90L236.02 409.46L236.05 410.99L236.08 411.71L236.09 411.95L236.10 412.00L236.11 411.95L236.12 411.59L236.15 410.43L236.18 407.92L236.23 403.95L236.29 398.97L236.35 393.59L236.43 388.25L236.51 383.19L236.61 378.50L236.71 374.23L236.82 370.37L236.93 366.89L237.06 363.79L237.19 361.04L237.32 358.63L237.46 356.55L237.61 354.78L237.75 353.32L237.91 352.16L238.06 351.29L238.21 350.72L238.37 350.44L238.53 350.44L238.69 350.72L238.84 351.28L238.99 352.12L239.15 353.24L239.29 354.62L239.44 356.27L239.58 358.16L239.71 360.29L239.84 362.63L239.97 365.12L240.08 367.72L240.19 370.33L240.29 372.84L240.39 375.12L240.47 377.03L240.55 378.47L240.61 379.44L240.67 379.97L240.72 380.18L240.75 380.19L240.78 380.11L240.79 380.03L240.80 380.00L240.80 380.01L240.82 380.04L240.84 380.04L240.88 379.95L240.92 379.68L240.98 379.15L241.04 378.28L241.11 377.02L241.19 375.37L241.28 373.38L241.37 371.15L241.48 368.78L241.59 366.37L241.71 363.99L241.83 361.70L241.96 359.54L242.10 357.56L242.24 355.77L242.39 354.18L242.54 352.81L242.69 351.66L242.84 350.73L243.00 350.03L243.16 349.56L243.32 349.33L243.48 349.33L243.64 349.57L243.80 350.04L243.96 350.75L244.11 351.71L244.26 352.90L244.41 354.34L244.56 356.03L244.70 357.97L244.84 360.17L244.97 362.61L245.09 365.30L245.21 368.24L245.32 371.39L245.43 374.74L245.52 378.22L245.61 381.73L245.69 385.12L245.76 388.20L245.82 390.77L245.88 392.68L245.92 393.92L245.96 394.59L245.98 394.89L246.00 394.98L246.00 395.00L246.00 395.00L246.02 395.00L246.04 394.94L246.06 394.76L246.10 394.37L246.14 393.67L246.19 392.58L246.25 391.06L246.31 389.13L246.38 386.86L246.46 384.35L246.55 381.70L246.64 379.00L246.74 376.31L246.84 373.69L246.95 371.18L247.07 368.80L247.19 366.56L247.31 364.48L247.44 362.55L247.57 360.79L247.71 359.19L247.85 357.75L248.00 356.47L248.15 355.36L248.30 354.40L248.45 353.61L248.60 352.97L248.76 352.50L248.91 352.18L249.07 352.02L249.23 352.02L249.39 352.18L249.54 352.50L249.70 352.97L249.85 353.61L250.00 354.41L250.15 355.38L250.30 356.51L250.45 357.80L250.59 359.26L250.72 360.90L250.86 362.71L250.99 364.69L251.11 366.86L251.23 369.20L251.35 371.73L251.46 374.43L251.56 377.30L251.66 380.32L251.75 383.46L251.84 386.66L251.92 389.86L251.99 392.93L252.05 395.73L252.11 398.12L252.16 399.98L252.20 401.28L252.24 402.07L252.26 402.48L252.28 402.65L252.30 402.69L252.30 402.70L252.31 402.66L252.32 402.33L252.36 401.10L252.40 398.38L252.45 394.12L252.52 388.86L252.59 383.29L252.68 377.87L252.78 372.82L252.89 368.23L253.00 364.12L253.13 360.47L253.26 357.28L253.40 354.52L253.54 352.19L253.69 350.26L253.84 348.72L254.00 347.58L254.16 346.83L254.32 346.45L254.48 346.45L254.64 346.82L254.80 347.58L254.96 348.71L255.11 350.22L255.26 352.12L255.40 354.40L255.54 357.07L255.67 360.12L255.80 363.55L255.91 367.33L256.02 371.40L256.12 375.62L256.21 379.78L256.28 383.56L256.35 386.56L256.40 388.56L256.44 389.59L256.48 389.96L256.49 390.01L256.50 390.00L256.50 390.02L256.52 390.03L256.54 389.94L256.57 389.58L256.62 388.76L256.67 387.32L256.72 385.20L256.79 382.49L256.87 379.35L256.95 375.99L257.04 372.58L257.14 369.23L257.25 366.03L257.36 363.02L257.48 360.23L257.61 357.67L257.74 355.35L257.87 353.27L258.01 351.43L258.15 349.82L258.30 348.45L258.45 347.31L258.60 346.39L258.76 345.71L258.91 345.26L259.07 345.03L259.23 345.03L259.39 345.26L259.54 345.71L259.70 346.40L259.85 347.32L260.00 348.48L260.15 349.88L260.29 351.52L260.43 353.42L260.56 355.57L260.69 358.00L260.82 360.72L260.94 363.73L261.05 367.06L261.16 370.73L261.26 374.75L261.35 379.15L261.43 383.93L261.51 389.04L261.58 394.40L261.63 399.73L261.68 404.57L261.73 408.34L261.76 410.66L261.78 411.68L261.80 411.97L261.80 412.00L261.81 411.86L261.83 410.34L261.86 405.52L261.91 397.74L261.97 389.14L262.05 381.05L262.13 373.85L262.23 367.57L262.34 362.11L262.46 357.40L262.59 353.36L262.73 349.94L262.87 347.10L263.02 344.81L263.17 343.04L263.33 341.79L263.49 341.05L263.65 340.80L263.81 341.05L263.97 341.79L264.13 343.03L264.28 344.77L264.43 347.02L264.57 349.79L264.71 353.09L264.84 356.92L264.96 361.28L265.07 366.12L265.17 371.32L265.25 376.58L265.33 381.39L265.39 385.05L265.44 387.15L265.47 387.92L265.49 388.03L265.50 388.00L265.51 388.01L265.53 387.91L265.57 387.36L265.62 385.92L265.69 383.22L265.77 379.29L265.86 374.50L265.97 369.39L266.09 364.37L266.21 359.73L266.35 355.63L266.49 352.15L266.64 349.34L266.80 347.22L266.96 345.80L267.12 345.09L267.28 345.09L267.44 345.80L267.60 347.24L267.76 349.39L267.91 352.26L268.05 355.84L268.19 360.13L268.31 365.08L268.43 370.58L268.54 376.43L268.63 382.25L268.71 387.43L268.78 391.35L268.83 393.68L268.87 394.69L268.89 394.97L268.90 395.00L268.91 394.84L268.94 393.98L269.00 391.49L269.08 386.57L269.17 379.48L269.28 371.39L269.41 363.60L269.55 357.02L269.69 352.13L269.85 349.17L270.00 348.19L270.16 349.13L270.32 351.80L270.46 355.85L270.60 360.69L270.73 365.53L270.84 369.52L270.93 372.09L271.01 373.25L271.06 373.50L271.10 373.38L271.11 373.30L271.12 373.37L271.16 373.23L271.23 371.96L271.32 368.49L271.43 362.56L271.56 355.17L271.70 347.99L271.85 342.44L272.01 339.44L272.18 339.45L272.34 342.61L272.49 348.77L272.63 357.42L272.76 367.43L272.87 376.93L272.96 383.86L273.03 387.38L273.07 388.50L273.08 388.67L273.09 388.60L273.13 387.82L273.19 384.82L273.28 378.37L273.38 368.95L273.50 358.51L273.64 348.98L273.78 341.59L273.94 336.98L274.10 335.42L274.26 336.98L274.41 341.56L274.56 348.85L274.70 358.19L274.82 368.28L274.92 377.21L275.01 383.18L275.07 385.86L275.10 386.51L275.12 386.54L275.12 386.60L275.15 386.68L275.19 386.52L275.24 385.72L275.31 383.81L275.40 380.48L275.49 375.73L275.60 369.89L275.72 363.54L275.85 357.22L275.99 351.43L276.13 346.47L276.29 342.59L276.44 339.93L276.60 338.57L276.76 338.57L276.91 339.96L277.07 342.76L277.22 346.96L277.36 352.52L277.50 359.37L277.63 367.38L277.75 376.25L277.86 385.53L277.96 394.49L278.04 402.19L278.11 407.83L278.17 411.20L278.20 412.74L278.23 413.25L278.24 413.34L278.24 413.29L278.27 412.92L278.31 411.58L278.36 408.46L278.43 403.02L278.52 395.43L278.62 386.49L278.72 377.15L278.85 368.17L278.98 360.06L279.12 353.09L279.26 347.42L279.41 343.13L279.57 340.26L279.73 338.82L279.89 338.82L280.04 340.25L280.20 343.08L280.35 347.26L280.50 352.73L280.64 359.34L280.77 366.86L280.89 374.91L281.00 382.91L281.10 390.10L281.18 395.75L281.25 399.45L281.31 401.36L281.35 402.04L281.37 402.15L281.38 402.14L281.38 402.16L281.41 402.12L281.44 401.79L281.50 400.77L281.56 398.66L281.64 395.16L281.73 390.30L281.84 384.38L281.95 377.91L282.07 371.41L282.21 365.28L282.35 359.86L282.49 355.33L282.65 351.84L282.80 349.47L282.96 348.27L283.12 348.27L283.27 349.49L283.43 351.90L283.58 355.51L283.73 360.25L283.87 366.04L284.00 372.74L284.13 380.12L284.24 387.80L284.34 395.24L284.43 401.83L284.51 406.97L284.58 410.40L284.63 412.29L284.67 413.10L284.69 413.33L284.70 413.37L284.71 413.33L284.73 413.09L284.77 412.28L284.82 410.39L284.88 406.95L284.96 401.80L285.05 395.22L285.16 387.78L285.27 380.10L285.39 372.73L285.52 366.03L285.66 360.24L285.81 355.51L285.96 351.91L286.12 349.49L286.27 348.28L286.43 348.28L286.59 349.48L286.74 351.84L286.89 355.33L287.04 359.84L287.18 365.24L287.31 371.33L287.43 377.80L287.55 384.21L287.65 390.07L287.74 394.87L287.82 398.30L287.89 400.38L287.94 401.37L287.97 401.69L288.00 401.72L288.00 401.70L288.02 401.72L288.06 401.12L288.12 398.24L288.21 391.70L288.32 382.09L288.45 371.61L288.60 362.40L288.75 355.73L288.92 352.25L289.08 352.26L289.24 355.80L289.40 362.77L289.54 372.76L289.67 384.77L289.78 396.82L289.87 406.11L289.94 410.94L289.98 412.35L289.99 412.51L290.01 412.42L290.04 411.63L290.10 408.81L290.18 402.78L290.28 393.83L290.40 383.61L290.53 373.92L290.67 365.98L290.82 360.45L290.98 357.63L291.14 357.63L291.30 360.41L291.45 365.77L291.60 373.30L291.73 382.18L291.85 391.09L291.95 398.36L292.03 402.83L292.08 404.68L292.12 405.07L292.13 405.06L292.14 405.04L292.17 404.89L292.21 404.35L292.28 403.03L292.35 400.59L292.45 396.88L292.56 392.10L292.68 386.71L292.81 381.31L292.95 376.43L293.10 372.46L293.26 369.69L293.41 368.27L293.57 368.27L293.73 369.68L293.88 372.40L294.03 376.24L294.17 380.92L294.30 385.99L294.43 390.93L294.53 395.19L294.63 398.38L294.71 400.40L294.77 401.42L294.82 401.80L294.84 401.87L294.85 401.86L294.86 401.68L294.90 400.82L294.96 398.53L295.05 394.15L295.15 387.80L295.27 380.52L295.41 373.62L295.55 368.15L295.71 364.74L295.87 363.61L296.02 364.65L296.18 367.46L296.32 371.32L296.46 375.29L296.58 378.51L296.68 380.49L296.77 381.31L296.83 381.41L296.87 381.25L296.88 381.17L296.89 381.16L296.92 381.12L296.97 380.94L297.04 380.49L297.13 379.61L297.24 378.23L297.36 376.42L297.49 374.35L297.64 372.33L297.79 370.64L297.94 369.52L298.11 369.13L298.27 369.52L298.42 370.64L298.57 372.34L298.72 374.38L298.85 376.46L298.97 378.30L299.08 379.69L299.17 380.59L299.24 381.06L299.29 381.25L299.32 381.29L299.33 381.30L299.35 381.30L299.38 381.23L299.45 380.85L299.53 379.91L299.64 378.29L299.77 376.18L299.90 374.03L300.05 372.30L300.21 371.34L300.37 371.35L300.52 372.32L300.67 374.14L300.81 376.49L300.93 378.89L301.04 380.85L301.13 382.08L301.19 382.63L301.23 382.78L301.24 382.80L301.26 382.73L301.33 381.96L301.42 379.57L301.55 375.91L301.70 372.76L301.86 371.55L302.02 372.73L302.17 375.70L302.29 378.93L302.39 380.86L302.45 381.38L302.47 381.40L302.49 381.40L302.56 381.10L302.66 379.87L302.79 377.65L302.94 375.44L303.11 374.52L303.27 375.47L303.43 377.90L303.56 380.57L303.66 382.23L303.72 382.75L303.74 382.81L303.76 382.77L303.82 382.46L303.91 381.47L304.03 379.62L304.17 377.36L304.32 375.57L304.49 374.90L304.66 375.54L304.81 377.15L304.96 378.99L305.07 380.33L305.16 380.93L305.22 381.04L305.24 381.03L305.26 381.04L305.32 380.87L305.42 380.21L305.55 379.19L305.69 378.65L305.83 379.24L305.96 380.52L306.06 381.51L306.12 381.87L306.15 381.92L306.17 381.89L306.22 381.60L306.31 380.63L306.44 378.84L306.58 376.82L306.73 375.52L306.89 375.52L307.05 376.77L307.19 378.60L307.31 380.13L307.40 380.89L307.46 381.06L307.48 381.07L307.50 381.07L307.55 381.02L307.64 380.79L307.75 380.25L307.88 379.47L308.03 378.74L308.19 378.43L308.35 378.75L308.50 379.55L308.64 380.47L308.75 381.16L308.83 381.50L308.89 381.60L308.90 381.62L308.93 381.57L309.00 381.04L309.11 379.43L309.24 377.32L309.39 376.36L309.54 377.31L309.68 379.34L309.79 380.85L309.85 381.32L309.88 381.35L309.90 381.34L309.95 381.20L310.03 380.63L310.13 379.75L310.24 379.29L310.36 379.78L310.46 380.83L310.54 381.62L310.59 381.90L310.61 381.93L310.63 381.90L310.69 381.58L310.77 380.65L310.88 379.42L311.01 378.84L311.13 379.39L311.24 380.47L311.33 381.19L311.39 381.39L311.41 381.39L311.42 381.40L311.48 381.19L311.56 380.31L311.66 378.95L311.78 378.25L311.89 379.03L311.99 380.77L312.07 382.19L312.13 382.72L312.14 382.79L312.16 382.72L312.21 382.13L312.29 380.54L312.39 378.60L312.49 377.73L312.60 378.52L312.70 380.08L312.78 381.12L312.83 381.39L312.84 381.38L312.86 381.32L312.91 380.42L313.00 377.73L313.10 374.47L313.21 373.03L313.33 374.47L313.43 377.79L313.51 380.56L313.56 381.51L313.58 381.59L313.61 381.56L313.68 380.89L313.79 378.62L313.93 375.26L314.09 372.85L314.25 372.85L314.42 375.36L314.56 379.04L314.67 381.72L314.74 382.62L314.76 382.71L314.78 382.61L314.84 381.68L314.92 379.09L315.03 376.02L315.16 374.70L315.28 375.97L315.39 378.74L315.48 380.85L315.53 381.49L315.55 381.52L315.58 381.51L315.64 381.46L315.74 381.26L315.88 380.84L316.04 380.37L316.20 380.16L316.37 380.38L316.53 380.88L316.66 381.35L316.77 381.60L316.83 381.67L316.85 381.68L316.88 381.68L316.94 381.42L317.04 380.48L317.17 379.09L317.31 378.39L317.45 379.13L317.57 380.75L317.67 382.01L317.74 382.44L317.76 382.49L317.77 382.44L317.82 381.95L317.89 380.52L317.97 378.68L318.07 377.84L318.17 378.64L318.26 380.30L318.33 381.46L318.37 381.80L318.39 381.81L318.40 381.81L318.46 381.73L318.54 381.35L318.65 380.73L318.76 380.39L318.88 380.77L318.98 381.59L319.06 382.22L319.12 382.45L319.14 382.48L319.16 382.46L319.22 382.24L319.33 381.51L319.46 380.48L319.60 379.98L319.74 380.48L319.87 381.47L319.98 382.17L320.04 382.37L320.07 382.38L320.09 382.33L320.17 382.09L320.29 381.58L320.44 381.01L320.60 380.78L320.77 380.95L320.92 381.20L321.04 381.31L321.12 381.31L321.14 381.30" stroke="#ee4a83"/>
<path d="M45.50 380.10L45.70 380.15L45.90 380.21L46.10 380.26L46.30 380.31L46.50 380.36L46.70 380.41L46.90 380.46L47.10 380.50L47.30 380.54L47.50 380.59L47.70 380.62L47.90 380.66L48.10 380.69L48.30 380.72L48.50 380.75L48.70 380.77L48.90 380.79L49.10 380.81L49.30 380.82L49.50 380.84L49.70 380.85L49.90 380.87L50.10 380.88L50.30 380.89L50.50 380.91L50.70 380.92L50.90 380.93L51.10 380.94L51.30 380.95L51.50 380.96L51.70 380.97L51.90 380.97L52.10 380.98L52.30 380.99L52.50 380.99L52.70 380.99L52.90 381.00L53.10 381.00L53.30 381.00L53.50 381.00L53.70 380.99L53.90 380.97L54.10 380.95L54.30 380.92L54.50 380.89L54.70 380.86L54.90 380.82L55.10 380.77L55.30 380.73L55.50 380.68L55.70 380.63L55.90 380.58L56.10 380.53L56.30 380.48L56.50 380.43L56.70 380.37L56.90 380.32L57.10 380.28L57.30 380.22L57.50 380.17L57.70 380.11L57.90 380.06L58.10 379.99L58.30 379.93L58.50 379.87L58.70 379.80L58.90 379.73L59.10 379.66L59.30 379.59L59.50 379.51L59.70 379.44L59.90 379.36L60.10 379.28L60.30 379.20L60.50 379.12L60.70 379.04L60.90 378.96L61.10 378.87L61.30 378.77L61.50 378.67L61.70 378.57L61.90 378.46L62.10 378.34L62.30 378.23L62.50 378.11L62.70 377.99L62.90 377.87L63.10 377.75L63.30 377.64L63.50 377.52L63.70 377.41L63.90 377.30L64.10 377.20L64.30 377.10L64.50 377.00L64.70 376.92L64.90 376.84L65.10 376.76L65.30 376.69L65.50 376.62L65.70 376.54L65.90 376.47L66.10 376.39L66.30 376.32L66.50 376.24L66.70 376.17L66.90 376.10L67.10 376.03L67.30 375.96L67.50 375.90L67.70 375.84L67.90 375.78L68.10 375.72L68.30 375.67L68.50 375.62L68.70 375.57L68.90 375.53L69.10 375.50L69.30 375.46L69.50 375.44L69.70 375.42L69.90 375.41L70.10 375.40L70.30 375.40L70.50 375.41L70.70 375.43L70.90 375.45L71.10 375.49L71.30 375.53L71.50 375.57L71.70 375.63L71.90 375.69L72.10 375.75L72.30 375.82L72.50 375.90L72.70 375.98L72.90 376.06L73.10 376.15L73.30 376.23L73.50 376.33L73.70 376.42L73.90 376.51L74.10 376.61L74.30 376.70L74.50 376.80L74.70 376.90L74.90 377.01L75.10 377.14L75.30 377.27L75.50 377.41L75.70 377.56L75.90 377.72L76.10 377.89L76.30 378.07L76.50 378.25L76.70 378.44L76.90 378.64L77.10 378.84L77.30 379.05L77.50 379.26L77.70 379.48L77.90 379.70L78.10 379.92L78.30 380.15L78.50 380.38L78.70 380.62L78.90 380.88L79.10 381.15L79.30 381.45L79.50 381.75L79.70 382.08L79.90 382.41L80.10 382.75L80.30 383.10L80.50 383.45L80.70 383.81L80.90 384.16L81.10 384.51L81.30 384.86L81.50 385.20L81.70 385.53L81.90 385.85L82.10 386.15L82.30 386.48L82.50 386.83L82.70 387.19L82.90 387.56L83.10 387.93L83.30 388.31L83.50 388.69L83.70 389.07L83.90 389.43L84.10 389.78L84.30 390.12L84.50 390.43L84.70 390.72L84.90 390.98L85.10 391.20L85.30 391.39L85.50 391.54L85.70 391.64L85.90 391.69L86.10 391.70L86.30 391.66L86.50 391.59L86.70 391.48L86.90 391.35L87.10 391.18L87.30 391.00L87.50 390.79L87.70 390.56L87.90 390.31L88.10 390.05L88.30 389.78L88.50 389.49L88.70 389.20L88.90 388.90L89.10 388.60L89.30 388.30L89.50 388.00L89.70 387.68L89.90 387.32L90.10 386.92L90.30 386.48L90.50 386.02L90.70 385.53L90.90 385.02L91.10 384.50L91.30 383.96L91.50 383.42L91.70 382.87L91.90 382.33L92.10 381.79L92.30 381.26L92.50 380.75L92.70 380.25L92.90 379.75L93.10 379.24L93.30 378.72L93.50 378.20L93.70 377.67L93.90 377.14L94.10 376.60L94.30 376.06L94.50 375.52L94.70 374.98L94.90 374.44L95.10 373.90L95.30 373.36L95.50 372.82L95.70 372.29L95.90 371.77L96.10 371.25L96.30 370.73L96.50 370.23L96.70 369.73L96.90 369.25L97.10 368.77L97.30 368.31L97.50 367.86L97.70 367.42L97.90 367.00L98.10 366.60L98.30 366.20L98.50 365.81L98.70 365.41L98.90 365.01L99.10 364.62L99.30 364.23L99.50 363.84L99.70 363.47L99.90 363.11L100.10 362.76L100.30 362.44L100.50 362.13L100.70 361.85L100.90 361.59L101.10 361.36L101.30 361.16L101.50 361.00L101.70 360.86L101.90 360.71L102.10 360.57L102.30 360.44L102.50 360.31L102.70 360.18L102.90 360.07L103.10 359.96L103.30 359.86L103.50 359.77L103.70 359.69L103.90 359.63L104.10 359.57L104.30 359.53L104.50 359.51L104.70 359.50L104.90 359.51L105.10 359.53L105.30 359.56L105.50 359.61L105.70 359.66L105.90 359.73L106.10 359.80L106.30 359.89L106.50 359.98L106.70 360.07L106.90 360.18L107.10 360.28L107.30 360.39L107.50 360.51L107.70 360.62L107.90 360.74L108.10 360.86L108.30 361.01L108.50 361.17L108.70 361.36L108.90 361.57L109.10 361.79L109.30 362.03L109.50 362.28L109.70 362.54L109.90 362.80L110.10 363.07L110.30 363.33L110.50 363.60L110.70 363.86L110.90 364.12L111.10 364.37L111.30 364.60L111.50 364.84L111.70 365.09L111.90 365.36L112.10 365.64L112.30 365.92L112.50 366.22L112.70 366.52L112.90 366.82L113.10 367.12L113.30 367.41L113.50 367.71L113.70 367.99L113.90 368.26L114.10 368.52L114.30 368.77L114.50 369.00L114.70 369.20L114.90 369.39L115.10 369.55L115.30 369.68L115.50 369.79L115.70 369.86L115.90 369.90L116.10 369.89L116.30 369.83L116.50 369.72L116.70 369.56L116.90 369.35L117.10 369.10L117.30 368.82L117.50 368.50L117.70 368.16L117.90 367.80L118.10 367.42L118.30 367.02L118.50 366.62L118.70 366.21L118.90 365.80L119.10 365.40L119.30 364.98L119.50 364.51L119.70 364.00L119.90 363.44L120.10 362.86L120.30 362.23L120.50 361.58L120.70 360.90L120.90 360.20L121.10 359.47L121.30 358.73L121.50 357.97L121.70 357.21L121.90 356.43L122.10 355.65L122.30 354.87L122.50 354.10L122.70 353.32L122.90 352.56L123.10 351.81L123.30 351.07L123.50 350.35L123.70 349.65L123.90 348.93L124.10 348.20L124.30 347.45L124.50 346.69L124.70 345.92L124.90 345.15L125.10 344.38L125.30 343.61L125.50 342.84L125.70 342.08L125.90 341.33L126.10 340.59L126.30 339.87L126.50 339.17L126.70 338.49L126.90 337.84L127.10 337.22L127.30 336.62L127.50 336.07L127.70 335.54L127.90 335.03L128.10 334.52L128.30 334.02L128.50 333.53L128.70 333.05L128.90 332.58L129.10 332.11L129.30 331.65L129.50 331.19L129.70 330.75L129.90 330.31L130.10 329.88L130.30 329.46L130.50 329.05L130.70 328.64L130.90 328.24L131.10 327.85L131.30 327.47L131.50 327.10L131.70 326.73L131.90 326.37L132.10 326.02L132.30 325.68L132.50 325.35L132.70 325.02L132.90 324.70L133.10 324.39L133.30 324.09L133.50 323.80L133.70 323.51L133.90 323.24L134.10 322.97L134.30 322.71L134.50 322.45L134.70 322.21L134.90 321.97L135.10 321.74L135.30 321.51L135.50 321.29L135.70 321.07L135.90 320.86L136.10 320.66L136.30 320.46L136.50 320.26L136.70 320.06L136.90 319.87L137.10 319.68L137.30 319.50L137.50 319.31L137.70 319.13L137.90 318.95L138.10 318.76L138.30 318.58L138.50 318.40L138.70 318.22L138.90 318.04L139.10 317.85L139.30 317.67L139.50 317.48L139.70 317.29L139.90 317.10L140.10 316.90L140.30 316.70L140.50 316.50L140.70 316.30L140.90 316.11L141.10 315.91L141.30 315.72L141.50 315.53L141.70 315.34L141.90 315.15L142.10 314.97L142.30 314.78L142.50 314.59L142.70 314.41L142.90 314.22L143.10 314.03L143.30 313.84L143.50 313.65L143.70 313.46L143.90 313.27L144.10 313.08L144.30 312.88L144.50 312.69L144.70 312.49L144.90 312.28L145.10 312.08L145.30 311.87L145.50 311.66L145.70 311.44L145.90 311.22L146.10 311.00L146.30 310.77L146.50 310.54L146.70 310.30L146.90 310.06L147.10 309.81L147.30 309.55L147.50 309.29L147.70 309.02L147.90 308.75L148.10 308.47L148.30 308.19L148.50 307.90L148.70 307.61L148.90 307.31L149.10 307.01L149.30 306.71L149.50 306.40L149.70 306.09L149.90 305.78L150.10 305.47L150.30 305.15L150.50 304.84L150.70 304.52L150.90 304.20L151.10 303.88L151.30 303.56L151.50 303.24L151.70 302.92L151.90 302.60L152.10 302.28L152.30 301.96L152.50 301.64L152.70 301.33L152.90 301.01L153.10 300.70L153.30 300.39L153.50 300.07L153.70 299.76L153.90 299.44L154.10 299.11L154.30 298.79L154.50 298.46L154.70 298.14L154.90 297.81L155.10 297.48L155.30 297.15L155.50 296.82L155.70 296.49L155.90 296.15L156.10 295.82L156.30 295.49L156.50 295.16L156.70 294.83L156.90 294.50L157.10 294.17L157.30 293.85L157.50 293.52L157.70 293.20L157.90 292.88L158.10 292.56L158.30 292.24L158.50 291.92L158.70 291.61L158.90 291.30L159.10 291.00L159.30 290.70L159.50 290.40L159.70 290.10L159.90 289.81L160.10 289.52L160.30 289.23L160.50 288.94L160.70 288.65L160.90 288.37L161.10 288.08L161.30 287.80L161.50 287.52L161.70 287.24L161.90 286.96L162.10 286.68L162.30 286.40L162.50 286.13L162.70 285.85L162.90 285.58L163.10 285.31L163.30 285.04L163.50 284.77L163.70 284.51L163.90 284.24L164.10 283.98L164.30 283.71L164.50 283.45L164.70 283.19L164.90 282.93L165.10 282.67L165.30 282.41L165.50 282.16L165.70 281.90L165.90 281.65L166.10 281.39L166.30 281.15L166.50 280.90L166.70 280.65L166.90 280.41L167.10 280.17L167.30 279.93L167.50 279.69L167.70 279.45L167.90 279.21L168.10 278.98L168.30 278.74L168.50 278.51L168.70 278.27L168.90 278.04L169.10 277.81L169.30 277.57L169.50 277.34L169.70 277.11L169.90 276.87L170.10 276.64L170.30 276.40L170.50 276.17L170.70 275.93L170.90 275.70L171.10 275.46L171.30 275.22L171.50 274.98L171.70 274.74L171.90 274.49L172.10 274.25L172.30 274.00L172.50 273.76L172.70 273.51L172.90 273.26L173.10 273.01L173.30 272.76L173.50 272.51L173.70 272.26L173.90 272.01L174.10 271.76L174.30 271.51L174.50 271.26L174.70 271.02L174.90 270.77L175.10 270.53L175.30 270.29L175.50 270.04L175.70 269.81L175.90 269.57L176.10 269.33L176.30 269.10L176.50 268.87L176.70 268.64L176.90 268.42L177.10 268.20L177.30 267.98L177.50 267.76L177.70 267.55L177.90 267.33L178.10 267.11L178.30 266.90L178.50 266.69L178.70 266.47L178.90 266.26L179.10 266.05L179.30 265.85L179.50 265.64L179.70 265.43L179.90 265.23L180.10 265.03L180.30 264.83L180.50 264.63L180.70 264.43L180.90 264.24L181.10 264.05L181.30 263.86L181.50 263.67L181.70 263.48L181.90 263.30L182.10 263.12L182.30 262.94L182.50 262.76L182.70 262.59L182.90 262.41L183.10 262.24L183.30 262.06L183.50 261.88L183.70 261.70L183.90 261.52L184.10 261.33L184.30 261.15L184.50 260.97L184.70 260.80L184.90 260.62L185.10 260.45L185.30 260.29L185.50 260.13L185.70 259.98L185.90 259.83L186.10 259.70L186.30 259.57L186.50 259.45L186.70 259.35L186.90 259.25L187.10 259.17L187.30 259.10L187.50 259.04L187.70 258.98L187.90 258.92L188.10 258.86L188.30 258.80L188.50 258.75L188.70 258.70L188.90 258.65L189.10 258.61L189.30 258.58L189.50 258.55L189.70 258.53L189.90 258.51L190.10 258.50L190.30 258.50L190.50 258.51L190.70 258.54L190.90 258.58L191.10 258.63L191.30 258.68L191.50 258.75L191.70 258.83L191.90 258.92L192.10 259.01L192.30 259.11L192.50 259.22L192.70 259.33L192.90 259.45L193.10 259.57L193.30 259.70L193.50 259.83L193.70 259.96L193.90 260.10L194.10 260.23L194.30 260.37L194.50 260.52L194.70 260.70L194.90 260.88L195.10 261.09L195.30 261.31L195.50 261.55L195.70 261.80L195.90 262.06L196.10 262.34L196.30 262.63L196.50 262.93L196.70 263.25L196.90 263.58L197.10 263.91L197.30 264.26L197.50 264.62L197.70 264.99L197.90 265.39L198.10 265.82L198.30 266.29L198.50 266.79L198.70 267.32L198.90 267.87L199.10 268.46L199.30 269.06L199.50 269.70L199.70 270.35L199.90 271.03L200.10 271.72L200.30 272.44L200.50 273.17L200.70 273.96L200.90 274.80L201.10 275.68L201.30 276.62L201.50 277.59L201.70 278.61L201.90 279.66L202.10 280.75L202.30 281.87L202.50 283.02L202.70 284.20L202.90 285.33L203.10 286.39L203.30 287.46L203.50 288.59L203.70 289.87L203.90 291.37L204.10 293.15L204.30 295.28L204.50 298.11L204.70 303.22L204.90 310.55L205.10 319.76L205.30 330.50L205.50 342.43L205.70 355.22L205.90 368.50L205.90 368.50L205.91 368.47L205.93 368.02L205.96 366.19L206.01 362.22L206.07 356.46L206.14 349.90L206.22 343.32L206.32 337.12L206.43 331.39L206.56 326.14L206.69 321.33L206.84 316.92L207.00 312.85L207.17 309.11L207.36 305.64L207.55 302.42L207.76 299.42L207.97 296.63L208.20 294.04L208.43 291.61L208.68 289.35L208.93 287.25L209.19 285.29L209.47 283.46L209.74 281.77L210.03 280.21L210.32 278.76L210.62 277.44L210.93 276.23L211.24 275.13L211.56 274.15L211.88 273.27L212.20 272.50L212.53 271.83L212.86 271.27L213.20 270.81L213.53 270.46L213.87 270.20L214.21 270.05L214.55 270.00L214.89 270.05L215.23 270.20L215.57 270.46L215.90 270.81L216.24 271.27L216.57 271.83L216.90 272.50L217.22 273.27L217.54 274.15L217.86 275.14L218.17 276.23L218.48 277.44L218.78 278.77L219.07 280.21L219.36 281.77L219.63 283.47L219.91 285.29L220.17 287.25L220.42 289.36L220.67 291.62L220.90 294.05L221.13 296.65L221.34 299.45L221.55 302.45L221.74 305.68L221.93 309.16L222.10 312.94L222.26 317.03L222.41 321.49L222.54 326.38L222.67 331.75L222.78 337.69L222.88 344.27L222.96 351.50L223.03 359.22L223.09 366.80L223.14 372.85L223.17 376.06L223.19 376.94L223.20 377.00L223.20 377.01L223.21 377.03L223.23 377.02L223.25 376.89L223.28 376.56L223.31 375.91L223.35 374.86L223.40 373.35L223.45 371.39L223.51 369.06L223.57 366.44L223.64 363.64L223.72 360.77L223.80 357.90L223.88 355.06L223.97 352.32L224.07 349.68L224.17 347.15L224.28 344.75L224.39 342.48L224.50 340.34L224.62 338.33L224.74 336.44L224.87 334.67L225.00 333.02L225.13 331.49L225.27 330.07L225.41 328.77L225.55 327.58L225.70 326.49L225.85 325.52L226.00 324.65L226.15 323.88L226.30 323.22L226.46 322.66L226.62 322.21L226.77 321.85L226.93 321.60L227.09 321.45L227.25 321.40L227.41 321.45L227.57 321.60L227.73 321.86L227.88 322.21L228.04 322.67L228.20 323.23L228.35 323.89L228.50 324.66L228.65 325.54L228.80 326.52L228.95 327.62L229.09 328.82L229.23 330.14L229.37 331.58L229.50 333.14L229.63 334.83L229.76 336.65L229.88 338.60L230.00 340.70L230.11 342.95L230.22 345.37L230.33 347.95L230.43 350.72L230.53 353.70L230.62 356.89L230.70 360.33L230.78 364.02L230.86 368.02L230.93 372.33L230.99 376.99L231.05 382.01L231.10 387.38L231.15 393.01L231.19 398.66L231.22 403.87L231.25 407.99L231.27 410.55L231.29 411.67L231.30 411.97L231.30 412.00L231.30 411.99L231.31 411.96L231.33 411.86L231.36 411.61L231.39 411.11L231.43 410.28L231.47 409.03L231.52 407.34L231.58 405.24L231.65 402.80L231.72 400.13L231.80 397.32L231.88 394.45L231.97 391.59L232.07 388.79L232.17 386.08L232.28 383.48L232.39 380.99L232.51 378.63L232.63 376.39L232.76 374.28L232.90 372.29L233.03 370.43L233.18 368.69L233.32 367.06L233.47 365.55L233.63 364.15L233.78 362.87L233.95 361.69L234.11 360.62L234.28 359.66L234.44 358.80L234.61 358.05L234.79 357.40L234.96 356.85L235.14 356.40L235.32 356.05L235.49 355.80L235.67 355.65L235.85 355.60L236.03 355.65L236.21 355.80L236.38 356.05L236.56 356.39L236.74 356.84L236.91 357.39L237.09 358.04L237.26 358.78L237.42 359.63L237.59 360.59L237.75 361.64L237.92 362.80L238.07 364.06L238.23 365.43L238.38 366.90L238.52 368.47L238.67 370.16L238.80 371.94L238.94 373.83L239.07 375.82L239.19 377.91L239.31 380.07L239.42 382.31L239.53 384.60L239.63 386.92L239.73 389.23L239.82 391.48L239.90 393.62L239.98 395.58L240.05 397.32L240.12 398.78L240.18 399.93L240.23 400.78L240.27 401.36L240.31 401.72L240.34 401.90L240.37 401.98L240.39 402.01L240.40 402.00L240.40 402.00L240.40 401.98L240.42 401.74L240.43 400.81L240.46 398.63L240.50 394.98L240.54 390.21L240.59 384.90L240.64 379.51L240.71 374.31L240.78 369.43L240.86 364.90L240.94 360.71L241.03 356.84L241.13 353.28L241.23 350.00L241.34 346.97L241.45 344.19L241.57 341.63L241.70 339.29L241.83 337.14L241.96 335.19L242.10 333.42L242.24 331.82L242.38 330.40L242.53 329.15L242.68 328.06L242.83 327.13L242.99 326.35L243.14 325.74L243.30 325.28L243.46 324.97L243.62 324.82L243.78 324.82L243.94 324.97L244.10 325.28L244.26 325.74L244.41 326.35L244.57 327.12L244.72 328.05L244.87 329.14L245.02 330.39L245.16 331.81L245.30 333.39L245.44 335.15L245.57 337.09L245.70 339.22L245.83 341.54L245.95 344.06L246.06 346.80L246.17 349.76L246.27 352.95L246.37 356.38L246.46 360.06L246.54 363.97L246.62 368.10L246.69 372.37L246.76 376.65L246.81 380.72L246.86 384.29L246.90 387.05L246.94 388.85L246.97 389.78L246.98 390.13L247.00 390.20L247.00 390.20L247.01 390.20L247.04 389.52L247.10 386.64L247.17 381.03L247.26 374.08L247.37 367.28L247.49 361.37L247.62 356.60L247.76 353.02L247.92 350.64L248.07 349.45L248.23 349.45L248.38 350.65L248.54 353.06L248.68 356.73L248.81 361.71L248.93 368.07L249.04 375.86L249.13 384.89L249.20 394.07L249.26 400.68L249.29 402.98L249.30 403.20L249.30 403.17L249.32 402.82L249.34 401.47L249.38 398.45L249.42 393.76L249.48 388.09L249.54 382.16L249.61 376.42L249.69 371.07L249.78 366.17L249.87 361.71L249.98 357.67L250.09 354.03L250.21 350.76L250.33 347.82L250.46 345.22L250.60 342.92L250.74 340.91L250.88 339.19L251.03 337.75L251.18 336.57L251.33 335.66L251.49 335.02L251.64 334.63L251.80 334.50L251.96 334.63L252.11 335.02L252.27 335.66L252.42 336.57L252.57 337.74L252.72 339.18L252.86 340.89L253.00 342.89L253.14 345.17L253.27 347.76L253.39 350.66L253.51 353.88L253.62 357.45L253.73 361.38L253.82 365.66L253.91 370.29L253.99 375.20L254.06 380.24L254.12 385.10L254.18 389.32L254.22 392.40L254.26 394.14L254.28 394.84L254.30 395.00L254.30 395.00L254.31 394.55L254.36 388.26L254.43 375.51L254.52 363.14L254.64 353.28L254.78 345.92L254.93 340.81L255.09 337.80L255.25 336.80L255.41 337.80L255.57 340.82L255.72 345.97L255.86 353.47L255.98 363.72L256.07 377.46L256.14 395.10L256.19 409.91L256.20 412.00L256.21 411.62L256.24 407.62L256.28 397.90L256.35 386.59L256.43 376.44L256.53 367.94L256.64 360.94L256.76 355.26L256.90 350.75L257.04 347.32L257.19 344.91L257.34 343.48L257.50 343.00L257.66 343.47L257.81 344.90L257.96 347.29L258.10 350.65L258.24 355.03L258.36 360.45L258.47 366.88L258.57 374.13L258.65 381.54L258.72 387.56L258.76 390.69L258.79 391.41L258.80 391.40L258.81 391.08L258.85 386.64L258.91 376.07L258.99 364.41L259.09 354.40L259.21 346.39L259.35 340.22L259.50 335.70L259.66 332.75L259.82 331.28L259.98 331.28L260.14 332.75L260.30 335.72L260.45 340.25L260.59 346.49L260.71 354.64L260.81 365.06L260.89 377.96L260.95 391.70L260.99 399.26L261.00 400.00L261.01 399.82L261.03 397.77L261.07 391.38L261.13 381.64L261.19 371.37L261.28 362.00L261.37 353.85L261.48 346.88L261.60 340.99L261.73 336.09L261.87 332.09L262.01 328.94L262.16 326.61L262.32 325.06L262.47 324.30L262.63 324.30L262.78 325.06L262.94 326.60L263.09 328.91L263.23 332.03L263.37 335.96L263.50 340.75L263.62 346.41L263.73 352.96L263.82 360.29L263.91 368.04L263.97 375.29L264.03 380.60L264.07 383.12L264.09 383.69L264.10 383.70L264.11 383.49L264.15 381.49L264.22 375.02L264.31 364.08L264.42 351.74L264.55 340.62L264.69 331.92L264.85 326.03L265.01 323.08L265.18 323.08L265.34 325.98L265.49 331.67L265.64 339.82L265.77 349.70L265.88 359.68L265.97 367.30L266.03 370.99L266.07 371.82L266.09 371.81L266.10 371.91L266.12 372.09L266.16 371.98L266.22 371.03L266.30 368.62L266.38 364.40L266.49 358.53L266.60 351.58L266.73 344.36L266.86 337.54L267.01 331.63L267.16 326.96L267.31 323.73L267.47 322.08L267.63 322.08L267.78 323.79L267.94 327.22L268.09 332.40L268.23 339.31L268.37 347.92L268.49 358.09L268.61 369.52L268.71 381.61L268.80 393.21L268.87 402.80L268.93 409.10L268.97 412.16L269.00 413.15L269.01 413.33L269.02 413.07L269.04 411.66L269.09 407.45L269.16 399.20L269.24 387.45L269.34 374.12L269.46 361.03L269.58 349.30L269.72 339.47L269.87 331.76L270.02 326.26L270.18 322.99L270.34 321.92L270.50 322.96L270.66 326.00L270.81 330.83L270.96 337.08L271.10 344.22L271.22 351.44L271.34 357.79L271.44 362.44L271.52 365.08L271.59 366.06L271.63 366.09L271.66 365.82L271.67 365.68L271.69 365.48L271.73 364.40L271.79 361.23L271.88 355.10L271.99 346.51L272.11 337.20L272.25 328.97L272.40 323.03L272.56 319.99L272.72 319.98L272.88 322.76L273.03 327.69L273.17 333.69L273.30 339.34L273.41 343.42L273.49 345.51L273.56 346.10L273.60 346.04L273.61 345.95L273.62 346.02L273.65 346.22L273.71 346.41L273.78 346.41L273.87 345.94L273.98 344.77L274.10 342.77L274.23 340.09L274.38 337.09L274.53 334.33L274.69 332.35L274.86 331.61L275.02 332.43L275.18 334.94L275.33 339.12L275.48 344.76L275.62 351.40L275.74 358.33L275.85 364.68L275.94 369.68L276.01 372.96L276.06 374.71L276.09 375.45L276.10 375.64L276.11 375.59L276.13 375.38L276.17 374.78L276.22 373.48L276.29 371.15L276.37 367.59L276.47 362.82L276.57 357.12L276.69 350.92L276.82 344.68L276.95 338.80L277.10 333.57L277.25 329.22L277.40 325.87L277.56 323.61L277.72 322.47L277.88 322.47L278.04 323.57L278.20 325.71L278.36 328.78L278.51 332.63L278.65 337.03L278.79 341.69L278.91 346.29L279.03 350.46L279.13 353.89L279.23 356.43L279.31 358.05L279.38 358.91L279.43 359.25L279.47 359.30L279.49 359.25L279.50 359.22L279.51 359.31L279.53 359.50L279.58 359.58L279.64 359.19L279.72 357.88L279.81 355.31L279.92 351.39L280.04 346.38L280.17 340.83L280.31 335.37L280.45 330.55L280.61 326.80L280.77 324.42L280.92 323.59L281.08 324.45L281.24 327.04L281.40 331.37L281.54 337.40L281.68 344.99L281.81 353.88L281.93 363.60L282.04 373.38L282.13 382.15L282.21 388.89L282.27 393.11L282.32 395.16L282.34 395.90L282.35 396.06L282.36 396.07L282.38 395.88L282.42 394.84L282.48 392.06L282.55 386.86L282.64 379.26L282.73 370.01L282.85 360.13L282.97 350.50L283.10 341.71L283.24 334.11L283.39 327.90L283.54 323.18L283.70 320.01L283.86 318.41L284.02 318.41L284.18 320.02L284.34 323.23L284.49 328.04L284.64 334.43L284.78 342.35L284.91 351.68L285.03 362.18L285.14 373.41L285.24 384.53L285.32 394.39L285.40 401.75L285.45 406.10L285.49 407.98L285.52 408.50L285.52 408.56L285.53 408.55L285.56 408.18L285.60 406.52L285.66 402.40L285.74 395.25L285.83 385.63L285.94 374.83L286.06 364.11L286.19 354.33L286.33 346.00L286.47 339.36L286.63 334.56L286.78 331.66L286.94 330.69L287.10 331.66L287.26 334.58L287.41 339.43L287.56 346.16L287.69 354.68L287.82 364.80L287.94 376.08L288.05 387.75L288.14 398.53L288.22 406.92L288.28 412.02L288.32 414.22L288.35 414.80L288.36 414.85L288.37 414.65L288.40 413.24L288.45 408.65L288.53 399.54L288.62 386.93L288.73 373.22L288.85 360.42L288.99 349.62L289.14 341.34L289.29 335.78L289.45 333.01L289.61 333.00L289.77 335.71L289.92 340.96L290.07 348.46L290.20 357.66L290.33 367.59L290.44 376.77L290.53 383.64L290.60 387.46L290.65 388.78L290.69 388.90L290.70 388.81L290.71 388.69L290.77 387.05L290.85 381.18L290.96 370.55L291.09 358.41L291.24 348.56L291.40 343.20L291.57 343.20L291.73 348.55L291.88 358.34L292.01 370.35L292.12 380.78L292.21 386.48L292.26 388.05L292.28 388.15L292.29 388.12L292.33 387.73L292.39 386.18L292.47 382.55L292.58 376.61L292.70 369.19L292.84 361.72L292.99 355.53L293.14 351.50L293.31 350.11L293.47 351.50L293.62 355.51L293.77 361.68L293.91 369.09L294.03 376.43L294.14 382.27L294.22 385.82L294.28 387.33L294.32 387.69L294.33 387.72L294.36 387.63L294.42 386.25L294.52 381.37L294.64 373.29L294.79 365.89L294.95 362.97L295.12 365.92L295.27 373.50L295.39 381.98L295.49 387.29L295.55 388.90L295.58 389.03L295.60 388.78L295.68 386.18L295.80 378.97L295.95 370.55L296.12 366.94L296.29 370.43L296.44 378.16L296.56 384.22L296.64 386.10L296.67 386.19L296.69 386.11L296.74 385.48L296.83 383.39L296.94 379.43L297.08 374.60L297.23 370.76L297.40 369.33L297.56 370.71L297.71 374.25L297.85 378.39L297.96 381.48L298.05 382.91L298.10 383.21L298.12 383.20L298.14 383.15L298.19 382.77L298.28 381.52L298.39 379.13L298.52 376.17L298.67 373.77L298.83 372.87L298.99 373.74L299.14 375.91L299.27 378.38L299.38 380.17L299.47 380.97L299.52 381.13L299.54 381.13L299.55 381.10L299.61 380.68L299.69 379.13L299.81 376.21L299.94 372.80L300.09 370.20L300.26 369.24L300.42 370.20L300.57 372.81L300.70 376.25L300.82 379.21L300.90 380.79L300.96 381.22L300.97 381.26L301.00 381.16L301.05 380.06L301.15 376.93L301.26 373.29L301.39 371.74L301.52 373.28L301.64 376.82L301.73 379.78L301.79 380.78L301.81 380.84L301.83 380.82L301.89 380.38L301.99 378.76L302.11 375.83L302.26 372.70L302.42 370.75L302.58 370.75L302.74 372.73L302.89 375.96L303.02 379.08L303.11 380.87L303.17 381.39L303.19 381.44L303.21 381.34L303.28 380.24L303.39 377.17L303.53 373.61L303.68 372.09L303.83 373.58L303.96 376.94L304.07 379.69L304.14 380.58L304.17 380.63L304.19 380.60L304.24 379.87L304.33 377.50L304.44 374.48L304.56 373.11L304.69 374.53L304.80 377.85L304.88 380.71L304.94 381.75L304.96 381.85L304.99 381.77L305.06 380.92L305.18 378.57L305.32 375.75L305.48 374.53L305.65 375.70L305.79 378.21L305.91 380.08L305.98 380.63L306.01 380.65L306.03 380.64L306.09 380.21L306.19 378.52L306.32 375.61L306.46 372.87L306.62 371.76L306.78 372.90L306.93 375.89L307.06 379.31L307.15 381.53L307.22 382.25L307.24 382.32L307.26 382.25L307.34 381.24L307.45 378.30L307.60 374.80L307.76 373.29L307.92 374.80L308.07 378.30L308.19 381.25L308.26 382.26L308.29 382.34L308.31 382.25L308.38 381.54L308.49 379.51L308.62 376.70L308.78 374.73L308.94 374.72L309.10 376.48L309.24 378.69L309.34 380.01L309.41 380.33L309.43 380.32L309.45 380.26L309.51 379.44L309.61 376.95L309.73 373.86L309.86 372.49L309.99 373.87L310.11 377.04L310.20 379.66L310.26 380.55L310.28 380.63L310.30 380.58L310.35 380.04L310.44 378.36L310.54 376.18L310.65 375.18L310.77 376.17L310.87 378.32L310.95 379.93L311.01 380.44L311.02 380.48L311.04 380.46L311.10 379.83L311.18 377.69L311.29 374.87L311.42 373.57L311.54 374.93L311.65 378.15L311.73 380.93L311.79 381.96L311.81 382.07L311.83 382.00L311.90 381.36L312.01 379.48L312.16 376.78L312.32 374.85L312.49 374.85L312.65 376.62L312.80 378.90L312.91 380.30L312.98 380.66L313.00 380.67L313.03 380.62L313.09 380.00L313.19 378.15L313.32 375.79L313.46 374.72L313.60 375.77L313.73 378.03L313.83 379.75L313.90 380.28L313.92 380.31L313.94 380.72L314.01 381.23L314.12 379.67L314.26 375.80L314.41 373.65L314.56 376.43L314.70 385.22L314.81 399.52L314.88 412.46L314.90 415.00L314.92 412.61L314.99 400.25L315.10 386.24L315.23 377.56L315.38 374.81L315.53 376.92L315.66 380.70L315.77 382.23L315.84 381.74L315.86 381.35L315.88 381.29L315.94 380.46L316.04 378.00L316.16 374.98L316.30 373.64L316.43 374.97L316.56 377.98L316.65 380.42L316.72 381.23L316.74 381.29L316.75 381.24L316.80 380.53L316.86 378.34L316.95 375.59L317.04 374.36L317.14 375.60L317.23 378.37L317.29 380.59L317.34 381.32L317.35 381.38L317.38 381.29L317.45 380.48L317.55 378.20L317.69 375.44L317.84 374.24L317.99 375.39L318.13 377.85L318.24 379.69L318.31 380.22L318.33 380.24L318.35 380.23L318.41 379.69L318.50 377.80L318.62 375.24L318.75 374.04L318.87 375.31L318.99 378.27L319.08 380.80L319.14 381.73L319.16 381.83L319.18 381.78L319.23 381.02L319.31 378.68L319.41 375.75L319.53 374.43L319.64 375.76L319.74 378.79L319.83 381.28L319.88 382.13L319.90 382.20L319.91 382.11L319.97 381.19L320.05 378.66L320.15 375.66L320.27 374.37L320.38 375.61L320.48 378.30L320.57 380.34L320.62 380.94L320.64 380.97" stroke="#3f7cf0"/>
</g>
<rect x="45.50" y="241.40" width="273.80" height="168.80" fill="none" stroke="#1a1a1a" stroke-width="1"/>
<line x1="57.70" y1="266.5" x2="70.60" y2="266.5" stroke="#ee4a83" stroke-width="1.3"/>
<line x1="57.70" y1="284.4" x2="70.60" y2="284.4" stroke="#3f7cf0" stroke-width="1.3"/>
<text transform="translate(75.20,269.7) scale(1,1.13)" class="ss" style="font-size:9.5px">2 turns</text>
<text transform="translate(75.20,287.6) scale(1,1.13)" class="ss" style="font-size:9.5px">3 turns</text>
<text transform="translate(13.20,335.4) rotate(-90)" class="ss" style="font-size:12.6px;stroke-width:0.35px">&#916;</text>
<text transform="translate(7.10,328.6) rotate(-90)" class="ss" style="font-size:7.6px">2</text>
<text transform="translate(14.60,323.4) rotate(-90)" class="ss" style="font-size:8px;font-style:italic">R</text>
<line x1="506.15" y1="241.30" x2="506.15" y2="410.00" stroke="#e2e2e2" stroke-width="1"/>
<line x1="389.70" y1="391.26" x2="663.30" y2="391.26" stroke="#e2e2e2" stroke-width="1"/>
<path d="M389.70 410.00v-3.0M389.70 241.30v3.0M407.23 410.00v-1.7M407.23 241.30v1.7M417.48 410.00v-1.7M417.48 241.30v1.7M424.76 410.00v-1.7M424.76 241.30v1.7M430.40 410.00v-1.7M430.40 241.30v1.7M435.01 410.00v-1.7M435.01 241.30v1.7M438.91 410.00v-1.7M438.91 241.30v1.7M442.28 410.00v-1.7M442.28 241.30v1.7M445.26 410.00v-1.7M445.26 241.30v1.7M447.93 410.00v-3.0M447.93 241.30v3.0M465.45 410.00v-1.7M465.45 241.30v1.7M475.71 410.00v-1.7M475.71 241.30v1.7M482.98 410.00v-1.7M482.98 241.30v1.7M488.62 410.00v-1.7M488.62 241.30v1.7M493.23 410.00v-1.7M493.23 241.30v1.7M497.13 410.00v-1.7M497.13 241.30v1.7M500.51 410.00v-1.7M500.51 241.30v1.7M503.49 410.00v-1.7M503.49 241.30v1.7M506.15 410.00v-3.0M506.15 241.30v3.0M523.68 410.00v-1.7M523.68 241.30v1.7M533.93 410.00v-1.7M533.93 241.30v1.7M541.21 410.00v-1.7M541.21 241.30v1.7M546.85 410.00v-1.7M546.85 241.30v1.7M551.46 410.00v-1.7M551.46 241.30v1.7M555.36 410.00v-1.7M555.36 241.30v1.7M558.73 410.00v-1.7M558.73 241.30v1.7M561.71 410.00v-1.7M561.71 241.30v1.7M564.38 410.00v-3.0M564.38 241.30v3.0M581.90 410.00v-1.7M581.90 241.30v1.7M592.16 410.00v-1.7M592.16 241.30v1.7M599.43 410.00v-1.7M599.43 241.30v1.7M605.07 410.00v-1.7M605.07 241.30v1.7M609.68 410.00v-1.7M609.68 241.30v1.7M613.58 410.00v-1.7M613.58 241.30v1.7M616.96 410.00v-1.7M616.96 241.30v1.7M619.94 410.00v-1.7M619.94 241.30v1.7M622.60 410.00v-3.0M622.60 241.30v3.0M640.13 410.00v-1.7M640.13 241.30v1.7M650.38 410.00v-1.7M650.38 241.30v1.7M657.66 410.00v-1.7M657.66 241.30v1.7M663.30 410.00v-1.7M663.30 241.30v1.7M389.70 410.00h3M663.30 410.00h-3M389.70 372.51h3M663.30 372.51h-3M389.70 335.02h3M663.30 335.02h-3M389.70 297.53h3M663.30 297.53h-3M389.70 260.04h3M663.30 260.04h-3M389.70 391.26h1.7M663.30 391.26h-1.7M389.70 353.77h1.7M663.30 353.77h-1.7M389.70 316.28h1.7M663.30 316.28h-1.7M389.70 278.79h1.7M663.30 278.79h-1.7" stroke="#222" stroke-width="0.9" fill="none"/>
<text transform="translate(386.70,263.59) scale(1,1.0)" text-anchor="end" class="ss">10<tspan style="font-size:7.2px" dy="-3.9">7</tspan></text>
<text transform="translate(386.70,301.08) scale(1,1.0)" text-anchor="end" class="ss">10<tspan style="font-size:7.2px" dy="-3.9">5</tspan></text>
<text transform="translate(386.70,338.57) scale(1,1.0)" text-anchor="end" class="ss">1000</text>
<text transform="translate(386.70,376.06) scale(1,1.0)" text-anchor="end" class="ss">10</text>
<text transform="translate(386.70,413.55) scale(1,1.0)" text-anchor="end" class="ss">0.1</text>
<text transform="translate(389.10,422.8) scale(1,1.0)" text-anchor="middle" class="ss">0.01</text>
<text transform="translate(447.33,422.8) scale(1,1.0)" text-anchor="middle" class="ss">0.10</text>
<text transform="translate(505.55,422.8) scale(1,1.0)" text-anchor="middle" class="ss">1</text>
<text transform="translate(563.78,422.8) scale(1,1.0)" text-anchor="middle" class="ss">10</text>
<text transform="translate(622.00,422.8) scale(1,1.0)" text-anchor="middle" class="ss">100</text>
<text transform="translate(526.50,437.6) scale(1,1.0)" text-anchor="middle" class="ss">k / H</text>
<clipPath id="cbr"><rect x="389.7" y="241.3" width="273.60" height="168.70"/></clipPath>
<g clip-path="url(#cbr)" fill="none" stroke-linejoin="round" stroke-width="1.25">
<path d="M389.70 390.20L389.90 390.08L390.10 389.97L390.30 389.85L390.50 389.74L390.70 389.63L390.90 389.52L391.10 389.41L391.30 389.31L391.50 389.21L391.70 389.12L391.90 389.03L392.10 388.94L392.30 388.85L392.50 388.78L392.70 388.70L392.90 388.63L393.10 388.57L393.30 388.50L393.50 388.44L393.70 388.37L393.90 388.31L394.10 388.24L394.30 388.18L394.50 388.12L394.70 388.06L394.90 388.00L395.10 387.94L395.30 387.89L395.50 387.84L395.70 387.79L395.90 387.75L396.10 387.71L396.30 387.68L396.50 387.65L396.70 387.63L396.90 387.61L397.10 387.60L397.30 387.60L397.50 387.60L397.70 387.62L397.90 387.64L398.10 387.67L398.30 387.70L398.50 387.75L398.70 387.80L398.90 387.85L399.10 387.91L399.30 387.98L399.50 388.05L399.70 388.12L399.90 388.20L400.10 388.28L400.30 388.36L400.50 388.45L400.70 388.54L400.90 388.63L401.10 388.72L401.30 388.81L401.50 388.90L401.70 389.00L401.90 389.10L402.10 389.21L402.30 389.34L402.50 389.47L402.70 389.60L402.90 389.75L403.10 389.90L403.30 390.07L403.50 390.23L403.70 390.41L403.90 390.59L404.10 390.77L404.30 390.97L404.50 391.16L404.70 391.37L404.90 391.57L405.10 391.78L405.30 392.00L405.50 392.22L405.70 392.44L405.90 392.67L406.10 392.90L406.30 393.13L406.50 393.36L406.70 393.60L406.90 393.84L407.10 394.09L407.30 394.34L407.50 394.60L407.70 394.87L407.90 395.14L408.10 395.43L408.30 395.73L408.50 396.04L408.70 396.36L408.90 396.70L409.10 397.05L409.30 397.41L409.50 397.80L409.70 398.19L409.90 398.61L410.10 399.05L410.30 399.50L410.50 400.05L410.70 400.76L410.90 401.59L411.10 402.52L411.30 403.52L411.50 404.55L411.70 405.59L411.90 406.60L412.10 407.55L412.30 408.43L412.50 409.18L412.70 409.80L412.90 410.24L413.10 410.47L413.30 410.47L413.50 410.21L413.70 409.74L413.90 409.08L414.10 408.27L414.30 407.34L414.50 406.32L414.70 405.26L414.90 404.17L415.10 403.11L415.30 402.09L415.50 401.16L415.70 400.35L415.90 399.67L416.10 399.04L416.30 398.42L416.50 397.82L416.70 397.24L416.90 396.67L417.10 396.12L417.30 395.58L417.50 395.05L417.70 394.52L417.90 394.01L418.10 393.49L418.30 392.98L418.50 392.47L418.70 391.96L418.90 391.44L419.10 390.93L419.30 390.42L419.50 389.91L419.70 389.40L419.90 388.90L420.10 388.40L420.30 387.90L420.50 387.41L420.70 386.93L420.90 386.46L421.10 385.99L421.30 385.53L421.50 385.08L421.70 384.64L421.90 384.21L422.10 383.79L422.30 383.37L422.50 382.94L422.70 382.52L422.90 382.10L423.10 381.68L423.30 381.26L423.50 380.86L423.70 380.46L423.90 380.07L424.10 379.70L424.30 379.34L424.50 379.00L424.70 378.67L424.90 378.37L425.10 378.08L425.30 377.82L425.50 377.58L425.70 377.35L425.90 377.13L426.10 376.91L426.30 376.70L426.50 376.49L426.70 376.29L426.90 376.10L427.10 375.91L427.30 375.74L427.50 375.57L427.70 375.41L427.90 375.26L428.10 375.12L428.30 374.98L428.50 374.86L428.70 374.75L428.90 374.65L429.10 374.55L429.30 374.46L429.50 374.37L429.70 374.28L429.90 374.19L430.10 374.11L430.30 374.03L430.50 373.94L430.70 373.87L430.90 373.80L431.10 373.73L431.30 373.66L431.50 373.61L431.70 373.55L431.90 373.51L432.10 373.47L432.30 373.44L432.50 373.42L432.70 373.40L432.90 373.40L433.10 373.40L433.30 373.41L433.50 373.41L433.70 373.43L433.90 373.44L434.10 373.45L434.30 373.47L434.50 373.48L434.70 373.50L434.90 373.52L435.10 373.53L435.30 373.55L435.50 373.56L435.70 373.57L435.90 373.59L436.10 373.59L436.30 373.60L436.50 373.60L436.70 373.60L436.90 373.60L437.10 373.59L437.30 373.59L437.50 373.58L437.70 373.58L437.90 373.57L438.10 373.56L438.30 373.55L438.50 373.54L438.70 373.53L438.90 373.51L439.10 373.50L439.30 373.49L439.50 373.47L439.70 373.45L439.90 373.44L440.10 373.42L440.30 373.40L440.50 373.37L440.70 373.34L440.90 373.29L441.10 373.23L441.30 373.16L441.50 373.08L441.70 372.99L441.90 372.90L442.10 372.79L442.30 372.68L442.50 372.57L442.70 372.45L442.90 372.32L443.10 372.19L443.30 372.06L443.50 371.92L443.70 371.78L443.90 371.64L444.10 371.50L444.30 371.35L444.50 371.18L444.70 370.99L444.90 370.79L445.10 370.57L445.30 370.34L445.50 370.10L445.70 369.85L445.90 369.59L446.10 369.32L446.30 369.05L446.50 368.77L446.70 368.48L446.90 368.20L447.10 367.91L447.30 367.63L447.50 367.34L447.70 367.06L447.90 366.79L448.10 366.52L448.30 366.25L448.50 366.00L448.70 365.75L448.90 365.50L449.10 365.25L449.30 365.01L449.50 364.76L449.70 364.51L449.90 364.27L450.10 364.02L450.30 363.77L450.50 363.53L450.70 363.28L450.90 363.03L451.10 362.79L451.30 362.54L451.50 362.29L451.70 362.04L451.90 361.79L452.10 361.55L452.30 361.29L452.50 361.04L452.70 360.79L452.90 360.54L453.10 360.28L453.30 360.03L453.50 359.77L453.70 359.51L453.90 359.25L454.10 358.98L454.30 358.71L454.50 358.44L454.70 358.17L454.90 357.89L455.10 357.61L455.30 357.33L455.50 357.05L455.70 356.77L455.90 356.49L456.10 356.20L456.30 355.92L456.50 355.63L456.70 355.35L456.90 355.07L457.10 354.78L457.30 354.50L457.50 354.22L457.70 353.93L457.90 353.65L458.10 353.38L458.30 353.10L458.50 352.82L458.70 352.55L458.90 352.28L459.10 352.01L459.30 351.75L459.50 351.49L459.70 351.23L459.90 350.98L460.10 350.73L460.30 350.48L460.50 350.24L460.70 350.00L460.90 349.77L461.10 349.54L461.30 349.32L461.50 349.10L461.70 348.89L461.90 348.68L462.10 348.47L462.30 348.27L462.50 348.06L462.70 347.87L462.90 347.67L463.10 347.48L463.30 347.29L463.50 347.10L463.70 346.91L463.90 346.72L464.10 346.54L464.30 346.36L464.50 346.18L464.70 346.00L464.90 345.83L465.10 345.65L465.30 345.48L465.50 345.30L465.70 345.13L465.90 344.96L466.10 344.79L466.30 344.62L466.50 344.45L466.70 344.29L466.90 344.12L467.10 343.95L467.30 343.78L467.50 343.62L467.70 343.45L467.90 343.28L468.10 343.12L468.30 342.95L468.50 342.79L468.70 342.63L468.90 342.47L469.10 342.31L469.30 342.15L469.50 342.00L469.70 341.85L469.90 341.70L470.10 341.54L470.30 341.39L470.50 341.25L470.70 341.10L470.90 340.95L471.10 340.80L471.30 340.66L471.50 340.51L471.70 340.36L471.90 340.22L472.10 340.07L472.30 339.92L472.50 339.78L472.70 339.63L472.90 339.48L473.10 339.33L473.30 339.18L473.50 339.03L473.70 338.88L473.90 338.73L474.10 338.57L474.30 338.42L474.50 338.26L474.70 338.10L474.90 337.94L475.10 337.77L475.30 337.61L475.50 337.44L475.70 337.27L475.90 337.10L476.10 336.93L476.30 336.75L476.50 336.57L476.70 336.39L476.90 336.21L477.10 336.02L477.30 335.83L477.50 335.64L477.70 335.45L477.90 335.26L478.10 335.07L478.30 334.87L478.50 334.68L478.70 334.48L478.90 334.28L479.10 334.08L479.30 333.87L479.50 333.67L479.70 333.47L479.90 333.26L480.10 333.05L480.30 332.85L480.50 332.64L480.70 332.43L480.90 332.22L481.10 332.01L481.30 331.80L481.50 331.59L481.70 331.38L481.90 331.17L482.10 330.95L482.30 330.74L482.50 330.53L482.70 330.32L482.90 330.10L483.10 329.89L483.30 329.68L483.50 329.47L483.70 329.26L483.90 329.05L484.10 328.83L484.30 328.62L484.50 328.41L484.70 328.21L484.90 328.00L485.10 327.79L485.30 327.58L485.50 327.38L485.70 327.17L485.90 326.97L486.10 326.77L486.30 326.57L486.50 326.37L486.70 326.17L486.90 325.97L487.10 325.77L487.30 325.58L487.50 325.39L487.70 325.19L487.90 325.01L488.10 324.82L488.30 324.63L488.50 324.44L488.70 324.25L488.90 324.06L489.10 323.87L489.30 323.68L489.50 323.49L489.70 323.31L489.90 323.12L490.10 322.93L490.30 322.74L490.50 322.55L490.70 322.37L490.90 322.18L491.10 321.99L491.30 321.81L491.50 321.62L491.70 321.43L491.90 321.25L492.10 321.06L492.30 320.88L492.50 320.69L492.70 320.51L492.90 320.33L493.10 320.14L493.30 319.96L493.50 319.78L493.70 319.60L493.90 319.42L494.10 319.24L494.30 319.06L494.50 318.88L494.70 318.70L494.90 318.52L495.10 318.34L495.30 318.17L495.50 317.99L495.70 317.82L495.90 317.64L496.10 317.47L496.30 317.29L496.50 317.12L496.70 316.95L496.90 316.78L497.10 316.61L497.30 316.44L497.50 316.27L497.70 316.10L497.90 315.94L498.10 315.77L498.30 315.61L498.50 315.44L498.70 315.28L498.90 315.12L499.10 314.96L499.30 314.80L499.50 314.64L499.70 314.48L499.90 314.32L500.10 314.17L500.30 314.01L500.50 313.86L500.70 313.71L500.90 313.56L501.10 313.42L501.30 313.27L501.50 313.13L501.70 312.99L501.90 312.84L502.10 312.70L502.30 312.56L502.50 312.42L502.70 312.29L502.90 312.15L503.10 312.01L503.30 311.87L503.50 311.73L503.70 311.60L503.90 311.46L504.10 311.32L504.30 311.19L504.50 311.05L504.70 310.91L504.90 310.77L505.10 310.63L505.30 310.49L505.50 310.35L505.70 310.21L505.90 310.06L506.10 309.92L506.30 309.77L506.50 309.62L506.70 309.48L506.90 309.32L507.10 309.17L507.30 309.02L507.50 308.87L507.70 308.71L507.90 308.56L508.10 308.40L508.30 308.25L508.50 308.09L508.70 307.93L508.90 307.77L509.10 307.61L509.30 307.45L509.50 307.30L509.70 307.13L509.90 306.97L510.10 306.81L510.30 306.65L510.50 306.49L510.70 306.33L510.90 306.17L511.10 306.00L511.30 305.84L511.50 305.68L511.70 305.52L511.90 305.36L512.10 305.19L512.30 305.03L512.50 304.87L512.70 304.71L512.90 304.54L513.10 304.38L513.30 304.22L513.50 304.06L513.70 303.90L513.90 303.74L514.10 303.57L514.30 303.41L514.50 303.24L514.70 303.07L514.90 302.90L515.10 302.73L515.30 302.56L515.50 302.39L515.70 302.22L515.90 302.05L516.10 301.87L516.30 301.70L516.50 301.53L516.70 301.35L516.90 301.18L517.10 301.01L517.30 300.84L517.50 300.67L517.70 300.51L517.90 300.34L518.10 300.17L518.30 300.01L518.50 299.85L518.70 299.69L518.90 299.54L519.10 299.38L519.30 299.23L519.50 299.09L519.70 298.94L519.90 298.80L520.10 298.66L520.30 298.53L520.50 298.40L520.70 298.27L520.90 298.14L521.10 298.02L521.30 297.89L521.50 297.76L521.70 297.63L521.90 297.50L522.10 297.38L522.30 297.25L522.50 297.13L522.70 297.01L522.90 296.88L523.10 296.76L523.30 296.64L523.50 296.53L523.70 296.41L523.90 296.30L524.10 296.18L524.30 296.08L524.50 295.97L524.70 295.86L524.90 295.76L525.10 295.66L525.30 295.57L525.50 295.47L525.70 295.38L525.90 295.30L526.10 295.22L526.30 295.14L526.50 295.06L526.70 294.99L526.90 294.92L527.10 294.86L527.30 294.80L527.50 294.74L527.70 294.69L527.90 294.63L528.10 294.57L528.30 294.51L528.50 294.46L528.70 294.40L528.90 294.35L529.10 294.31L529.30 294.26L529.50 294.22L529.70 294.19L529.90 294.16L530.10 294.13L530.30 294.12L530.50 294.10L530.70 294.10L530.90 294.10L531.10 294.12L531.30 294.13L531.50 294.16L531.70 294.19L531.90 294.23L532.10 294.28L532.30 294.33L532.50 294.38L532.70 294.45L532.90 294.51L533.10 294.58L533.30 294.66L533.50 294.74L533.70 294.82L533.90 294.91L534.10 295.00L534.30 295.09L534.50 295.19L534.70 295.29L534.90 295.39L535.10 295.49L535.30 295.60L535.50 295.70L535.70 295.81L535.90 295.94L536.10 296.08L536.30 296.24L536.50 296.41L536.70 296.59L536.90 296.79L537.10 297.00L537.30 297.22L537.50 297.45L537.70 297.69L537.90 297.95L538.10 298.21L538.30 298.49L538.50 298.78L538.70 299.07L538.90 299.37L539.10 299.69L539.30 300.01L539.50 300.33L539.70 300.67L539.90 301.04L540.10 301.45L540.30 301.88L540.50 302.35L540.70 302.84L540.90 303.36L541.10 303.91L541.30 304.48L541.50 305.08L541.70 305.69L541.90 306.33L542.10 306.98L542.30 307.65L542.50 308.33L542.70 309.03L542.90 309.74L543.10 310.45L543.30 311.13L543.50 311.78L543.70 312.43L543.90 313.08L544.10 313.77L544.30 314.52L544.50 315.33L544.70 316.24L544.90 317.25L545.10 318.40L545.30 319.69L545.50 321.15L545.70 322.80L545.90 325.20L546.10 331.05L546.30 339.52L546.50 349.17L546.70 358.56L546.90 366.24L547.10 370.77L547.30 370.58L547.50 364.88L547.70 355.67L547.90 345.26L548.10 335.93L548.30 330.00L548.50 326.85L548.70 324.28L548.90 322.17L549.10 320.40L549.30 318.83L549.50 317.37L549.70 315.98L549.90 314.69L550.10 313.49L550.30 312.39L550.50 311.38L550.70 310.48L550.90 309.69L551.10 309.00L551.30 308.42L551.50 307.87L551.70 307.34L551.90 306.84L552.10 306.38L552.30 305.95L552.50 305.55L552.70 305.21L552.90 304.90L553.10 304.65L553.30 304.45L553.50 304.30L553.70 304.19L553.90 304.08L554.10 303.98L554.30 303.89L554.50 303.80L554.70 303.73L554.90 303.68L555.10 303.64L555.30 303.61L555.50 303.60L555.70 303.61L555.90 303.65L556.10 303.72L556.30 303.80L556.50 303.90L556.70 304.02L556.90 304.15L557.10 304.29L557.30 304.44L557.50 304.60L557.70 304.79L557.90 305.03L558.10 305.32L558.30 305.66L558.50 306.04L558.70 306.45L558.90 306.90L559.10 307.36L559.30 307.85L559.50 308.35L559.70 308.86L559.90 309.41L560.10 310.01L560.30 310.66L560.50 311.35L560.70 312.09L560.90 312.88L561.10 313.71L561.30 314.59L561.50 315.51L561.70 316.48L561.90 317.50L562.10 318.61L562.30 319.87L562.50 321.25L562.70 322.76L562.90 324.38L563.10 326.10L563.30 327.89L563.50 329.67L563.70 331.57L563.90 333.80L564.10 336.55L564.30 340.00L564.50 345.55L564.70 353.97L564.90 364.56L565.10 376.58L565.20 382.90L565.20 382.90L565.20 382.91L565.21 382.87L565.23 382.65L565.26 382.03L565.29 380.82L565.33 378.96L565.37 376.59L565.43 373.93L565.48 371.16L565.55 368.42L565.62 365.79L565.70 363.30L565.79 360.95L565.88 358.75L565.98 356.70L566.08 354.77L566.19 352.98L566.30 351.30L566.42 349.73L566.55 348.26L566.68 346.89L566.81 345.61L566.95 344.42L567.10 343.31L567.24 342.28L567.40 341.33L567.55 340.45L567.71 339.64L567.87 338.90L568.04 338.23L568.21 337.63L568.38 337.10L568.55 336.63L568.73 336.22L568.90 335.88L569.08 335.60L569.26 335.38L569.44 335.22L569.62 335.13L569.80 335.10L569.98 335.13L570.16 335.22L570.34 335.38L570.52 335.60L570.70 335.88L570.87 336.22L571.05 336.63L571.22 337.10L571.39 337.63L571.56 338.24L571.73 338.91L571.89 339.65L572.05 340.45L572.20 341.34L572.36 342.29L572.50 343.33L572.65 344.44L572.79 345.64L572.92 346.93L573.05 348.31L573.18 349.80L573.30 351.39L573.41 353.10L573.52 354.93L573.62 356.91L573.72 359.05L573.81 361.36L573.90 363.88L573.98 366.63L574.05 369.65L574.12 372.99L574.17 376.73L574.23 380.93L574.27 385.71L574.31 391.16L574.34 397.25L574.37 403.40L574.39 407.86L574.40 409.38L574.40 409.50L574.41 409.37L574.43 408.12L574.46 404.49L574.51 399.12L574.56 393.53L574.64 388.41L574.72 383.91L574.81 379.99L574.92 376.58L575.03 373.62L575.15 371.06L575.28 368.86L575.42 366.99L575.57 365.44L575.72 364.19L575.87 363.22L576.03 362.54L576.19 362.13L576.35 362.00L576.51 362.13L576.67 362.53L576.83 363.20L576.98 364.11L577.13 365.28L577.28 366.68L577.42 368.29L577.55 370.06L577.67 371.92L577.78 373.76L577.89 375.44L577.98 376.80L578.06 377.73L578.14 378.23L578.19 378.37L578.24 378.31L578.27 378.17L578.29 378.05L578.30 378.00L578.31 378.01L578.32 377.96L578.35 377.65L578.39 376.80L578.44 375.22L578.49 372.95L578.56 370.24L578.64 367.35L578.73 364.50L578.83 361.80L578.93 359.29L579.04 357.01L579.16 354.96L579.29 353.14L579.42 351.53L579.56 350.14L579.71 348.95L579.85 347.97L580.01 347.19L580.16 346.61L580.31 346.22L580.47 346.02L580.63 346.02L580.79 346.22L580.94 346.61L581.09 347.19L581.25 347.98L581.39 348.97L581.54 350.17L581.67 351.59L581.81 353.23L581.94 355.11L582.06 357.24L582.17 359.65L582.27 362.35L582.37 365.38L582.46 368.76L582.54 372.49L582.61 376.53L582.66 380.71L582.71 384.56L582.75 387.37L582.78 388.77L582.79 389.16L582.80 389.20L582.80 389.18L582.82 388.65L582.84 386.59L582.87 382.73L582.91 377.96L582.95 373.17L583.01 368.73L583.07 364.72L583.14 361.13L583.22 357.90L583.30 354.99L583.39 352.36L583.49 349.97L583.59 347.80L583.71 345.83L583.82 344.05L583.94 342.43L584.07 340.96L584.20 339.65L584.34 338.47L584.48 337.43L584.63 336.52L584.77 335.74L584.92 335.08L585.08 334.55L585.23 334.13L585.39 333.84L585.54 333.66L585.70 333.60L585.86 333.66L586.01 333.84L586.17 334.13L586.32 334.55L586.48 335.08L586.63 335.74L586.77 336.52L586.92 337.43L587.06 338.47L587.20 339.65L587.33 340.97L587.46 342.43L587.58 344.06L587.69 345.85L587.81 347.83L587.91 350.01L588.01 352.41L588.10 355.07L588.18 358.02L588.26 361.32L588.33 365.05L588.39 369.29L588.45 374.21L588.49 380.01L588.53 387.00L588.56 395.56L588.58 405.22L588.60 411.35L588.60 412.00L588.61 411.80L588.63 409.82L588.67 404.64L588.72 398.11L588.79 391.98L588.87 386.66L588.96 382.12L589.07 378.26L589.18 374.99L589.31 372.22L589.45 369.91L589.59 368.03L589.74 366.55L589.89 365.45L590.05 364.72L590.21 364.36L590.37 364.36L590.53 364.72L590.69 365.44L590.84 366.52L590.99 367.96L591.14 369.76L591.27 371.92L591.40 374.42L591.51 377.21L591.62 380.18L591.71 383.12L591.79 385.68L591.86 387.47L591.91 388.38L591.95 388.62L591.97 388.59L591.98 388.54L591.99 388.49L592.02 387.83L592.08 385.57L592.15 381.66L592.24 377.14L592.35 372.87L592.47 369.23L592.60 366.31L592.75 364.14L592.90 362.69L593.06 361.98L593.21 361.98L593.37 362.69L593.52 364.12L593.66 366.27L593.80 369.13L593.92 372.64L594.03 376.64L594.12 380.67L594.19 383.87L594.24 385.52L594.28 385.95L594.29 385.97L594.30 386.03L594.33 386.08L594.38 385.69L594.45 384.35L594.54 381.96L594.65 378.95L594.77 375.89L594.91 373.16L595.06 370.94L595.21 369.33L595.37 368.34L595.53 368.01L595.69 368.35L595.85 369.36L596.01 371.07L596.15 373.50L596.29 376.71L596.41 380.76L596.52 385.72L596.61 391.59L596.68 397.92L596.73 403.01L596.77 405.03L596.78 405.25L596.78 405.09L596.80 403.48L596.84 398.98L596.89 392.90L596.95 386.95L597.03 381.69L597.11 377.15L597.21 373.25L597.32 369.90L597.44 367.04L597.57 364.61L597.70 362.57L597.84 360.91L597.99 359.60L598.14 358.62L598.30 357.97L598.46 357.65L598.61 357.65L598.77 357.97L598.93 358.61L599.08 359.57L599.22 360.86L599.37 362.47L599.50 364.40L599.63 366.66L599.75 369.22L599.86 372.03L599.96 374.98L600.04 377.85L600.12 380.31L600.18 382.01L600.23 382.88L600.26 383.12L600.28 383.10L600.29 383.06L600.30 383.11L600.33 383.19L600.38 383.17L600.45 382.85L600.54 382.02L600.64 380.63L600.76 378.86L600.89 377.00L601.04 375.30L601.19 373.97L601.34 373.13L601.50 372.84L601.65 373.14L601.81 374.06L601.96 375.60L602.10 377.78L602.23 380.57L602.35 383.89L602.45 387.54L602.54 391.10L602.61 393.88L602.66 395.40L602.69 395.92L602.70 396.00L602.71 395.96L602.74 395.60L602.78 394.34L602.84 391.83L602.91 388.36L603.00 384.56L603.10 380.91L603.21 377.62L603.34 374.76L603.47 372.37L603.61 370.42L603.76 368.92L603.92 367.86L604.08 367.23L604.24 367.01L604.40 367.22L604.56 367.85L604.71 368.89L604.86 370.34L605.01 372.19L605.14 374.41L605.26 376.96L605.38 379.71L605.48 382.47L605.57 384.92L605.64 386.71L605.70 387.71L605.74 388.07L605.76 388.12L605.77 388.11L605.78 388.11L605.81 388.07L605.85 387.85L605.92 387.30L605.99 386.28L606.09 384.78L606.20 382.95L606.32 381.01L606.45 379.17L606.59 377.57L606.74 376.31L606.89 375.44L607.05 375.00L607.20 375.01L607.36 375.45L607.51 376.32L607.66 377.61L607.80 379.26L607.93 381.19L608.05 383.27L608.16 385.29L608.25 387.02L608.33 388.25L608.39 388.95L608.44 389.24L608.47 389.32L608.48 389.33L608.49 389.35L608.53 388.42L608.59 384.87L608.68 379.52L608.79 374.24L608.92 369.87L609.06 366.60L609.22 364.42L609.38 363.34L609.54 363.34L609.70 364.43L609.86 366.65L610.00 370.06L610.13 374.79L610.24 381.08L610.33 389.22L610.39 398.87L610.43 405.47L610.44 406.28L610.46 406.13L610.49 405.34L610.54 403.27L610.61 399.86L610.69 395.83L610.80 391.86L610.91 388.33L611.05 385.38L611.19 383.05L611.34 381.33L611.50 380.23L611.66 379.69L611.82 379.69L611.98 380.13L612.14 380.89L612.29 381.79L612.43 382.63L612.57 383.23L612.68 383.53L612.79 383.57L612.87 383.45L612.94 383.26L612.99 383.08L613.02 382.96L613.03 382.92L613.04 382.97L613.07 383.09L613.12 383.23L613.18 383.31L613.25 383.17L613.35 382.71L613.45 381.85L613.57 380.64L613.71 379.23L613.85 377.81L613.99 376.54L614.15 375.55L614.31 374.92L614.47 374.70L614.63 374.93L614.79 375.62L614.94 376.80L615.09 378.47L615.23 380.65L615.36 383.34L615.48 386.54L615.59 390.19L615.68 394.12L615.76 397.92L615.82 400.90L615.86 402.56L615.89 403.14L615.90 403.23L615.91 403.13L615.94 402.44L615.99 400.39L616.07 396.89L616.16 392.72L616.26 388.67L616.39 385.11L616.52 382.18L616.67 379.92L616.82 378.32L616.98 377.37L617.14 377.06L617.31 377.36L617.46 378.24L617.62 379.64L617.76 381.45L617.90 383.48L618.02 385.46L618.13 387.05L618.22 388.04L618.29 388.43L618.34 388.46L618.38 388.36L618.39 388.31L618.40 388.27L618.44 388.12L618.51 387.72L618.60 386.97L618.71 385.86L618.84 384.58L618.98 383.36L619.14 382.45L619.30 381.97L619.47 381.97L619.63 382.37L619.79 383.03L619.93 383.75L620.06 384.33L620.17 384.70L620.26 384.85L620.33 384.87L620.37 384.84L620.39 384.83L620.40 384.92L620.43 385.11L620.48 385.06L620.55 384.32L620.64 382.61L620.75 380.11L620.87 377.33L621.00 374.73L621.15 372.56L621.30 370.96L621.46 369.98L621.62 369.64L621.78 369.98L621.93 371.00L622.09 372.72L622.23 375.18L622.37 378.43L622.49 382.56L622.59 387.70L622.68 393.98L622.75 401.30L622.81 408.24L622.84 411.56L622.85 411.94L622.86 411.79L622.89 410.84L622.95 408.24L623.02 404.16L623.12 399.68L623.23 395.56L623.36 392.12L623.50 389.46L623.64 387.58L623.80 386.48L623.96 386.12L624.12 386.46L624.27 387.42L624.42 388.88L624.56 390.60L624.68 392.27L624.80 393.54L624.89 394.22L624.97 394.39L625.02 394.29L625.06 394.14L625.07 394.08L625.08 394.06L625.13 393.83L625.21 392.96L625.32 391.24L625.45 389.09L625.60 387.21L625.75 386.15L625.91 386.15L626.07 387.21L626.21 389.09L626.34 391.25L626.45 392.97L626.53 393.84L626.58 394.08L626.60 394.10L626.61 393.96L626.65 393.16L626.72 390.99L626.81 387.56L626.93 383.78L627.06 380.47L627.20 378.01L627.36 376.52L627.52 376.04L627.68 376.49L627.83 377.72L627.98 379.44L628.11 381.20L628.22 382.51L628.31 383.14L628.38 383.25L628.42 383.15L628.44 390.19L628.46 390.21L628.53 390.30L628.64 390.40L628.78 390.35L628.94 390.04L629.10 390.11L629.26 392.01L629.40 396.47L629.51 402.44L629.58 406.69L629.60 407.72L629.62 407.63L629.65 407.20L629.71 406.05L629.79 403.98L629.89 401.27L630.01 398.42L630.14 395.86L630.29 393.86L630.44 392.51L630.60 391.84L630.76 391.84L630.92 392.42L631.07 393.42L631.22 394.64L631.35 395.79L631.47 396.64L631.57 397.10L631.65 397.23L631.71 397.17L631.74 397.08L631.75 397.04L631.77 396.90L631.82 396.08L631.90 393.92L632.01 390.69L632.14 387.46L632.29 385.05L632.45 383.82L632.61 383.81L632.77 384.85L632.91 386.51L633.05 388.13L633.15 389.13L633.23 389.44L633.28 389.39L633.30 389.34L633.32 389.36L633.38 389.37L633.47 389.28L633.59 388.95L633.73 388.43L633.88 388.00L634.04 388.01L634.20 388.61L634.34 389.64L634.46 390.66L634.55 391.32L634.60 391.59L634.62 393.52L634.64 393.52L634.68 393.52L634.76 393.51L634.85 393.48L634.97 393.44L635.11 393.38L635.27 393.32L635.43 393.28L635.59 393.28L635.75 393.32L635.91 393.38L636.04 393.44L636.17 393.48L636.26 393.51L636.34 393.52L636.38 393.52L636.40 389.66L636.41 389.66L636.46 389.68L636.54 389.69L636.64 389.69L636.77 389.66L636.91 389.57L637.07 389.47L637.23 389.41L637.39 389.50L637.55 389.80L637.69 390.30L637.82 390.88L637.92 391.40L638.00 391.75L638.05 391.94L638.06 391.99L638.08 392.00L638.12 391.93L638.20 391.49L638.30 390.45L638.42 388.89L638.56 387.25L638.71 386.03L638.86 385.58L639.02 386.05L639.17 387.37L639.31 389.31L639.43 391.36L639.53 392.95L639.60 393.78L639.65 394.03L639.66 394.07L639.68 394.14L639.75 394.25L639.85 394.11L639.99 393.45L640.14 392.62L640.30 392.65L640.45 394.32L640.58 397.46L640.68 400.70L640.75 402.42L640.77 402.79L640.79 402.73L640.86 402.09L640.96 400.18L641.09 397.42L641.24 395.15L641.41 394.31L641.57 395.14L641.73 397.27L641.86 399.70L641.96 401.23L642.03 401.66L642.05 401.68L642.06 401.67L642.10 401.54L642.17 400.97L642.26 399.70L642.37 397.80L642.50 395.69L642.64 393.86L642.80 392.65L642.95 392.23L643.11 392.65L643.26 393.88L643.40 395.77L643.53 397.98L643.65 400.04L643.74 401.47L643.80 402.14L643.84 402.33L643.86 402.34L643.87 402.31L643.92 401.85L644.00 400.20L644.10 397.27L644.23 393.93L644.37 391.09L644.53 389.27L644.69 388.64L644.85 389.27L645.01 391.09L645.15 393.92L645.28 397.25L645.38 400.16L645.46 401.79L645.50 402.25L645.52 402.28L645.53 402.25L645.58 402.01L645.66 401.15L645.76 399.45L645.89 397.24L646.04 395.16L646.20 393.74L646.36 393.24L646.52 393.73L646.68 395.11L646.83 397.06L646.95 399.05L647.06 400.49L647.14 401.16L647.18 401.32L647.20 401.32L647.22 401.28L647.28 400.95L647.37 399.92L647.48 398.18L647.62 396.38L647.78 395.29L647.94 395.29L648.09 396.30L648.23 397.82L648.35 399.12L648.44 399.77L648.50 399.91L648.52 399.90L648.54 399.86L648.60 399.14L648.70 396.85L648.83 393.61L648.98 391.01L649.14 390.05L649.30 391.02L649.44 393.68L649.57 397.09L649.67 399.60L649.73 400.45L649.75 400.52L649.77 400.53L649.82 400.30L649.91 399.20L650.02 397.06L650.16 394.58L650.31 392.70L650.47 392.01L650.63 392.73L650.78 394.79L650.92 397.80L651.03 400.85L651.12 402.81L651.17 403.46L651.19 403.54L651.21 403.37L651.28 402.37L651.39 400.04L651.52 397.36L651.68 395.72L651.84 395.71L652.00 396.94L652.14 398.37L652.24 399.09L652.31 399.17L652.33 399.13L652.35 399.13L652.40 399.03L652.49 398.56L652.60 397.49L652.73 395.99L652.88 394.56L653.04 393.69L653.21 393.69L653.37 394.60L653.52 396.20L653.66 398.00L653.77 399.43L653.85 400.18L653.90 400.40L653.92 400.43L653.94 400.44L654.01 399.99L654.10 398.31L654.23 396.13L654.37 395.14L654.51 396.22L654.63 398.97L654.73 401.68L654.79 402.83L654.82 402.97L654.84 402.75L654.91 400.93L655.01 397.00L655.15 393.43L655.29 392.10L655.44 393.34L655.57 396.27L655.68 398.79L655.74 399.55L655.77 399.55L655.79 399.49L655.85 398.91L655.95 397.12L656.08 394.50L656.23 392.31L656.40 391.49L656.56 392.29L656.71 394.37L656.84 396.73L656.94 398.21L657.00 398.62L657.02 398.64L657.04 398.65L657.09 398.58L657.17 398.15L657.28 397.15L657.42 395.70L657.57 394.28L657.73 393.42L657.89 393.42L658.05 394.35L658.20 396.02L658.33 397.95L658.44 399.52L658.53 400.37L658.58 400.64L658.59 400.68L658.62 400.56L658.68 399.42L658.77 396.60L658.89 393.69L659.02 392.54L659.15 393.65L659.27 396.23L659.37 398.43L659.43 399.15L659.45 399.17L659.48 399.22L659.55 398.99L659.67 397.79L659.83 395.98L660.00 395.08L660.17 396.13L660.32 398.91L660.44 401.79L660.52 403.13L660.54 403.34L660.56 403.26L660.62 402.44L660.72 400.05L660.84 396.79L660.99 394.24L661.15 393.32L661.30 394.23L661.45 396.63L661.57 399.51L661.67 401.43L661.73 401.98L661.75 402.00L661.76 401.98L661.81 401.63L661.89 400.28L662.00 397.80L662.13 394.94L662.27 392.60L662.43 391.33L662.58 391.33L662.74 392.62L662.88 395.01L663.01 398.02L663.12 400.73L663.20 402.27L663.25 402.72L663.26 402.76L663.29 402.64L663.35 401.16L663.46 397.36L663.59 393.23L663.74 390.80L663.90 390.80L664.05 393.22L664.19 397.28L664.29 400.94L664.36 402.32L664.38 402.42L664.40 402.37L664.46 401.66L664.55 399.45L664.68 396.34L664.82 393.84L664.98 392.91L665.13 393.83L665.28 396.31L665.40 399.36L665.50 401.48L665.56 402.14L665.58 402.18" stroke="#ad5e28"/>
<path d="M389.70 374.90L389.90 374.64L390.10 374.39L390.30 374.14L390.50 373.89L390.70 373.65L390.90 373.41L391.10 373.18L391.30 372.95L391.50 372.73L391.70 372.51L391.90 372.29L392.10 372.08L392.30 371.88L392.50 371.68L392.70 371.49L392.90 371.30L393.10 371.12L393.30 370.95L393.50 370.78L393.70 370.62L393.90 370.46L394.10 370.31L394.30 370.17L394.50 370.02L394.70 369.88L394.90 369.75L395.10 369.62L395.30 369.49L395.50 369.36L395.70 369.24L395.90 369.12L396.10 369.00L396.30 368.88L396.50 368.77L396.70 368.65L396.90 368.54L397.10 368.42L397.30 368.31L397.50 368.20L397.70 368.09L397.90 367.98L398.10 367.87L398.30 367.76L398.50 367.65L398.70 367.54L398.90 367.43L399.10 367.33L399.30 367.23L399.50 367.13L399.70 367.03L399.90 366.93L400.10 366.83L400.30 366.74L400.50 366.65L400.70 366.57L400.90 366.48L401.10 366.40L401.30 366.32L401.50 366.25L401.70 366.18L401.90 366.11L402.10 366.04L402.30 365.98L402.50 365.91L402.70 365.85L402.90 365.79L403.10 365.74L403.30 365.68L403.50 365.62L403.70 365.57L403.90 365.51L404.10 365.45L404.30 365.40L404.50 365.34L404.70 365.28L404.90 365.22L405.10 365.16L405.30 365.10L405.50 365.04L405.70 364.97L405.90 364.90L406.10 364.83L406.30 364.76L406.50 364.68L406.70 364.60L406.90 364.52L407.10 364.43L407.30 364.35L407.50 364.26L407.70 364.17L407.90 364.08L408.10 363.99L408.30 363.90L408.50 363.81L408.70 363.71L408.90 363.61L409.10 363.51L409.30 363.40L409.50 363.29L409.70 363.18L409.90 363.07L410.10 362.95L410.30 362.83L410.50 362.70L410.70 362.58L410.90 362.44L411.10 362.31L411.30 362.17L411.50 362.02L411.70 361.88L411.90 361.72L412.10 361.56L412.30 361.40L412.50 361.22L412.70 361.03L412.90 360.81L413.10 360.57L413.30 360.32L413.50 360.06L413.70 359.78L413.90 359.49L414.10 359.19L414.30 358.89L414.50 358.58L414.70 358.26L414.90 357.94L415.10 357.62L415.30 357.30L415.50 356.99L415.70 356.68L415.90 356.37L416.10 356.07L416.30 355.78L416.50 355.50L416.70 355.23L416.90 354.95L417.10 354.68L417.30 354.41L417.50 354.14L417.70 353.87L417.90 353.60L418.10 353.33L418.30 353.06L418.50 352.80L418.70 352.53L418.90 352.26L419.10 352.00L419.30 351.73L419.50 351.47L419.70 351.20L419.90 350.94L420.10 350.67L420.30 350.41L420.50 350.15L420.70 349.88L420.90 349.62L421.10 349.36L421.30 349.09L421.50 348.83L421.70 348.57L421.90 348.30L422.10 348.03L422.30 347.76L422.50 347.49L422.70 347.22L422.90 346.95L423.10 346.67L423.30 346.40L423.50 346.13L423.70 345.86L423.90 345.59L424.10 345.32L424.30 345.06L424.50 344.80L424.70 344.54L424.90 344.29L425.10 344.04L425.30 343.80L425.50 343.56L425.70 343.33L425.90 343.11L426.10 342.89L426.30 342.68L426.50 342.47L426.70 342.26L426.90 342.06L427.10 341.86L427.30 341.66L427.50 341.47L427.70 341.27L427.90 341.08L428.10 340.90L428.30 340.71L428.50 340.53L428.70 340.35L428.90 340.17L429.10 339.99L429.30 339.82L429.50 339.64L429.70 339.47L429.90 339.30L430.10 339.14L430.30 338.97L430.50 338.81L430.70 338.64L430.90 338.48L431.10 338.32L431.30 338.16L431.50 338.01L431.70 337.86L431.90 337.71L432.10 337.56L432.30 337.42L432.50 337.27L432.70 337.13L432.90 336.99L433.10 336.85L433.30 336.72L433.50 336.58L433.70 336.45L433.90 336.31L434.10 336.18L434.30 336.04L434.50 335.91L434.70 335.77L434.90 335.63L435.10 335.50L435.30 335.36L435.50 335.22L435.70 335.08L435.90 334.94L436.10 334.79L436.30 334.65L436.50 334.50L436.70 334.35L436.90 334.20L437.10 334.05L437.30 333.90L437.50 333.75L437.70 333.60L437.90 333.45L438.10 333.30L438.30 333.15L438.50 333.00L438.70 332.85L438.90 332.69L439.10 332.54L439.30 332.38L439.50 332.23L439.70 332.07L439.90 331.91L440.10 331.75L440.30 331.59L440.50 331.43L440.70 331.27L440.90 331.11L441.10 330.94L441.30 330.77L441.50 330.60L441.70 330.43L441.90 330.26L442.10 330.09L442.30 329.91L442.50 329.73L442.70 329.55L442.90 329.37L443.10 329.18L443.30 329.00L443.50 328.81L443.70 328.62L443.90 328.42L444.10 328.23L444.30 328.03L444.50 327.83L444.70 327.63L444.90 327.43L445.10 327.23L445.30 327.02L445.50 326.82L445.70 326.61L445.90 326.41L446.10 326.20L446.30 325.99L446.50 325.78L446.70 325.57L446.90 325.36L447.10 325.14L447.30 324.93L447.50 324.72L447.70 324.51L447.90 324.29L448.10 324.08L448.30 323.86L448.50 323.65L448.70 323.44L448.90 323.22L449.10 323.01L449.30 322.80L449.50 322.59L449.70 322.37L449.90 322.16L450.10 321.95L450.30 321.74L450.50 321.53L450.70 321.33L450.90 321.12L451.10 320.91L451.30 320.71L451.50 320.50L451.70 320.30L451.90 320.10L452.10 319.90L452.30 319.70L452.50 319.50L452.70 319.30L452.90 319.10L453.10 318.91L453.30 318.71L453.50 318.51L453.70 318.31L453.90 318.11L454.10 317.92L454.30 317.72L454.50 317.52L454.70 317.33L454.90 317.13L455.10 316.93L455.30 316.74L455.50 316.54L455.70 316.35L455.90 316.15L456.10 315.95L456.30 315.76L456.50 315.56L456.70 315.37L456.90 315.17L457.10 314.98L457.30 314.78L457.50 314.59L457.70 314.40L457.90 314.20L458.10 314.01L458.30 313.81L458.50 313.62L458.70 313.43L458.90 313.23L459.10 313.04L459.30 312.84L459.50 312.65L459.70 312.46L459.90 312.26L460.10 312.07L460.30 311.88L460.50 311.68L460.70 311.49L460.90 311.30L461.10 311.10L461.30 310.91L461.50 310.72L461.70 310.52L461.90 310.33L462.10 310.14L462.30 309.95L462.50 309.75L462.70 309.56L462.90 309.37L463.10 309.17L463.30 308.98L463.50 308.79L463.70 308.59L463.90 308.40L464.10 308.21L464.30 308.01L464.50 307.82L464.70 307.63L464.90 307.43L465.10 307.24L465.30 307.05L465.50 306.86L465.70 306.66L465.90 306.47L466.10 306.28L466.30 306.08L466.50 305.89L466.70 305.70L466.90 305.51L467.10 305.32L467.30 305.12L467.50 304.93L467.70 304.74L467.90 304.55L468.10 304.35L468.30 304.16L468.50 303.97L468.70 303.78L468.90 303.59L469.10 303.39L469.30 303.20L469.50 303.01L469.70 302.82L469.90 302.63L470.10 302.44L470.30 302.24L470.50 302.05L470.70 301.86L470.90 301.67L471.10 301.48L471.30 301.29L471.50 301.10L471.70 300.91L471.90 300.71L472.10 300.52L472.30 300.33L472.50 300.14L472.70 299.95L472.90 299.76L473.10 299.57L473.30 299.38L473.50 299.19L473.70 299.00L473.90 298.81L474.10 298.62L474.30 298.43L474.50 298.24L474.70 298.05L474.90 297.86L475.10 297.67L475.30 297.48L475.50 297.28L475.70 297.09L475.90 296.91L476.10 296.72L476.30 296.53L476.50 296.34L476.70 296.15L476.90 295.96L477.10 295.77L477.30 295.58L477.50 295.39L477.70 295.20L477.90 295.01L478.10 294.82L478.30 294.63L478.50 294.45L478.70 294.26L478.90 294.07L479.10 293.88L479.30 293.69L479.50 293.50L479.70 293.32L479.90 293.13L480.10 292.94L480.30 292.75L480.50 292.56L480.70 292.38L480.90 292.19L481.10 292.00L481.30 291.81L481.50 291.63L481.70 291.44L481.90 291.25L482.10 291.06L482.30 290.87L482.50 290.69L482.70 290.50L482.90 290.31L483.10 290.12L483.30 289.94L483.50 289.75L483.70 289.56L483.90 289.37L484.10 289.19L484.30 289.00L484.50 288.81L484.70 288.62L484.90 288.43L485.10 288.25L485.30 288.06L485.50 287.87L485.70 287.68L485.90 287.49L486.10 287.30L486.30 287.12L486.50 286.93L486.70 286.74L486.90 286.55L487.10 286.36L487.30 286.17L487.50 285.98L487.70 285.79L487.90 285.61L488.10 285.42L488.30 285.23L488.50 285.04L488.70 284.85L488.90 284.66L489.10 284.47L489.30 284.28L489.50 284.09L489.70 283.90L489.90 283.71L490.10 283.52L490.30 283.33L490.50 283.14L490.70 282.95L490.90 282.76L491.10 282.57L491.30 282.38L491.50 282.19L491.70 282.00L491.90 281.81L492.10 281.62L492.30 281.43L492.50 281.24L492.70 281.05L492.90 280.86L493.10 280.67L493.30 280.48L493.50 280.29L493.70 280.10L493.90 279.91L494.10 279.72L494.30 279.53L494.50 279.34L494.70 279.15L494.90 278.96L495.10 278.77L495.30 278.58L495.50 278.39L495.70 278.20L495.90 278.01L496.10 277.82L496.30 277.63L496.50 277.44L496.70 277.25L496.90 277.06L497.10 276.87L497.30 276.68L497.50 276.49L497.70 276.30L497.90 276.11L498.10 275.92L498.30 275.73L498.50 275.54L498.70 275.35L498.90 275.16L499.10 274.97L499.30 274.78L499.50 274.59L499.70 274.40L499.90 274.20L500.10 274.01L500.30 273.82L500.50 273.63L500.70 273.44L500.90 273.25L501.10 273.06L501.30 272.87L501.50 272.68L501.70 272.48L501.90 272.29L502.10 272.10L502.30 271.91L502.50 271.71L502.70 271.52L502.90 271.33L503.10 271.14L503.30 270.94L503.50 270.75L503.70 270.56L503.90 270.36L504.10 270.17L504.30 269.98L504.50 269.78L504.70 269.59L504.90 269.40L505.10 269.21L505.30 269.01L505.50 268.82L505.70 268.63L505.90 268.44L506.10 268.24L506.30 268.05L506.50 267.86L506.70 267.67L506.90 267.48L507.10 267.29L507.30 267.10L507.50 266.90L507.70 266.71L507.90 266.52L508.10 266.33L508.30 266.15L508.50 265.96L508.70 265.77L508.90 265.58L509.10 265.39L509.30 265.20L509.50 265.02L509.70 264.83L509.90 264.64L510.10 264.46L510.30 264.27L510.50 264.09L510.70 263.90L510.90 263.72L511.10 263.54L511.30 263.35L511.50 263.17L511.70 262.99L511.90 262.81L512.10 262.63L512.30 262.45L512.50 262.27L512.70 262.08L512.90 261.90L513.10 261.72L513.30 261.54L513.50 261.36L513.70 261.18L513.90 261.00L514.10 260.82L514.30 260.64L514.50 260.46L514.70 260.29L514.90 260.11L515.10 259.93L515.30 259.76L515.50 259.58L515.70 259.41L515.90 259.24L516.10 259.06L516.30 258.89L516.50 258.72L516.70 258.56L516.90 258.39L517.10 258.22L517.30 258.06L517.50 257.90L517.70 257.74L517.90 257.58L518.10 257.42L518.30 257.26L518.50 257.11L518.70 256.95L518.90 256.79L519.10 256.64L519.30 256.48L519.50 256.33L519.70 256.18L519.90 256.02L520.10 255.87L520.30 255.72L520.50 255.57L520.70 255.42L520.90 255.28L521.10 255.13L521.30 254.99L521.50 254.84L521.70 254.70L521.90 254.56L522.10 254.42L522.30 254.29L522.50 254.16L522.70 254.02L522.90 253.89L523.10 253.77L523.30 253.64L523.50 253.52L523.70 253.40L523.90 253.28L524.10 253.16L524.30 253.04L524.50 252.92L524.70 252.80L524.90 252.69L525.10 252.57L525.30 252.45L525.50 252.34L525.70 252.23L525.90 252.12L526.10 252.01L526.30 251.91L526.50 251.81L526.70 251.71L526.90 251.62L527.10 251.53L527.30 251.45L527.50 251.37L527.70 251.30L527.90 251.23L528.10 251.17L528.30 251.11L528.50 251.05L528.70 250.98L528.90 250.92L529.10 250.86L529.30 250.80L529.50 250.74L529.70 250.69L529.90 250.63L530.10 250.58L530.30 250.53L530.50 250.49L530.70 250.45L530.90 250.41L531.10 250.38L531.30 250.35L531.50 250.33L531.70 250.31L531.90 250.30L532.10 250.30L532.30 250.30L532.50 250.32L532.70 250.34L532.90 250.37L533.10 250.40L533.30 250.44L533.50 250.49L533.70 250.53L533.90 250.59L534.10 250.64L534.30 250.70L534.50 250.76L534.70 250.81L534.90 250.87L535.10 250.93L535.30 250.99L535.50 251.05L535.70 251.12L535.90 251.20L536.10 251.27L536.30 251.36L536.50 251.44L536.70 251.53L536.90 251.62L537.10 251.72L537.30 251.82L537.50 251.92L537.70 252.03L537.90 252.14L538.10 252.25L538.30 252.37L538.50 252.49L538.70 252.61L538.90 252.73L539.10 252.86L539.30 253.00L539.50 253.13L539.70 253.27L539.90 253.42L540.10 253.57L540.30 253.74L540.50 253.91L540.70 254.09L540.90 254.28L541.10 254.48L541.30 254.68L541.50 254.89L541.70 255.11L541.90 255.34L542.10 255.57L542.30 255.81L542.50 256.05L542.70 256.30L542.90 256.56L543.10 256.82L543.30 257.09L543.50 257.36L543.70 257.63L543.90 257.92L544.10 258.20L544.30 258.49L544.50 258.80L544.70 259.11L544.90 259.44L545.10 259.78L545.30 260.13L545.50 260.49L545.70 260.86L545.90 261.25L546.10 261.65L546.30 262.05L546.50 262.47L546.70 262.91L546.90 263.35L547.10 263.81L547.30 264.28L547.50 264.76L547.70 265.25L547.90 265.75L548.10 266.27L548.30 266.81L548.50 267.37L548.70 267.96L548.90 268.56L549.10 269.20L549.30 269.86L549.50 270.56L549.70 271.29L549.90 272.06L550.10 272.86L550.30 273.71L550.50 274.60L550.70 275.47L550.90 276.31L551.10 277.18L551.30 278.14L551.50 279.25L551.70 280.58L551.90 282.19L552.10 284.14L552.30 286.50L552.50 294.71L552.70 310.95L552.90 330.36L553.10 348.08L553.30 359.27L553.50 357.20L553.70 334.34L553.90 305.93L554.10 290.00L554.30 286.69L554.50 284.04L554.70 281.95L554.90 280.32L555.10 279.07L555.30 278.10L555.50 277.30L555.70 276.59L555.90 275.93L556.10 275.32L556.30 274.77L556.50 274.27L556.70 273.82L556.90 273.43L557.10 273.09L557.30 272.80L557.50 272.56L557.70 272.37L557.90 272.23L558.10 272.11L558.30 271.99L558.50 271.88L558.70 271.77L558.90 271.68L559.10 271.60L559.30 271.53L559.50 271.48L559.70 271.43L559.90 271.41L560.10 271.40L560.30 271.42L560.50 271.46L560.70 271.53L560.90 271.63L561.10 271.74L561.30 271.88L561.50 272.04L561.70 272.21L561.90 272.40L562.10 272.59L562.30 272.80L562.50 273.06L562.70 273.42L562.90 273.87L563.10 274.39L563.30 274.99L563.50 275.65L563.70 276.36L563.90 277.12L564.10 277.91L564.30 278.73L564.50 279.58L564.70 280.44L564.90 281.42L565.10 282.52L565.30 283.72L565.50 285.01L565.70 286.37L565.90 287.79L566.10 289.25L566.30 290.77L566.50 292.43L566.70 294.22L566.90 296.10L567.10 298.04L567.30 300.00L567.50 301.95L567.70 303.89L567.90 305.88L568.10 307.94L568.30 310.12L568.50 312.46L568.70 315.00L568.90 317.66L569.10 320.50L569.30 323.77L569.50 327.70L569.70 332.66L569.90 339.33L570.10 347.68L570.30 357.52L570.50 368.70L570.70 381.05L570.90 394.40L570.90 394.40L570.90 394.37L570.91 393.92L570.93 392.23L570.96 388.92L570.99 384.59L571.02 380.05L571.07 375.73L571.12 371.76L571.18 368.16L571.24 364.90L571.31 361.93L571.39 359.21L571.47 356.71L571.56 354.41L571.66 352.29L571.76 350.31L571.87 348.48L571.98 346.78L572.10 345.19L572.22 343.71L572.35 342.32L572.48 341.04L572.61 339.84L572.75 338.72L572.90 337.69L573.05 336.73L573.20 335.85L573.36 335.04L573.52 334.31L573.68 333.64L573.84 333.03L574.01 332.50L574.18 332.03L574.35 331.62L574.52 331.28L574.70 331.00L574.87 330.78L575.05 330.62L575.22 330.53L575.40 330.50L575.58 330.53L575.75 330.62L575.93 330.78L576.10 331.00L576.28 331.28L576.45 331.62L576.62 332.03L576.79 332.50L576.96 333.03L577.12 333.64L577.28 334.31L577.44 335.04L577.60 335.85L577.75 336.73L577.90 337.69L578.05 338.72L578.19 339.84L578.32 341.04L578.45 342.32L578.58 343.70L578.70 345.18L578.82 346.77L578.93 348.48L579.04 350.31L579.14 352.27L579.24 354.40L579.33 356.69L579.41 359.18L579.49 361.89L579.56 364.84L579.62 368.08L579.68 371.63L579.73 375.50L579.78 379.66L579.81 383.92L579.84 387.80L579.87 390.59L579.89 391.93L579.90 392.28L579.90 392.30L579.90 392.23L579.92 391.51L579.93 389.04L579.96 384.75L580.00 379.72L580.04 374.79L580.09 370.27L580.14 366.20L580.21 362.54L580.28 359.24L580.36 356.25L580.44 353.52L580.54 351.02L580.64 348.71L580.74 346.58L580.85 344.61L580.97 342.78L581.10 341.07L581.23 339.48L581.36 338.00L581.51 336.62L581.65 335.33L581.80 334.13L581.96 333.02L582.12 331.99L582.29 331.03L582.46 330.15L582.63 329.34L582.81 328.60L582.99 327.93L583.17 327.33L583.35 326.79L583.54 326.32L583.73 325.92L583.92 325.57L584.12 325.30L584.31 325.08L584.51 324.92L584.70 324.83L584.90 324.80L585.10 324.83L585.29 324.92L585.49 325.08L585.68 325.29L585.88 325.57L586.07 325.91L586.26 326.31L586.45 326.77L586.63 327.30L586.81 327.89L586.99 328.54L587.17 329.25L587.34 330.02L587.51 330.86L587.68 331.75L587.84 332.70L588.00 333.70L588.15 334.76L588.29 335.85L588.44 336.99L588.57 338.14L588.70 339.30L588.83 340.45L588.95 341.57L589.06 342.62L589.16 343.57L589.26 344.41L589.36 345.11L589.44 345.65L589.52 346.04L589.59 346.28L589.66 346.40L589.71 346.43L589.76 346.40L589.80 346.32L589.84 346.23L589.87 346.14L589.88 346.06L589.90 346.02L589.90 346.00L589.91 346.02L589.92 346.06L589.95 346.12L589.99 346.17L590.04 346.17L590.09 346.09L590.16 345.89L590.24 345.51L590.33 344.95L590.43 344.19L590.53 343.27L590.64 342.22L590.76 341.11L590.89 339.98L591.02 338.87L591.16 337.84L591.31 336.92L591.45 336.11L591.61 335.45L591.76 334.94L591.91 334.60L592.07 334.42L592.23 334.42L592.39 334.60L592.54 334.96L592.69 335.51L592.85 336.24L592.99 337.17L593.14 338.28L593.27 339.59L593.41 341.10L593.54 342.79L593.66 344.68L593.77 346.76L593.87 348.98L593.97 351.33L594.06 353.71L594.14 356.01L594.21 358.07L594.26 359.73L594.31 360.88L594.35 361.55L594.38 361.86L594.39 361.98L594.40 362.00L594.41 362.09L594.43 362.31L594.47 362.51L594.53 362.42L594.60 361.74L594.69 360.31L594.79 358.24L594.90 355.85L595.02 353.46L595.15 351.27L595.29 349.41L595.44 347.93L595.59 346.86L595.74 346.22L595.90 346.00L596.06 346.22L596.21 346.88L596.36 347.98L596.51 349.55L596.65 351.61L596.78 354.18L596.90 357.32L597.01 361.11L597.11 365.67L597.20 371.18L597.27 377.88L597.33 385.97L597.37 394.57L597.39 399.45L597.40 400.00L597.41 399.94L597.42 398.87L597.45 395.34L597.50 389.92L597.55 384.23L597.61 379.02L597.69 374.43L597.77 370.43L597.87 366.93L597.97 363.87L598.09 361.19L598.21 358.85L598.34 356.82L598.47 355.08L598.61 353.62L598.76 352.41L598.91 351.45L599.06 350.74L599.21 350.27L599.37 350.03L599.53 350.03L599.69 350.27L599.84 350.74L599.99 351.45L600.14 352.41L600.29 353.62L600.43 355.09L600.56 356.83L600.69 358.86L600.81 361.21L600.93 363.91L601.03 367.00L601.13 370.55L601.21 374.65L601.29 379.44L601.35 385.09L601.40 391.84L601.45 399.79L601.48 407.70L601.49 411.64L601.50 412.00L601.51 408.97L601.56 395.22L601.63 383.29L601.73 374.73L601.84 368.56L601.98 364.20L602.13 361.40L602.28 360.02L602.44 360.02L602.60 361.39L602.75 364.17L602.89 368.44L603.00 374.35L603.10 381.91L603.17 389.82L603.21 393.69L603.23 393.91L603.25 390.32L603.31 375.82L603.42 364.31L603.55 356.89L603.70 352.67L603.87 351.30L604.03 352.67L604.19 356.83L604.32 364.02L604.42 374.17L604.48 382.63L604.50 383.61L604.53 382.10L604.60 371.67L604.72 361.48L604.86 355.49L605.02 353.53L605.18 355.50L605.32 361.62L605.43 372.66L605.51 388.34L605.53 393.03L605.55 392.68L605.60 389.55L605.68 383.02L605.78 376.41L605.91 371.29L606.06 367.91L606.21 366.24L606.37 366.24L606.53 367.86L606.68 371.04L606.81 375.50L606.91 380.31L606.99 383.59L607.04 384.50L607.06 384.49L607.08 384.47L607.14 382.97L607.25 378.56L607.38 373.49L607.54 369.98L607.70 368.75L607.87 370.01L608.02 373.80L608.16 379.97L608.26 387.13L608.32 391.17L608.34 391.65L608.36 391.39L608.41 388.72L608.48 382.66L608.58 376.12L608.70 370.80L608.84 367.02L608.99 364.78L609.15 364.04L609.30 364.78L609.45 366.98L609.59 370.62L609.71 375.53L609.81 380.99L609.89 385.08L609.93 386.41L609.95 386.47L609.96 386.45L610.01 383.76L610.09 376.91L610.19 369.77L610.32 364.13L610.46 360.19L610.62 357.86L610.78 357.09L610.94 357.86L611.10 360.21L611.24 364.26L611.37 370.25L611.47 378.78L611.55 391.12L611.60 408.14L611.61 413.74L611.64 409.56L611.70 394.34L611.81 382.97L611.95 376.07L612.11 372.77L612.27 372.77L612.43 376.04L612.57 382.79L612.68 393.17L612.75 403.05L612.77 404.40L612.80 402.73L612.87 392.83L612.98 382.98L613.13 377.11L613.28 375.20L613.44 377.09L613.58 382.72L613.70 391.29L613.77 397.47L613.79 398.05L613.81 397.94L613.85 397.03L613.91 394.31L614.00 390.07L614.11 385.57L614.24 381.67L614.38 378.67L614.53 376.67L614.69 375.67L614.85 375.67L615.01 376.64L615.16 378.52L615.30 381.19L615.43 384.34L615.54 387.39L615.63 389.56L615.69 390.51L615.73 390.67L615.74 390.64L615.76 390.35L615.82 385.96L615.91 377.80L616.02 370.57L616.17 365.45L616.32 362.42L616.49 361.43L616.66 362.43L616.81 365.49L616.95 370.79L617.07 378.72L617.16 389.80L617.22 400.75L617.24 402.64L617.26 401.91L617.33 394.55L617.44 385.04L617.58 378.48L617.73 375.25L617.90 375.25L618.06 378.52L618.20 385.36L618.31 396.43L618.38 409.87L618.40 412.94L618.42 411.55L618.48 402.57L618.57 392.28L618.69 384.80L618.83 380.04L618.99 377.73L619.15 377.73L619.31 379.99L619.45 384.43L619.57 390.67L619.67 396.66L619.72 398.97L619.74 399.00L619.77 398.60L619.83 394.44L619.93 387.16L620.07 381.31L620.22 378.29L620.38 378.29L620.53 381.31L620.66 387.16L620.77 394.44L620.83 398.60L620.86 399.00L620.87 398.74L620.93 396.15L621.02 390.33L621.13 384.20L621.27 379.52L621.43 376.70L621.59 375.76L621.76 376.69L621.91 379.44L622.05 383.82L622.17 389.09L622.25 393.26L622.31 394.67L622.33 394.74L622.34 394.22L622.39 388.99L622.47 380.23L622.58 372.57L622.70 366.83L622.85 362.88L623.01 360.56L623.18 359.79L623.34 360.56L623.50 362.88L623.65 366.83L623.78 372.57L623.88 380.25L623.96 389.04L624.01 394.33L624.02 394.86L624.04 394.84L624.10 393.99L624.18 391.05L624.30 386.74L624.43 382.82L624.59 380.26L624.75 379.37L624.91 380.27L625.06 382.95L625.20 387.27L625.31 392.59L625.40 397.06L625.45 398.82L625.47 399.00L625.49 398.93L625.54 398.01L625.62 395.09L625.72 390.79L625.85 386.70L626.00 383.73L626.16 382.20L626.32 382.20L626.47 383.73L626.62 386.70L626.75 390.79L626.85 395.09L626.93 398.01L626.98 398.93L627.00 399.00L627.02 398.71L627.08 395.46L627.18 388.90L627.31 382.89L627.46 379.10L627.62 377.83L627.78 379.10L627.93 382.89L628.06 388.90L628.16 395.46L628.22 398.71L628.24 399.00L628.27 398.53L628.33 393.72L628.43 385.71L628.57 379.15L628.72 375.19L628.89 373.88L629.06 375.19L629.21 379.15L629.35 385.71L629.45 393.72L629.51 398.53L629.54 399.00L629.55 398.96L629.60 398.42L629.68 396.53L629.79 393.36L629.91 389.98L630.06 387.37L630.21 385.99L630.37 385.99L630.52 387.37L630.67 389.98L630.79 393.36L630.90 396.53L630.98 398.42L631.03 398.96L631.04 399.00L631.07 398.83L631.14 396.75L631.26 392.13L631.41 388.03L631.57 386.51L631.73 388.03L631.88 392.12L632.00 396.70L632.07 398.75L632.10 398.91L632.12 398.61L632.18 395.20L632.29 388.46L632.42 382.38L632.57 378.57L632.74 377.29L632.91 378.57L633.07 382.38L633.20 388.47L633.30 395.25L633.37 398.69L633.39 399.00L633.41 398.37L633.48 392.82L633.58 384.56L633.71 378.41L633.86 375.32L634.02 375.32L634.17 378.37L634.30 384.29L634.41 391.69L634.47 395.87L634.49 396.23L634.51 396.17L634.55 395.84L634.62 394.92L634.72 393.23L634.84 391.07L634.97 388.98L635.12 387.40L635.28 386.57L635.44 386.57L635.60 387.29L635.74 388.51L635.88 389.84L636.00 390.89L636.10 391.46L636.17 391.62L636.21 391.61L636.22 391.58L636.24 391.62L636.29 391.72L636.37 391.77L636.47 391.62L636.60 391.13L636.75 390.34L636.91 389.56L637.07 389.22L637.24 389.65L637.39 391.00L637.54 393.20L637.67 395.87L637.77 398.36L637.85 399.99L637.90 400.69L637.92 400.85L637.93 400.59L637.99 398.55L638.07 393.77L638.18 388.32L638.32 383.98L638.47 381.33L638.63 380.45L638.78 381.29L638.93 383.67L639.07 387.04L639.18 390.27L639.26 392.04L639.32 392.36L639.33 392.31L639.35 392.30L639.39 392.15L639.47 391.59L639.56 390.37L639.68 388.60L639.82 386.72L639.97 385.21L640.13 384.38L640.29 384.38L640.45 385.21L640.60 386.71L640.73 388.56L640.85 390.30L640.95 391.48L641.02 392.02L641.07 392.16L641.08 392.17L641.10 392.19L641.14 392.24L641.22 392.21L641.33 391.96L641.46 391.42L641.60 390.66L641.76 389.98L641.93 389.69L642.09 390.03L642.25 391.04L642.40 392.58L642.52 394.26L642.63 395.63L642.71 396.44L642.76 396.76L642.77 396.84L642.79 396.71L642.85 395.86L642.95 393.65L643.07 390.74L643.22 388.48L643.38 387.67L643.53 388.40L643.68 390.15L643.80 391.88L643.90 392.77L643.96 392.91L643.98 392.87L644.00 392.86L644.06 391.99L644.16 389.31L644.29 386.29L644.42 385.03L644.56 386.36L644.69 389.89L644.78 393.70L644.85 395.42L644.87 395.61L644.89 395.54L644.95 394.80L645.04 392.55L645.16 389.26L645.31 386.31L645.46 384.67L645.63 384.67L645.79 386.26L645.93 388.98L646.05 391.81L646.15 393.52L646.20 393.99L646.22 394.01L646.24 393.87L646.31 393.06L646.40 391.22L646.52 389.29L646.66 388.53L646.79 389.16L646.91 390.34L647.01 391.04L647.07 391.15L647.09 391.34L647.12 391.35L647.18 391.38L647.29 391.35L647.42 391.21L647.57 391.09L647.72 391.33L647.85 392.08L647.95 392.96L648.02 393.49L648.05 393.63L648.07 393.63L648.13 393.45L648.23 392.71L648.35 391.36L648.50 390.01L648.66 389.46L648.82 390.04L648.97 391.51L649.09 393.13L649.19 394.14L649.25 394.46L649.27 394.49L649.30 394.42L649.36 393.65L649.47 391.43L649.61 388.59L649.76 386.75L649.92 386.75L650.08 388.54L650.22 391.17L650.32 393.10L650.39 393.70L650.42 393.73L650.44 393.69L650.51 393.01L650.61 390.92L650.75 388.14L650.91 386.30L651.07 386.30L651.23 388.17L651.36 391.03L651.47 393.25L651.54 394.00L651.56 394.06L651.58 394.06L651.62 393.98L651.70 393.63L651.80 392.81L651.93 391.58L652.07 390.26L652.22 389.26L652.38 388.89L652.54 389.26L652.69 390.30L652.83 391.74L652.96 393.13L653.06 394.12L653.13 394.59L653.18 394.72L653.20 394.73L653.22 394.70L653.27 394.31L653.36 393.21L653.48 391.83L653.61 391.21L653.73 391.80L653.85 393.06L653.94 393.97L654.00 394.23L654.02 394.24L654.04 394.21L654.11 393.81L654.21 392.57L654.34 391.00L654.49 390.28L654.63 391.00L654.76 392.58L654.86 393.82L654.93 394.23L654.95 394.26L654.97 394.23L655.03 393.91L655.12 392.89L655.24 391.56L655.37 390.96L655.49 391.56L655.61 392.86L655.70 393.84L655.76 394.15L655.78 394.17L655.80 394.10L655.86 393.78L655.96 393.01L656.09 391.92L656.24 391.01L656.41 390.67L656.57 390.93L656.72 391.44L656.85 391.81L656.95 391.94L657.01 391.93L657.03 391.91L657.06 391.86L657.13 391.33L657.23 389.77L657.37 387.87L657.52 387.04L657.67 387.87L657.81 389.71L657.92 391.20L657.98 391.68L658.01 391.72L658.04 391.73L658.11 391.58L658.23 390.87L658.39 389.78L658.56 389.22L658.73 389.86L658.88 391.37L659.00 392.69L659.08 393.22L659.11 393.29L659.13 393.30L659.21 393.03L659.33 391.98L659.48 390.50L659.65 389.78L659.82 390.57L659.97 392.44L660.09 394.08L660.17 394.73L660.19 394.81L660.22 394.74L660.29 394.43L660.39 393.81L660.53 393.07L660.69 392.61L660.86 392.60L661.02 392.84L661.16 393.03L661.27 393.09L661.34 393.08L661.36 393.06L661.38 393.07L661.44 393.05L661.54 392.88L661.67 392.50L661.82 392.03L661.98 391.81L662.14 392.06L662.28 392.70L662.41 393.37L662.51 393.79L662.57 393.94L662.59 393.97L662.61 393.96L662.68 393.66L662.78 392.57L662.91 390.73L663.06 389.03L663.23 388.36L663.39 389.05L663.54 390.82L663.67 392.82L663.78 394.09L663.84 394.48L663.86 394.51L663.88 394.34L663.95 393.73L664.05 392.70L664.19 391.69L664.34 391.16L664.50 391.15L664.66 391.31L664.79 391.40L664.90 391.40L664.96 391.37L664.99 391.65L665.01 391.66L665.08 391.69L665.18 391.69L665.32 391.60L665.48 391.44L665.64 391.45L665.79 391.98L665.93 392.99L666.04 394.02L666.10 394.63L666.13 394.80" stroke="#23a66e"/>
</g>
<rect x="389.70" y="241.30" width="273.60" height="168.70" fill="none" stroke="#1a1a1a" stroke-width="1"/>
<line x1="401.90" y1="266.5" x2="414.80" y2="266.5" stroke="#ad5e28" stroke-width="1.3"/>
<line x1="401.90" y1="284.4" x2="414.80" y2="284.4" stroke="#23a66e" stroke-width="1.3"/>
<text transform="translate(419.40,269.7) scale(1,1.13)" class="ss" style="font-size:9.5px">3 turns</text>
<text transform="translate(419.40,287.6) scale(1,1.13)" class="ss" style="font-size:9.5px">4 turns</text>
<text transform="translate(357.60,335.4) rotate(-90)" class="ss" style="font-size:12.6px;stroke-width:0.35px">&#916;</text>
<text transform="translate(351.50,328.6) rotate(-90)" class="ss" style="font-size:7.6px">2</text>
<text transform="translate(359.00,323.4) rotate(-90)" class="ss" style="font-size:8px;font-style:italic">R</text>
</svg>
</body></html>
